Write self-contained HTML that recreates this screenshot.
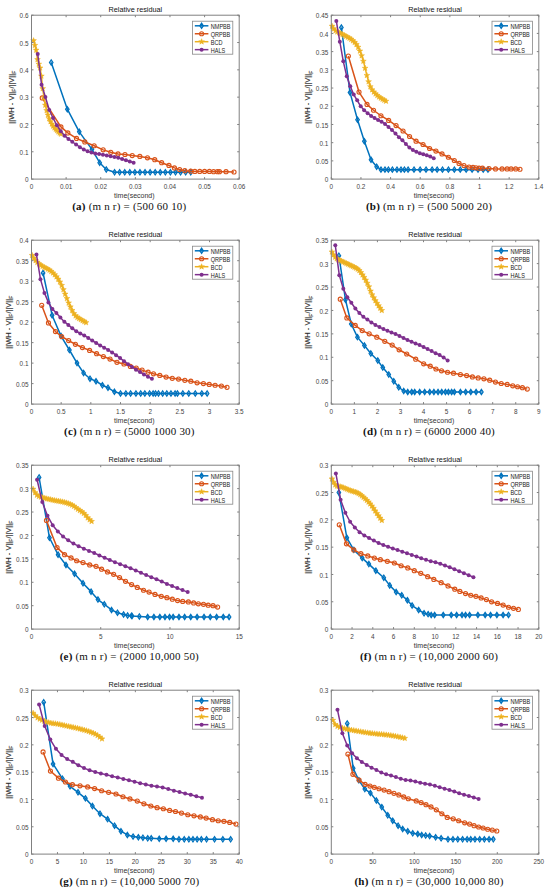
<!DOCTYPE html>
<html><head><meta charset="utf-8"><style>html,body{margin:0;padding:0;background:#fff;width:550px;height:891px;overflow:hidden}svg{display:block}</style></head><body>
<svg width="550" height="891" viewBox="0 0 550 891" font-family="Liberation Sans, sans-serif">
<g>
<path d="M51.23 62.46 L67.33 109.17 L79.27 131.84 L91.94 149.32 L99.69 162.71 L106.27 169.54 L114.58 172.27 L119.66 172.27 L124.73 172.27 L129.81 172.27 L134.89 172.27 L139.97 172.27 L145.04 172.27 L150.12 172.27 L155.20 172.27 L160.27 172.27 L165.35 172.27 L170.43 172.27 L175.51 172.27 L180.58 172.27 L185.66 172.27 L190.74 172.27" fill="none" stroke="#0072BD" stroke-width="1.50" stroke-linejoin="round"/>
<path d="M51.23 59.76L53.03 62.46L51.23 65.16L49.43 62.46Z" fill="#0072BD" fill-opacity="0.45" stroke="#0072BD" stroke-width="1.15"/><path d="M67.33 106.47L69.13 109.17L67.33 111.87L65.53 109.17Z" fill="#0072BD" fill-opacity="0.45" stroke="#0072BD" stroke-width="1.15"/><path d="M79.27 129.14L81.07 131.84L79.27 134.54L77.47 131.84Z" fill="#0072BD" fill-opacity="0.45" stroke="#0072BD" stroke-width="1.15"/><path d="M91.94 146.62L93.74 149.32L91.94 152.02L90.14 149.32Z" fill="#0072BD" fill-opacity="0.45" stroke="#0072BD" stroke-width="1.15"/><path d="M99.69 160.01L101.49 162.71L99.69 165.41L97.89 162.71Z" fill="#0072BD" fill-opacity="0.45" stroke="#0072BD" stroke-width="1.15"/><path d="M106.27 166.84L108.07 169.54L106.27 172.24L104.47 169.54Z" fill="#0072BD" fill-opacity="0.45" stroke="#0072BD" stroke-width="1.15"/><path d="M114.58 169.57L116.38 172.27L114.58 174.97L112.78 172.27Z" fill="#0072BD" fill-opacity="0.45" stroke="#0072BD" stroke-width="1.15"/><path d="M119.66 169.57L121.46 172.27L119.66 174.97L117.86 172.27Z" fill="#0072BD" fill-opacity="0.45" stroke="#0072BD" stroke-width="1.15"/><path d="M124.73 169.57L126.53 172.27L124.73 174.97L122.93 172.27Z" fill="#0072BD" fill-opacity="0.45" stroke="#0072BD" stroke-width="1.15"/><path d="M129.81 169.57L131.61 172.27L129.81 174.97L128.01 172.27Z" fill="#0072BD" fill-opacity="0.45" stroke="#0072BD" stroke-width="1.15"/><path d="M134.89 169.57L136.69 172.27L134.89 174.97L133.09 172.27Z" fill="#0072BD" fill-opacity="0.45" stroke="#0072BD" stroke-width="1.15"/><path d="M139.97 169.57L141.77 172.27L139.97 174.97L138.17 172.27Z" fill="#0072BD" fill-opacity="0.45" stroke="#0072BD" stroke-width="1.15"/><path d="M145.04 169.57L146.84 172.27L145.04 174.97L143.24 172.27Z" fill="#0072BD" fill-opacity="0.45" stroke="#0072BD" stroke-width="1.15"/><path d="M150.12 169.57L151.92 172.27L150.12 174.97L148.32 172.27Z" fill="#0072BD" fill-opacity="0.45" stroke="#0072BD" stroke-width="1.15"/><path d="M155.20 169.57L157.00 172.27L155.20 174.97L153.40 172.27Z" fill="#0072BD" fill-opacity="0.45" stroke="#0072BD" stroke-width="1.15"/><path d="M160.27 169.57L162.07 172.27L160.27 174.97L158.47 172.27Z" fill="#0072BD" fill-opacity="0.45" stroke="#0072BD" stroke-width="1.15"/><path d="M165.35 169.57L167.15 172.27L165.35 174.97L163.55 172.27Z" fill="#0072BD" fill-opacity="0.45" stroke="#0072BD" stroke-width="1.15"/><path d="M170.43 169.57L172.23 172.27L170.43 174.97L168.63 172.27Z" fill="#0072BD" fill-opacity="0.45" stroke="#0072BD" stroke-width="1.15"/><path d="M175.51 169.57L177.31 172.27L175.51 174.97L173.71 172.27Z" fill="#0072BD" fill-opacity="0.45" stroke="#0072BD" stroke-width="1.15"/><path d="M180.58 169.57L182.38 172.27L180.58 174.97L178.78 172.27Z" fill="#0072BD" fill-opacity="0.45" stroke="#0072BD" stroke-width="1.15"/><path d="M185.66 169.57L187.46 172.27L185.66 174.97L183.86 172.27Z" fill="#0072BD" fill-opacity="0.45" stroke="#0072BD" stroke-width="1.15"/><path d="M190.74 169.57L192.54 172.27L190.74 174.97L188.94 172.27Z" fill="#0072BD" fill-opacity="0.45" stroke="#0072BD" stroke-width="1.15"/>
<path d="M42.23 97.97 L60.92 126.93 L67.85 132.93 L76.50 138.40 L84.81 141.95 L94.16 145.77 L103.16 149.87 L110.77 152.33 L118.04 153.97 L124.97 154.51 L132.23 155.61 L139.85 156.43 L147.47 157.79 L154.74 159.71 L161.66 162.71 L168.93 165.44 L174.47 167.90 L179.66 169.54 L184.85 170.63 L190.74 171.18 L194.89 171.45 L199.74 171.45 L204.58 171.45 L209.43 171.45 L213.58 171.72 L217.39 171.72 L219.47 171.72 L226.05 171.72 L234.01 172.00" fill="none" stroke="#D95319" stroke-width="1.50" stroke-linejoin="round"/>
<circle cx="42.23" cy="97.97" r="2.05" fill="none" stroke="#D95319" stroke-width="1.1"/><circle cx="60.92" cy="126.93" r="2.05" fill="none" stroke="#D95319" stroke-width="1.1"/><circle cx="67.85" cy="132.93" r="2.05" fill="none" stroke="#D95319" stroke-width="1.1"/><circle cx="76.50" cy="138.40" r="2.05" fill="none" stroke="#D95319" stroke-width="1.1"/><circle cx="84.81" cy="141.95" r="2.05" fill="none" stroke="#D95319" stroke-width="1.1"/><circle cx="94.16" cy="145.77" r="2.05" fill="none" stroke="#D95319" stroke-width="1.1"/><circle cx="103.16" cy="149.87" r="2.05" fill="none" stroke="#D95319" stroke-width="1.1"/><circle cx="110.77" cy="152.33" r="2.05" fill="none" stroke="#D95319" stroke-width="1.1"/><circle cx="118.04" cy="153.97" r="2.05" fill="none" stroke="#D95319" stroke-width="1.1"/><circle cx="124.97" cy="154.51" r="2.05" fill="none" stroke="#D95319" stroke-width="1.1"/><circle cx="132.23" cy="155.61" r="2.05" fill="none" stroke="#D95319" stroke-width="1.1"/><circle cx="139.85" cy="156.43" r="2.05" fill="none" stroke="#D95319" stroke-width="1.1"/><circle cx="147.47" cy="157.79" r="2.05" fill="none" stroke="#D95319" stroke-width="1.1"/><circle cx="154.74" cy="159.71" r="2.05" fill="none" stroke="#D95319" stroke-width="1.1"/><circle cx="161.66" cy="162.71" r="2.05" fill="none" stroke="#D95319" stroke-width="1.1"/><circle cx="168.93" cy="165.44" r="2.05" fill="none" stroke="#D95319" stroke-width="1.1"/><circle cx="174.47" cy="167.90" r="2.05" fill="none" stroke="#D95319" stroke-width="1.1"/><circle cx="179.66" cy="169.54" r="2.05" fill="none" stroke="#D95319" stroke-width="1.1"/><circle cx="184.85" cy="170.63" r="2.05" fill="none" stroke="#D95319" stroke-width="1.1"/><circle cx="190.74" cy="171.18" r="2.05" fill="none" stroke="#D95319" stroke-width="1.1"/><circle cx="194.89" cy="171.45" r="2.05" fill="none" stroke="#D95319" stroke-width="1.1"/><circle cx="199.74" cy="171.45" r="2.05" fill="none" stroke="#D95319" stroke-width="1.1"/><circle cx="204.58" cy="171.45" r="2.05" fill="none" stroke="#D95319" stroke-width="1.1"/><circle cx="209.43" cy="171.45" r="2.05" fill="none" stroke="#D95319" stroke-width="1.1"/><circle cx="213.58" cy="171.72" r="2.05" fill="none" stroke="#D95319" stroke-width="1.1"/><circle cx="217.39" cy="171.72" r="2.05" fill="none" stroke="#D95319" stroke-width="1.1"/><circle cx="219.47" cy="171.72" r="2.05" fill="none" stroke="#D95319" stroke-width="1.1"/><circle cx="226.05" cy="171.72" r="2.05" fill="none" stroke="#D95319" stroke-width="1.1"/><circle cx="234.01" cy="172.00" r="2.05" fill="none" stroke="#D95319" stroke-width="1.1"/>
<path d="M33.58 40.60 L34.88 45.31 L36.18 50.10 L37.48 59.54 L38.79 64.16 L40.09 67.93 L41.39 76.03 L42.69 88.59 L43.99 97.74 L45.30 105.12 L46.60 110.48 L47.90 114.98 L49.20 118.66 L50.51 121.58 L51.81 123.99 L53.11 126.05 L54.41 127.75 L55.72 129.18 L57.02 130.50 L58.32 131.80 L59.62 132.96 L60.92 134.03" fill="none" stroke="#EDB120" stroke-width="1.50" stroke-linejoin="round"/>
<path d="M33.58,37.60 L34.32,39.59 L36.43,39.68 L34.78,40.99 L35.34,43.03 L33.58,41.86 L31.81,43.03 L32.38,40.99 L30.72,39.68 L32.84,39.59Z" fill="#EDB120" stroke="#EDB120" stroke-width="0.5"/><path d="M34.88,42.31 L35.62,44.29 L37.73,44.38 L36.08,45.70 L36.64,47.74 L34.88,46.57 L33.12,47.74 L33.68,45.70 L32.03,44.38 L34.14,44.29Z" fill="#EDB120" stroke="#EDB120" stroke-width="0.5"/><path d="M36.18,47.10 L36.92,49.08 L39.03,49.17 L37.38,50.49 L37.94,52.52 L36.18,51.36 L34.42,52.52 L34.98,50.49 L33.33,49.17 L35.44,49.08Z" fill="#EDB120" stroke="#EDB120" stroke-width="0.5"/><path d="M37.48,56.54 L38.22,58.52 L40.34,58.61 L38.68,59.93 L39.25,61.96 L37.48,60.80 L35.72,61.96 L36.29,59.93 L34.63,58.61 L36.74,58.52Z" fill="#EDB120" stroke="#EDB120" stroke-width="0.5"/><path d="M38.79,61.16 L39.53,63.14 L41.64,63.23 L39.98,64.54 L40.55,66.58 L38.79,65.42 L37.02,66.58 L37.59,64.54 L35.93,63.23 L38.05,63.14Z" fill="#EDB120" stroke="#EDB120" stroke-width="0.5"/><path d="M40.09,64.93 L40.83,66.91 L42.94,67.00 L41.29,68.32 L41.85,70.35 L40.09,69.19 L38.32,70.35 L38.89,68.32 L37.24,67.00 L39.35,66.91Z" fill="#EDB120" stroke="#EDB120" stroke-width="0.5"/><path d="M41.39,73.03 L42.13,75.01 L44.24,75.10 L42.59,76.41 L43.15,78.45 L41.39,77.29 L39.63,78.45 L40.19,76.41 L38.54,75.10 L40.65,75.01Z" fill="#EDB120" stroke="#EDB120" stroke-width="0.5"/><path d="M42.69,85.59 L43.43,87.57 L45.55,87.66 L43.89,88.98 L44.46,91.02 L42.69,89.85 L40.93,91.02 L41.49,88.98 L39.84,87.66 L41.95,87.57Z" fill="#EDB120" stroke="#EDB120" stroke-width="0.5"/><path d="M43.99,94.74 L44.74,96.72 L46.85,96.81 L45.19,98.13 L45.76,100.17 L43.99,99.00 L42.23,100.17 L42.80,98.13 L41.14,96.81 L43.25,96.72Z" fill="#EDB120" stroke="#EDB120" stroke-width="0.5"/><path d="M45.30,102.12 L46.04,104.10 L48.15,104.19 L46.50,105.51 L47.06,107.54 L45.30,106.38 L43.53,107.54 L44.10,105.51 L42.44,104.19 L44.56,104.10Z" fill="#EDB120" stroke="#EDB120" stroke-width="0.5"/><path d="M46.60,107.48 L47.34,109.46 L49.45,109.56 L47.80,110.87 L48.36,112.91 L46.60,111.74 L44.84,112.91 L45.40,110.87 L43.75,109.56 L45.86,109.46Z" fill="#EDB120" stroke="#EDB120" stroke-width="0.5"/><path d="M47.90,111.98 L48.64,113.96 L50.75,114.06 L49.10,115.37 L49.67,117.41 L47.90,116.24 L46.14,117.41 L46.70,115.37 L45.05,114.06 L47.16,113.96Z" fill="#EDB120" stroke="#EDB120" stroke-width="0.5"/><path d="M49.20,115.66 L49.94,117.64 L52.06,117.74 L50.40,119.05 L50.97,121.09 L49.20,119.92 L47.44,121.09 L48.01,119.05 L46.35,117.74 L48.46,117.64Z" fill="#EDB120" stroke="#EDB120" stroke-width="0.5"/><path d="M50.51,118.58 L51.25,120.56 L53.36,120.66 L51.70,121.97 L52.27,124.01 L50.51,122.84 L48.74,124.01 L49.31,121.97 L47.65,120.66 L49.77,120.56Z" fill="#EDB120" stroke="#EDB120" stroke-width="0.5"/><path d="M51.81,120.99 L52.55,122.97 L54.66,123.06 L53.01,124.38 L53.57,126.41 L51.81,125.25 L50.05,126.41 L50.61,124.38 L48.96,123.06 L51.07,122.97Z" fill="#EDB120" stroke="#EDB120" stroke-width="0.5"/><path d="M53.11,123.05 L53.85,125.03 L55.96,125.12 L54.31,126.44 L54.87,128.48 L53.11,127.31 L51.35,128.48 L51.91,126.44 L50.26,125.12 L52.37,125.03Z" fill="#EDB120" stroke="#EDB120" stroke-width="0.5"/><path d="M54.41,124.75 L55.15,126.73 L57.27,126.82 L55.61,128.14 L56.18,130.18 L54.41,129.01 L52.65,130.18 L53.21,128.14 L51.56,126.82 L53.67,126.73Z" fill="#EDB120" stroke="#EDB120" stroke-width="0.5"/><path d="M55.72,126.18 L56.46,128.16 L58.57,128.26 L56.91,129.57 L57.48,131.61 L55.72,130.44 L53.95,131.61 L54.52,129.57 L52.86,128.26 L54.97,128.16Z" fill="#EDB120" stroke="#EDB120" stroke-width="0.5"/><path d="M57.02,127.50 L57.76,129.48 L59.87,129.57 L58.22,130.89 L58.78,132.93 L57.02,131.76 L55.25,132.93 L55.82,130.89 L54.16,129.57 L56.28,129.48Z" fill="#EDB120" stroke="#EDB120" stroke-width="0.5"/><path d="M58.32,128.80 L59.06,130.78 L61.17,130.88 L59.52,132.19 L60.08,134.23 L58.32,133.06 L56.56,134.23 L57.12,132.19 L55.47,130.88 L57.58,130.78Z" fill="#EDB120" stroke="#EDB120" stroke-width="0.5"/><path d="M59.62,129.96 L60.36,131.94 L62.48,132.04 L60.82,133.35 L61.39,135.39 L59.62,134.22 L57.86,135.39 L58.42,133.35 L56.77,132.04 L58.88,131.94Z" fill="#EDB120" stroke="#EDB120" stroke-width="0.5"/><path d="M60.92,131.03 L61.66,133.01 L63.78,133.10 L62.12,134.42 L62.69,136.45 L60.92,135.29 L59.16,136.45 L59.73,134.42 L58.07,133.10 L60.18,133.01Z" fill="#EDB120" stroke="#EDB120" stroke-width="0.5"/>
<path d="M37.73 53.99 L41.57 84.73 L45.40 96.91 L49.24 110.02 L53.07 118.02 L56.91 125.28 L60.74 131.29 L64.58 135.69 L68.42 138.88 L72.25 141.75 L76.09 144.50 L79.92 147.15 L83.76 149.41 L87.59 151.16 L91.43 152.51 L95.26 153.41 L99.10 154.02 L102.93 154.70 L106.77 155.38 L110.61 156.13 L114.44 156.94 L118.28 157.85 L122.11 158.96 L125.95 160.18 L129.78 161.44 L133.62 162.71" fill="none" stroke="#7E2F8E" stroke-width="1.50" stroke-linejoin="round"/>
<circle cx="37.73" cy="53.99" r="2.00" fill="#7E2F8E"/><circle cx="41.57" cy="84.73" r="2.00" fill="#7E2F8E"/><circle cx="45.40" cy="96.91" r="2.00" fill="#7E2F8E"/><circle cx="49.24" cy="110.02" r="2.00" fill="#7E2F8E"/><circle cx="53.07" cy="118.02" r="2.00" fill="#7E2F8E"/><circle cx="56.91" cy="125.28" r="2.00" fill="#7E2F8E"/><circle cx="60.74" cy="131.29" r="2.00" fill="#7E2F8E"/><circle cx="64.58" cy="135.69" r="2.00" fill="#7E2F8E"/><circle cx="68.42" cy="138.88" r="2.00" fill="#7E2F8E"/><circle cx="72.25" cy="141.75" r="2.00" fill="#7E2F8E"/><circle cx="76.09" cy="144.50" r="2.00" fill="#7E2F8E"/><circle cx="79.92" cy="147.15" r="2.00" fill="#7E2F8E"/><circle cx="83.76" cy="149.41" r="2.00" fill="#7E2F8E"/><circle cx="87.59" cy="151.16" r="2.00" fill="#7E2F8E"/><circle cx="91.43" cy="152.51" r="2.00" fill="#7E2F8E"/><circle cx="95.26" cy="153.41" r="2.00" fill="#7E2F8E"/><circle cx="99.10" cy="154.02" r="2.00" fill="#7E2F8E"/><circle cx="102.93" cy="154.70" r="2.00" fill="#7E2F8E"/><circle cx="106.77" cy="155.38" r="2.00" fill="#7E2F8E"/><circle cx="110.61" cy="156.13" r="2.00" fill="#7E2F8E"/><circle cx="114.44" cy="156.94" r="2.00" fill="#7E2F8E"/><circle cx="118.28" cy="157.85" r="2.00" fill="#7E2F8E"/><circle cx="122.11" cy="158.96" r="2.00" fill="#7E2F8E"/><circle cx="125.95" cy="160.18" r="2.00" fill="#7E2F8E"/><circle cx="129.78" cy="161.44" r="2.00" fill="#7E2F8E"/><circle cx="133.62" cy="162.71" r="2.00" fill="#7E2F8E"/>
</g>
<rect x="31.50" y="15.20" width="207.70" height="163.90" fill="none" stroke="#808080" stroke-width="1.00"/>
<text x="31.50" y="188.50" font-size="6.40" text-anchor="middle" fill="#444">0</text>
<text x="66.12" y="188.50" font-size="6.40" text-anchor="middle" fill="#444">0.01</text>
<text x="100.73" y="188.50" font-size="6.40" text-anchor="middle" fill="#444">0.02</text>
<text x="135.35" y="188.50" font-size="6.40" text-anchor="middle" fill="#444">0.03</text>
<text x="169.97" y="188.50" font-size="6.40" text-anchor="middle" fill="#444">0.04</text>
<text x="204.58" y="188.50" font-size="6.40" text-anchor="middle" fill="#444">0.05</text>
<text x="239.20" y="188.50" font-size="6.40" text-anchor="middle" fill="#444">0.06</text>
<text x="28.50" y="182.30" font-size="6.40" text-anchor="end" fill="#444">0</text>
<text x="28.50" y="154.98" font-size="6.40" text-anchor="end" fill="#444">0.1</text>
<text x="28.50" y="127.67" font-size="6.40" text-anchor="end" fill="#444">0.2</text>
<text x="28.50" y="100.35" font-size="6.40" text-anchor="end" fill="#444">0.3</text>
<text x="28.50" y="73.03" font-size="6.40" text-anchor="end" fill="#444">0.4</text>
<text x="28.50" y="45.72" font-size="6.40" text-anchor="end" fill="#444">0.5</text>
<text x="28.50" y="18.40" font-size="6.40" text-anchor="end" fill="#444">0.6</text>
<path d="M31.50 179.10V177.10M31.50 15.20V17.20M66.12 179.10V177.10M66.12 15.20V17.20M100.73 179.10V177.10M100.73 15.20V17.20M135.35 179.10V177.10M135.35 15.20V17.20M169.97 179.10V177.10M169.97 15.20V17.20M204.58 179.10V177.10M204.58 15.20V17.20M239.20 179.10V177.10M239.20 15.20V17.20M31.50 179.10H33.50M239.20 179.10H237.20M31.50 151.78H33.50M239.20 151.78H237.20M31.50 124.47H33.50M239.20 124.47H237.20M31.50 97.15H33.50M239.20 97.15H237.20M31.50 69.83H33.50M239.20 69.83H237.20M31.50 42.52H33.50M239.20 42.52H237.20M31.50 15.20H33.50M239.20 15.20H237.20" stroke="#808080" stroke-width="1.00"/>
<text x="135.35" y="12.00" font-size="7.25" text-anchor="middle" fill="#111">Relative residual</text>
<text x="134.35" y="197.50" font-size="7.00" text-anchor="middle" fill="#333">time(second)</text>
<text transform="translate(14.10 97.15) rotate(-90)" font-size="7.50" text-anchor="middle" fill="#222" stroke="#444" stroke-width="0.15">||WH - V||<tspan font-size="5" dy="2.3">F</tspan><tspan dy="-2.3">/||V||</tspan><tspan font-size="5" dy="2.3">F</tspan></text>
<rect x="192.40" y="21.20" width="40.40" height="33.00" fill="#fff" stroke="#888" stroke-width="0.8"/>
<path d="M194.80 25.80H208.40" stroke="#0072BD" stroke-width="1.50"/>
<path d="M201.60 23.10L203.40 25.80L201.60 28.50L199.80 25.80Z" fill="#0072BD" fill-opacity="0.45" stroke="#0072BD" stroke-width="1.15"/>
<text transform="translate(210.80 28.70) scale(1 1.15)" font-size="5.55" fill="#1a1a1a">NMPBB</text>
<path d="M194.80 33.75H208.40" stroke="#D95319" stroke-width="1.50"/>
<circle cx="201.60" cy="33.75" r="2.05" fill="none" stroke="#D95319" stroke-width="1.1"/>
<text transform="translate(210.80 36.65) scale(1 1.15)" font-size="5.55" fill="#1a1a1a">QRPBB</text>
<path d="M194.80 41.70H208.40" stroke="#EDB120" stroke-width="1.50"/>
<path d="M201.60,38.70 L202.34,40.68 L204.45,40.77 L202.80,42.09 L203.36,44.13 L201.60,42.96 L199.84,44.13 L200.40,42.09 L198.75,40.77 L200.86,40.68Z" fill="#EDB120" stroke="#EDB120" stroke-width="0.5"/>
<text transform="translate(210.80 44.60) scale(1 1.15)" font-size="5.55" fill="#1a1a1a">BCD</text>
<path d="M194.80 49.65H208.40" stroke="#7E2F8E" stroke-width="1.50"/>
<circle cx="201.60" cy="49.65" r="2.00" fill="#7E2F8E"/>
<text transform="translate(210.80 52.55) scale(1 1.15)" font-size="5.55" fill="#1a1a1a">HALS</text>
<text x="129.35" y="209.70" font-family="Liberation Serif, serif" font-size="11.00" text-anchor="middle" letter-spacing="0.2" fill="#111"><tspan font-weight="bold">(a)</tspan> (m n r) = (500 60 10)</text>
<g>
<path d="M341.38 27.58 L349.98 92.42 L357.53 119.73 L364.35 141.22 L371.02 159.80 L376.65 166.72 L380.95 169.63 L384.95 169.63 L388.36 169.63 L392.36 169.63 L396.96 169.63 L400.96 169.63 L404.37 169.63 L408.07 169.63 L414.00 169.63 L420.08 169.63 L426.01 169.63 L432.09 169.63 L437.12 169.63 L442.46 169.63 L448.39 169.63 L454.32 169.63 L460.25 169.63 L466.17 169.63 L472.10 169.63 L478.03 169.63 L483.22 169.63 L487.96 169.63" fill="none" stroke="#0072BD" stroke-width="1.50" stroke-linejoin="round"/>
<path d="M341.38 24.88L343.18 27.58L341.38 30.28L339.58 27.58Z" fill="#0072BD" fill-opacity="0.45" stroke="#0072BD" stroke-width="1.15"/><path d="M349.98 89.72L351.78 92.42L349.98 95.12L348.18 92.42Z" fill="#0072BD" fill-opacity="0.45" stroke="#0072BD" stroke-width="1.15"/><path d="M357.53 117.03L359.33 119.73L357.53 122.43L355.73 119.73Z" fill="#0072BD" fill-opacity="0.45" stroke="#0072BD" stroke-width="1.15"/><path d="M364.35 138.52L366.15 141.22L364.35 143.92L362.55 141.22Z" fill="#0072BD" fill-opacity="0.45" stroke="#0072BD" stroke-width="1.15"/><path d="M371.02 157.10L372.82 159.80L371.02 162.50L369.22 159.80Z" fill="#0072BD" fill-opacity="0.45" stroke="#0072BD" stroke-width="1.15"/><path d="M376.65 164.02L378.45 166.72L376.65 169.42L374.85 166.72Z" fill="#0072BD" fill-opacity="0.45" stroke="#0072BD" stroke-width="1.15"/><path d="M380.95 166.93L382.75 169.63L380.95 172.33L379.15 169.63Z" fill="#0072BD" fill-opacity="0.45" stroke="#0072BD" stroke-width="1.15"/><path d="M384.95 166.93L386.75 169.63L384.95 172.33L383.15 169.63Z" fill="#0072BD" fill-opacity="0.45" stroke="#0072BD" stroke-width="1.15"/><path d="M388.36 166.93L390.16 169.63L388.36 172.33L386.56 169.63Z" fill="#0072BD" fill-opacity="0.45" stroke="#0072BD" stroke-width="1.15"/><path d="M392.36 166.93L394.16 169.63L392.36 172.33L390.56 169.63Z" fill="#0072BD" fill-opacity="0.45" stroke="#0072BD" stroke-width="1.15"/><path d="M396.96 166.93L398.76 169.63L396.96 172.33L395.16 169.63Z" fill="#0072BD" fill-opacity="0.45" stroke="#0072BD" stroke-width="1.15"/><path d="M400.96 166.93L402.76 169.63L400.96 172.33L399.16 169.63Z" fill="#0072BD" fill-opacity="0.45" stroke="#0072BD" stroke-width="1.15"/><path d="M404.37 166.93L406.17 169.63L404.37 172.33L402.57 169.63Z" fill="#0072BD" fill-opacity="0.45" stroke="#0072BD" stroke-width="1.15"/><path d="M408.07 166.93L409.88 169.63L408.07 172.33L406.27 169.63Z" fill="#0072BD" fill-opacity="0.45" stroke="#0072BD" stroke-width="1.15"/><path d="M414.00 166.93L415.80 169.63L414.00 172.33L412.20 169.63Z" fill="#0072BD" fill-opacity="0.45" stroke="#0072BD" stroke-width="1.15"/><path d="M420.08 166.93L421.88 169.63L420.08 172.33L418.28 169.63Z" fill="#0072BD" fill-opacity="0.45" stroke="#0072BD" stroke-width="1.15"/><path d="M426.01 166.93L427.81 169.63L426.01 172.33L424.21 169.63Z" fill="#0072BD" fill-opacity="0.45" stroke="#0072BD" stroke-width="1.15"/><path d="M432.09 166.93L433.89 169.63L432.09 172.33L430.29 169.63Z" fill="#0072BD" fill-opacity="0.45" stroke="#0072BD" stroke-width="1.15"/><path d="M437.12 166.93L438.93 169.63L437.12 172.33L435.32 169.63Z" fill="#0072BD" fill-opacity="0.45" stroke="#0072BD" stroke-width="1.15"/><path d="M442.46 166.93L444.26 169.63L442.46 172.33L440.66 169.63Z" fill="#0072BD" fill-opacity="0.45" stroke="#0072BD" stroke-width="1.15"/><path d="M448.39 166.93L450.19 169.63L448.39 172.33L446.59 169.63Z" fill="#0072BD" fill-opacity="0.45" stroke="#0072BD" stroke-width="1.15"/><path d="M454.32 166.93L456.12 169.63L454.32 172.33L452.52 169.63Z" fill="#0072BD" fill-opacity="0.45" stroke="#0072BD" stroke-width="1.15"/><path d="M460.25 166.93L462.05 169.63L460.25 172.33L458.45 169.63Z" fill="#0072BD" fill-opacity="0.45" stroke="#0072BD" stroke-width="1.15"/><path d="M466.17 166.93L467.97 169.63L466.17 172.33L464.37 169.63Z" fill="#0072BD" fill-opacity="0.45" stroke="#0072BD" stroke-width="1.15"/><path d="M472.10 166.93L473.90 169.63L472.10 172.33L470.30 169.63Z" fill="#0072BD" fill-opacity="0.45" stroke="#0072BD" stroke-width="1.15"/><path d="M478.03 166.93L479.83 169.63L478.03 172.33L476.23 169.63Z" fill="#0072BD" fill-opacity="0.45" stroke="#0072BD" stroke-width="1.15"/><path d="M483.22 166.93L485.02 169.63L483.22 172.33L481.42 169.63Z" fill="#0072BD" fill-opacity="0.45" stroke="#0072BD" stroke-width="1.15"/><path d="M487.96 166.93L489.76 169.63L487.96 172.33L486.16 169.63Z" fill="#0072BD" fill-opacity="0.45" stroke="#0072BD" stroke-width="1.15"/>
<path d="M348.34 55.99 L359.02 92.05 L367.02 104.43 L373.54 110.26 L380.95 115.73 L388.66 120.46 L396.07 125.56 L403.04 131.02 L409.56 136.49 L416.08 141.22 L423.04 144.50 L429.57 148.51 L435.94 151.05 L442.02 153.97 L448.39 157.25 L454.32 160.52 L459.06 163.44 L463.95 165.62 L468.99 167.08 L472.99 167.44 L475.96 167.81 L479.07 168.17 L482.48 168.17 L489.00 168.54 L495.52 168.90 L502.04 168.90 L507.08 168.90 L511.08 168.90 L515.68 168.90 L519.98 169.27" fill="none" stroke="#D95319" stroke-width="1.50" stroke-linejoin="round"/>
<circle cx="348.34" cy="55.99" r="2.05" fill="none" stroke="#D95319" stroke-width="1.1"/><circle cx="359.02" cy="92.05" r="2.05" fill="none" stroke="#D95319" stroke-width="1.1"/><circle cx="367.02" cy="104.43" r="2.05" fill="none" stroke="#D95319" stroke-width="1.1"/><circle cx="373.54" cy="110.26" r="2.05" fill="none" stroke="#D95319" stroke-width="1.1"/><circle cx="380.95" cy="115.73" r="2.05" fill="none" stroke="#D95319" stroke-width="1.1"/><circle cx="388.66" cy="120.46" r="2.05" fill="none" stroke="#D95319" stroke-width="1.1"/><circle cx="396.07" cy="125.56" r="2.05" fill="none" stroke="#D95319" stroke-width="1.1"/><circle cx="403.04" cy="131.02" r="2.05" fill="none" stroke="#D95319" stroke-width="1.1"/><circle cx="409.56" cy="136.49" r="2.05" fill="none" stroke="#D95319" stroke-width="1.1"/><circle cx="416.08" cy="141.22" r="2.05" fill="none" stroke="#D95319" stroke-width="1.1"/><circle cx="423.04" cy="144.50" r="2.05" fill="none" stroke="#D95319" stroke-width="1.1"/><circle cx="429.57" cy="148.51" r="2.05" fill="none" stroke="#D95319" stroke-width="1.1"/><circle cx="435.94" cy="151.05" r="2.05" fill="none" stroke="#D95319" stroke-width="1.1"/><circle cx="442.02" cy="153.97" r="2.05" fill="none" stroke="#D95319" stroke-width="1.1"/><circle cx="448.39" cy="157.25" r="2.05" fill="none" stroke="#D95319" stroke-width="1.1"/><circle cx="454.32" cy="160.52" r="2.05" fill="none" stroke="#D95319" stroke-width="1.1"/><circle cx="459.06" cy="163.44" r="2.05" fill="none" stroke="#D95319" stroke-width="1.1"/><circle cx="463.95" cy="165.62" r="2.05" fill="none" stroke="#D95319" stroke-width="1.1"/><circle cx="468.99" cy="167.08" r="2.05" fill="none" stroke="#D95319" stroke-width="1.1"/><circle cx="472.99" cy="167.44" r="2.05" fill="none" stroke="#D95319" stroke-width="1.1"/><circle cx="475.96" cy="167.81" r="2.05" fill="none" stroke="#D95319" stroke-width="1.1"/><circle cx="479.07" cy="168.17" r="2.05" fill="none" stroke="#D95319" stroke-width="1.1"/><circle cx="482.48" cy="168.17" r="2.05" fill="none" stroke="#D95319" stroke-width="1.1"/><circle cx="489.00" cy="168.54" r="2.05" fill="none" stroke="#D95319" stroke-width="1.1"/><circle cx="495.52" cy="168.90" r="2.05" fill="none" stroke="#D95319" stroke-width="1.1"/><circle cx="502.04" cy="168.90" r="2.05" fill="none" stroke="#D95319" stroke-width="1.1"/><circle cx="507.08" cy="168.90" r="2.05" fill="none" stroke="#D95319" stroke-width="1.1"/><circle cx="511.08" cy="168.90" r="2.05" fill="none" stroke="#D95319" stroke-width="1.1"/><circle cx="515.68" cy="168.90" r="2.05" fill="none" stroke="#D95319" stroke-width="1.1"/><circle cx="519.98" cy="169.27" r="2.05" fill="none" stroke="#D95319" stroke-width="1.1"/>
<path d="M332.04 26.13 L333.78 28.80 L335.52 30.68 L337.26 31.83 L339.00 32.74 L340.74 33.58 L342.48 34.42 L344.22 35.33 L345.96 36.26 L347.70 37.17 L349.44 38.15 L351.18 39.29 L352.92 40.71 L354.67 42.33 L356.41 44.39 L358.15 47.20 L359.89 50.99 L361.63 55.70 L363.37 61.18 L365.11 68.18 L366.85 75.41 L368.59 81.70 L370.33 86.64 L372.07 89.74 L373.81 91.98 L375.55 93.82 L377.29 95.44 L379.03 96.89 L380.77 98.09 L382.51 99.16 L384.25 100.15 L385.99 101.16" fill="none" stroke="#EDB120" stroke-width="1.50" stroke-linejoin="round"/>
<path d="M332.04,23.13 L332.78,25.11 L334.89,25.20 L333.24,26.52 L333.80,28.55 L332.04,27.39 L330.28,28.55 L330.84,26.52 L329.19,25.20 L331.30,25.11Z" fill="#EDB120" stroke="#EDB120" stroke-width="0.5"/><path d="M333.78,25.80 L334.52,27.78 L336.63,27.87 L334.98,29.19 L335.54,31.23 L333.78,30.06 L332.02,31.23 L332.58,29.19 L330.93,27.87 L333.04,27.78Z" fill="#EDB120" stroke="#EDB120" stroke-width="0.5"/><path d="M335.52,27.68 L336.26,29.66 L338.37,29.76 L336.72,31.07 L337.29,33.11 L335.52,31.94 L333.76,33.11 L334.32,31.07 L332.67,29.76 L334.78,29.66Z" fill="#EDB120" stroke="#EDB120" stroke-width="0.5"/><path d="M337.26,28.83 L338.00,30.82 L340.12,30.91 L338.46,32.22 L339.03,34.26 L337.26,33.09 L335.50,34.26 L336.06,32.22 L334.41,30.91 L336.52,30.82Z" fill="#EDB120" stroke="#EDB120" stroke-width="0.5"/><path d="M339.00,29.74 L339.74,31.72 L341.86,31.82 L340.20,33.13 L340.77,35.17 L339.00,34.00 L337.24,35.17 L337.80,33.13 L336.15,31.82 L338.26,31.72Z" fill="#EDB120" stroke="#EDB120" stroke-width="0.5"/><path d="M340.74,30.58 L341.48,32.56 L343.60,32.65 L341.94,33.97 L342.51,36.00 L340.74,34.84 L338.98,36.00 L339.54,33.97 L337.89,32.65 L340.00,32.56Z" fill="#EDB120" stroke="#EDB120" stroke-width="0.5"/><path d="M342.48,31.42 L343.22,33.40 L345.34,33.49 L343.68,34.81 L344.25,36.84 L342.48,35.68 L340.72,36.84 L341.28,34.81 L339.63,33.49 L341.74,33.40Z" fill="#EDB120" stroke="#EDB120" stroke-width="0.5"/><path d="M344.22,32.33 L344.96,34.31 L347.08,34.40 L345.42,35.72 L345.99,37.76 L344.22,36.59 L342.46,37.76 L343.02,35.72 L341.37,34.40 L343.48,34.31Z" fill="#EDB120" stroke="#EDB120" stroke-width="0.5"/><path d="M345.96,33.26 L346.70,35.24 L348.82,35.33 L347.16,36.65 L347.73,38.69 L345.96,37.52 L344.20,38.69 L344.77,36.65 L343.11,35.33 L345.22,35.24Z" fill="#EDB120" stroke="#EDB120" stroke-width="0.5"/><path d="M347.70,34.17 L348.44,36.15 L350.56,36.25 L348.90,37.56 L349.47,39.60 L347.70,38.43 L345.94,39.60 L346.51,37.56 L344.85,36.25 L346.96,36.15Z" fill="#EDB120" stroke="#EDB120" stroke-width="0.5"/><path d="M349.44,35.15 L350.18,37.13 L352.30,37.23 L350.64,38.54 L351.21,40.58 L349.44,39.41 L347.68,40.58 L348.25,38.54 L346.59,37.23 L348.70,37.13Z" fill="#EDB120" stroke="#EDB120" stroke-width="0.5"/><path d="M351.18,36.29 L351.93,38.28 L354.04,38.37 L352.38,39.68 L352.95,41.72 L351.18,40.55 L349.42,41.72 L349.99,39.68 L348.33,38.37 L350.44,38.28Z" fill="#EDB120" stroke="#EDB120" stroke-width="0.5"/><path d="M352.92,37.71 L353.67,39.69 L355.78,39.78 L354.12,41.10 L354.69,43.14 L352.92,41.97 L351.16,43.14 L351.73,41.10 L350.07,39.78 L352.18,39.69Z" fill="#EDB120" stroke="#EDB120" stroke-width="0.5"/><path d="M354.67,39.33 L355.41,41.32 L357.52,41.41 L355.86,42.72 L356.43,44.76 L354.67,43.59 L352.90,44.76 L353.47,42.72 L351.81,41.41 L353.92,41.32Z" fill="#EDB120" stroke="#EDB120" stroke-width="0.5"/><path d="M356.41,41.39 L357.15,43.37 L359.26,43.46 L357.60,44.78 L358.17,46.82 L356.41,45.65 L354.64,46.82 L355.21,44.78 L353.55,43.46 L355.66,43.37Z" fill="#EDB120" stroke="#EDB120" stroke-width="0.5"/><path d="M358.15,44.20 L358.89,46.18 L361.00,46.27 L359.34,47.59 L359.91,49.63 L358.15,48.46 L356.38,49.63 L356.95,47.59 L355.29,46.27 L357.41,46.18Z" fill="#EDB120" stroke="#EDB120" stroke-width="0.5"/><path d="M359.89,47.99 L360.63,49.98 L362.74,50.07 L361.08,51.38 L361.65,53.42 L359.89,52.25 L358.12,53.42 L358.69,51.38 L357.03,50.07 L359.15,49.98Z" fill="#EDB120" stroke="#EDB120" stroke-width="0.5"/><path d="M361.63,52.70 L362.37,54.69 L364.48,54.78 L362.82,56.09 L363.39,58.13 L361.63,56.96 L359.86,58.13 L360.43,56.09 L358.77,54.78 L360.89,54.69Z" fill="#EDB120" stroke="#EDB120" stroke-width="0.5"/><path d="M363.37,58.18 L364.11,60.16 L366.22,60.25 L364.57,61.57 L365.13,63.60 L363.37,62.44 L361.60,63.60 L362.17,61.57 L360.51,60.25 L362.63,60.16Z" fill="#EDB120" stroke="#EDB120" stroke-width="0.5"/><path d="M365.11,65.18 L365.85,67.16 L367.96,67.26 L366.31,68.57 L366.87,70.61 L365.11,69.44 L363.34,70.61 L363.91,68.57 L362.25,67.26 L364.37,67.16Z" fill="#EDB120" stroke="#EDB120" stroke-width="0.5"/><path d="M366.85,72.41 L367.59,74.39 L369.70,74.48 L368.05,75.80 L368.61,77.83 L366.85,76.67 L365.08,77.83 L365.65,75.80 L363.99,74.48 L366.11,74.39Z" fill="#EDB120" stroke="#EDB120" stroke-width="0.5"/><path d="M368.59,78.70 L369.33,80.68 L371.44,80.77 L369.79,82.08 L370.35,84.12 L368.59,82.96 L366.82,84.12 L367.39,82.08 L365.73,80.77 L367.85,80.68Z" fill="#EDB120" stroke="#EDB120" stroke-width="0.5"/><path d="M370.33,83.64 L371.07,85.63 L373.18,85.72 L371.53,87.03 L372.09,89.07 L370.33,87.90 L368.56,89.07 L369.13,87.03 L367.47,85.72 L369.59,85.63Z" fill="#EDB120" stroke="#EDB120" stroke-width="0.5"/><path d="M372.07,86.74 L372.81,88.73 L374.92,88.82 L373.27,90.13 L373.83,92.17 L372.07,91.00 L370.31,92.17 L370.87,90.13 L369.22,88.82 L371.33,88.73Z" fill="#EDB120" stroke="#EDB120" stroke-width="0.5"/><path d="M373.81,88.98 L374.55,90.96 L376.66,91.06 L375.01,92.37 L375.57,94.41 L373.81,93.24 L372.05,94.41 L372.61,92.37 L370.96,91.06 L373.07,90.96Z" fill="#EDB120" stroke="#EDB120" stroke-width="0.5"/><path d="M375.55,90.82 L376.29,92.80 L378.40,92.89 L376.75,94.21 L377.31,96.25 L375.55,95.08 L373.79,96.25 L374.35,94.21 L372.70,92.89 L374.81,92.80Z" fill="#EDB120" stroke="#EDB120" stroke-width="0.5"/><path d="M377.29,92.44 L378.03,94.42 L380.14,94.51 L378.49,95.83 L379.05,97.87 L377.29,96.70 L375.53,97.87 L376.09,95.83 L374.44,94.51 L376.55,94.42Z" fill="#EDB120" stroke="#EDB120" stroke-width="0.5"/><path d="M379.03,93.89 L379.77,95.88 L381.88,95.97 L380.23,97.28 L380.79,99.32 L379.03,98.15 L377.27,99.32 L377.83,97.28 L376.18,95.97 L378.29,95.88Z" fill="#EDB120" stroke="#EDB120" stroke-width="0.5"/><path d="M380.77,95.09 L381.51,97.07 L383.62,97.17 L381.97,98.48 L382.53,100.52 L380.77,99.35 L379.01,100.52 L379.57,98.48 L377.92,97.17 L380.03,97.07Z" fill="#EDB120" stroke="#EDB120" stroke-width="0.5"/><path d="M382.51,96.16 L383.25,98.14 L385.36,98.23 L383.71,99.55 L384.27,101.58 L382.51,100.42 L380.75,101.58 L381.31,99.55 L379.66,98.23 L381.77,98.14Z" fill="#EDB120" stroke="#EDB120" stroke-width="0.5"/><path d="M384.25,97.15 L384.99,99.13 L387.10,99.23 L385.45,100.54 L386.01,102.58 L384.25,101.41 L382.49,102.58 L383.05,100.54 L381.40,99.23 L383.51,99.13Z" fill="#EDB120" stroke="#EDB120" stroke-width="0.5"/><path d="M385.99,98.16 L386.73,100.14 L388.84,100.23 L387.19,101.55 L387.75,103.58 L385.99,102.42 L384.23,103.58 L384.79,101.55 L383.14,100.23 L385.25,100.14Z" fill="#EDB120" stroke="#EDB120" stroke-width="0.5"/>
<path d="M336.34 21.03 L339.82 41.66 L343.29 61.36 L346.77 76.37 L350.25 86.25 L353.73 94.62 L357.21 100.37 L360.68 106.32 L364.16 110.30 L367.64 113.23 L371.12 115.92 L374.59 117.99 L378.07 120.04 L381.55 121.70 L385.03 123.91 L388.51 127.05 L391.98 130.07 L395.46 133.45 L398.94 137.19 L402.42 140.32 L405.89 143.97 L409.37 147.54 L412.85 150.09 L416.33 151.80 L419.81 153.16 L423.28 154.37 L426.76 155.36 L430.24 156.52 L433.72 158.34" fill="none" stroke="#7E2F8E" stroke-width="1.50" stroke-linejoin="round"/>
<circle cx="336.34" cy="21.03" r="2.00" fill="#7E2F8E"/><circle cx="339.82" cy="41.66" r="2.00" fill="#7E2F8E"/><circle cx="343.29" cy="61.36" r="2.00" fill="#7E2F8E"/><circle cx="346.77" cy="76.37" r="2.00" fill="#7E2F8E"/><circle cx="350.25" cy="86.25" r="2.00" fill="#7E2F8E"/><circle cx="353.73" cy="94.62" r="2.00" fill="#7E2F8E"/><circle cx="357.21" cy="100.37" r="2.00" fill="#7E2F8E"/><circle cx="360.68" cy="106.32" r="2.00" fill="#7E2F8E"/><circle cx="364.16" cy="110.30" r="2.00" fill="#7E2F8E"/><circle cx="367.64" cy="113.23" r="2.00" fill="#7E2F8E"/><circle cx="371.12" cy="115.92" r="2.00" fill="#7E2F8E"/><circle cx="374.59" cy="117.99" r="2.00" fill="#7E2F8E"/><circle cx="378.07" cy="120.04" r="2.00" fill="#7E2F8E"/><circle cx="381.55" cy="121.70" r="2.00" fill="#7E2F8E"/><circle cx="385.03" cy="123.91" r="2.00" fill="#7E2F8E"/><circle cx="388.51" cy="127.05" r="2.00" fill="#7E2F8E"/><circle cx="391.98" cy="130.07" r="2.00" fill="#7E2F8E"/><circle cx="395.46" cy="133.45" r="2.00" fill="#7E2F8E"/><circle cx="398.94" cy="137.19" r="2.00" fill="#7E2F8E"/><circle cx="402.42" cy="140.32" r="2.00" fill="#7E2F8E"/><circle cx="405.89" cy="143.97" r="2.00" fill="#7E2F8E"/><circle cx="409.37" cy="147.54" r="2.00" fill="#7E2F8E"/><circle cx="412.85" cy="150.09" r="2.00" fill="#7E2F8E"/><circle cx="416.33" cy="151.80" r="2.00" fill="#7E2F8E"/><circle cx="419.81" cy="153.16" r="2.00" fill="#7E2F8E"/><circle cx="423.28" cy="154.37" r="2.00" fill="#7E2F8E"/><circle cx="426.76" cy="155.36" r="2.00" fill="#7E2F8E"/><circle cx="430.24" cy="156.52" r="2.00" fill="#7E2F8E"/><circle cx="433.72" cy="158.34" r="2.00" fill="#7E2F8E"/>
</g>
<rect x="331.30" y="15.20" width="207.50" height="163.90" fill="none" stroke="#808080" stroke-width="1.00"/>
<text x="331.30" y="188.50" font-size="6.40" text-anchor="middle" fill="#444">0</text>
<text x="360.94" y="188.50" font-size="6.40" text-anchor="middle" fill="#444">0.2</text>
<text x="390.59" y="188.50" font-size="6.40" text-anchor="middle" fill="#444">0.4</text>
<text x="420.23" y="188.50" font-size="6.40" text-anchor="middle" fill="#444">0.6</text>
<text x="449.87" y="188.50" font-size="6.40" text-anchor="middle" fill="#444">0.8</text>
<text x="479.51" y="188.50" font-size="6.40" text-anchor="middle" fill="#444">1</text>
<text x="509.16" y="188.50" font-size="6.40" text-anchor="middle" fill="#444">1.2</text>
<text x="538.80" y="188.50" font-size="6.40" text-anchor="middle" fill="#444">1.4</text>
<text x="328.30" y="182.30" font-size="6.40" text-anchor="end" fill="#444">0</text>
<text x="328.30" y="164.09" font-size="6.40" text-anchor="end" fill="#444">0.05</text>
<text x="328.30" y="145.88" font-size="6.40" text-anchor="end" fill="#444">0.1</text>
<text x="328.30" y="127.67" font-size="6.40" text-anchor="end" fill="#444">0.15</text>
<text x="328.30" y="109.46" font-size="6.40" text-anchor="end" fill="#444">0.2</text>
<text x="328.30" y="91.24" font-size="6.40" text-anchor="end" fill="#444">0.25</text>
<text x="328.30" y="73.03" font-size="6.40" text-anchor="end" fill="#444">0.3</text>
<text x="328.30" y="54.82" font-size="6.40" text-anchor="end" fill="#444">0.35</text>
<text x="328.30" y="36.61" font-size="6.40" text-anchor="end" fill="#444">0.4</text>
<text x="328.30" y="18.40" font-size="6.40" text-anchor="end" fill="#444">0.45</text>
<path d="M331.30 179.10V177.10M331.30 15.20V17.20M360.94 179.10V177.10M360.94 15.20V17.20M390.59 179.10V177.10M390.59 15.20V17.20M420.23 179.10V177.10M420.23 15.20V17.20M449.87 179.10V177.10M449.87 15.20V17.20M479.51 179.10V177.10M479.51 15.20V17.20M509.16 179.10V177.10M509.16 15.20V17.20M538.80 179.10V177.10M538.80 15.20V17.20M331.30 179.10H333.30M538.80 179.10H536.80M331.30 160.89H333.30M538.80 160.89H536.80M331.30 142.68H333.30M538.80 142.68H536.80M331.30 124.47H333.30M538.80 124.47H536.80M331.30 106.26H333.30M538.80 106.26H536.80M331.30 88.04H333.30M538.80 88.04H536.80M331.30 69.83H333.30M538.80 69.83H536.80M331.30 51.62H333.30M538.80 51.62H536.80M331.30 33.41H333.30M538.80 33.41H536.80M331.30 15.20H333.30M538.80 15.20H536.80" stroke="#808080" stroke-width="1.00"/>
<text x="435.05" y="12.00" font-size="7.25" text-anchor="middle" fill="#111">Relative residual</text>
<text x="434.05" y="197.50" font-size="7.00" text-anchor="middle" fill="#333">time(second)</text>
<text transform="translate(310.34 97.15) rotate(-90)" font-size="7.50" text-anchor="middle" fill="#222" stroke="#444" stroke-width="0.15">||WH - V||<tspan font-size="5" dy="2.3">F</tspan><tspan dy="-2.3">/||V||</tspan><tspan font-size="5" dy="2.3">F</tspan></text>
<rect x="492.00" y="21.20" width="40.40" height="33.00" fill="#fff" stroke="#888" stroke-width="0.8"/>
<path d="M494.40 25.80H508.00" stroke="#0072BD" stroke-width="1.50"/>
<path d="M501.20 23.10L503.00 25.80L501.20 28.50L499.40 25.80Z" fill="#0072BD" fill-opacity="0.45" stroke="#0072BD" stroke-width="1.15"/>
<text transform="translate(510.40 28.70) scale(1 1.15)" font-size="5.55" fill="#1a1a1a">NMPBB</text>
<path d="M494.40 33.75H508.00" stroke="#D95319" stroke-width="1.50"/>
<circle cx="501.20" cy="33.75" r="2.05" fill="none" stroke="#D95319" stroke-width="1.1"/>
<text transform="translate(510.40 36.65) scale(1 1.15)" font-size="5.55" fill="#1a1a1a">QRPBB</text>
<path d="M494.40 41.70H508.00" stroke="#EDB120" stroke-width="1.50"/>
<path d="M501.20,38.70 L501.94,40.68 L504.05,40.77 L502.40,42.09 L502.96,44.13 L501.20,42.96 L499.44,44.13 L500.00,42.09 L498.35,40.77 L500.46,40.68Z" fill="#EDB120" stroke="#EDB120" stroke-width="0.5"/>
<text transform="translate(510.40 44.60) scale(1 1.15)" font-size="5.55" fill="#1a1a1a">BCD</text>
<path d="M494.40 49.65H508.00" stroke="#7E2F8E" stroke-width="1.50"/>
<circle cx="501.20" cy="49.65" r="2.00" fill="#7E2F8E"/>
<text transform="translate(510.40 52.55) scale(1 1.15)" font-size="5.55" fill="#1a1a1a">HALS</text>
<text x="429.05" y="209.70" font-family="Liberation Serif, serif" font-size="11.00" text-anchor="middle" letter-spacing="0.2" fill="#111"><tspan font-weight="bold">(b)</tspan> (m n r) = (500 5000 20)</text>
<g>
<path d="M43.07 272.98 L52.09 315.18 L61.05 336.08 L69.42 350.01 L77.02 363.12 L83.60 372.96 L90.01 378.70 L96.01 381.15 L102.41 385.25 L107.99 387.71 L114.40 391.81 L120.51 393.45 L125.86 393.45 L130.60 393.45 L135.94 393.45 L140.69 393.45 L144.84 393.45 L149.59 393.45 L153.15 393.45 L155.53 393.45 L158.49 393.45 L162.65 393.45 L166.80 393.45 L170.96 393.45 L175.11 393.45 L177.48 393.45 L182.82 393.45 L188.76 393.45 L195.29 393.45 L201.81 393.45 L207.15 393.45" fill="none" stroke="#0072BD" stroke-width="1.50" stroke-linejoin="round"/>
<path d="M43.07 270.28L44.87 272.98L43.07 275.68L41.27 272.98Z" fill="#0072BD" fill-opacity="0.45" stroke="#0072BD" stroke-width="1.15"/><path d="M52.09 312.48L53.89 315.18L52.09 317.88L50.29 315.18Z" fill="#0072BD" fill-opacity="0.45" stroke="#0072BD" stroke-width="1.15"/><path d="M61.05 333.38L62.85 336.08L61.05 338.78L59.25 336.08Z" fill="#0072BD" fill-opacity="0.45" stroke="#0072BD" stroke-width="1.15"/><path d="M69.42 347.31L71.22 350.01L69.42 352.71L67.62 350.01Z" fill="#0072BD" fill-opacity="0.45" stroke="#0072BD" stroke-width="1.15"/><path d="M77.02 360.43L78.82 363.12L77.02 365.82L75.22 363.12Z" fill="#0072BD" fill-opacity="0.45" stroke="#0072BD" stroke-width="1.15"/><path d="M83.60 370.26L85.40 372.96L83.60 375.66L81.80 372.96Z" fill="#0072BD" fill-opacity="0.45" stroke="#0072BD" stroke-width="1.15"/><path d="M90.01 376.00L91.81 378.70L90.01 381.40L88.21 378.70Z" fill="#0072BD" fill-opacity="0.45" stroke="#0072BD" stroke-width="1.15"/><path d="M96.01 378.45L97.81 381.15L96.01 383.85L94.21 381.15Z" fill="#0072BD" fill-opacity="0.45" stroke="#0072BD" stroke-width="1.15"/><path d="M102.41 382.55L104.21 385.25L102.41 387.95L100.61 385.25Z" fill="#0072BD" fill-opacity="0.45" stroke="#0072BD" stroke-width="1.15"/><path d="M107.99 385.01L109.79 387.71L107.99 390.41L106.19 387.71Z" fill="#0072BD" fill-opacity="0.45" stroke="#0072BD" stroke-width="1.15"/><path d="M114.40 389.11L116.20 391.81L114.40 394.51L112.60 391.81Z" fill="#0072BD" fill-opacity="0.45" stroke="#0072BD" stroke-width="1.15"/><path d="M120.51 390.75L122.31 393.45L120.51 396.15L118.71 393.45Z" fill="#0072BD" fill-opacity="0.45" stroke="#0072BD" stroke-width="1.15"/><path d="M125.86 390.75L127.66 393.45L125.86 396.15L124.06 393.45Z" fill="#0072BD" fill-opacity="0.45" stroke="#0072BD" stroke-width="1.15"/><path d="M130.60 390.75L132.40 393.45L130.60 396.15L128.80 393.45Z" fill="#0072BD" fill-opacity="0.45" stroke="#0072BD" stroke-width="1.15"/><path d="M135.94 390.75L137.74 393.45L135.94 396.15L134.14 393.45Z" fill="#0072BD" fill-opacity="0.45" stroke="#0072BD" stroke-width="1.15"/><path d="M140.69 390.75L142.49 393.45L140.69 396.15L138.89 393.45Z" fill="#0072BD" fill-opacity="0.45" stroke="#0072BD" stroke-width="1.15"/><path d="M144.84 390.75L146.64 393.45L144.84 396.15L143.04 393.45Z" fill="#0072BD" fill-opacity="0.45" stroke="#0072BD" stroke-width="1.15"/><path d="M149.59 390.75L151.39 393.45L149.59 396.15L147.79 393.45Z" fill="#0072BD" fill-opacity="0.45" stroke="#0072BD" stroke-width="1.15"/><path d="M153.15 390.75L154.95 393.45L153.15 396.15L151.35 393.45Z" fill="#0072BD" fill-opacity="0.45" stroke="#0072BD" stroke-width="1.15"/><path d="M155.53 390.75L157.33 393.45L155.53 396.15L153.73 393.45Z" fill="#0072BD" fill-opacity="0.45" stroke="#0072BD" stroke-width="1.15"/><path d="M158.49 390.75L160.29 393.45L158.49 396.15L156.69 393.45Z" fill="#0072BD" fill-opacity="0.45" stroke="#0072BD" stroke-width="1.15"/><path d="M162.65 390.75L164.45 393.45L162.65 396.15L160.85 393.45Z" fill="#0072BD" fill-opacity="0.45" stroke="#0072BD" stroke-width="1.15"/><path d="M166.80 390.75L168.60 393.45L166.80 396.15L165.00 393.45Z" fill="#0072BD" fill-opacity="0.45" stroke="#0072BD" stroke-width="1.15"/><path d="M170.96 390.75L172.76 393.45L170.96 396.15L169.16 393.45Z" fill="#0072BD" fill-opacity="0.45" stroke="#0072BD" stroke-width="1.15"/><path d="M175.11 390.75L176.91 393.45L175.11 396.15L173.31 393.45Z" fill="#0072BD" fill-opacity="0.45" stroke="#0072BD" stroke-width="1.15"/><path d="M177.48 390.75L179.28 393.45L177.48 396.15L175.68 393.45Z" fill="#0072BD" fill-opacity="0.45" stroke="#0072BD" stroke-width="1.15"/><path d="M182.82 390.75L184.62 393.45L182.82 396.15L181.02 393.45Z" fill="#0072BD" fill-opacity="0.45" stroke="#0072BD" stroke-width="1.15"/><path d="M188.76 390.75L190.56 393.45L188.76 396.15L186.96 393.45Z" fill="#0072BD" fill-opacity="0.45" stroke="#0072BD" stroke-width="1.15"/><path d="M195.29 390.75L197.09 393.45L195.29 396.15L193.49 393.45Z" fill="#0072BD" fill-opacity="0.45" stroke="#0072BD" stroke-width="1.15"/><path d="M201.81 390.75L203.61 393.45L201.81 396.15L200.01 393.45Z" fill="#0072BD" fill-opacity="0.45" stroke="#0072BD" stroke-width="1.15"/><path d="M207.15 390.75L208.95 393.45L207.15 396.15L205.35 393.45Z" fill="#0072BD" fill-opacity="0.45" stroke="#0072BD" stroke-width="1.15"/>
<path d="M41.71 305.35 L48.47 322.97 L55.47 331.57 L61.65 336.49 L68.65 340.59 L75.41 344.28 L82.42 347.55 L89.60 350.42 L96.60 353.70 L103.36 356.57 L110.01 359.03 L116.95 362.31 L123.96 363.94 L130.37 366.40 L136.24 368.04 L142.06 370.09 L148.11 372.14 L153.51 373.78 L159.80 375.42 L166.09 377.06 L172.26 378.29 L178.55 379.11 L184.84 380.33 L190.84 381.15 L197.07 382.79 L203.42 383.61 L209.23 384.43 L215.11 385.25 L221.40 386.07 L227.03 387.30" fill="none" stroke="#D95319" stroke-width="1.50" stroke-linejoin="round"/>
<circle cx="41.71" cy="305.35" r="2.05" fill="none" stroke="#D95319" stroke-width="1.1"/><circle cx="48.47" cy="322.97" r="2.05" fill="none" stroke="#D95319" stroke-width="1.1"/><circle cx="55.47" cy="331.57" r="2.05" fill="none" stroke="#D95319" stroke-width="1.1"/><circle cx="61.65" cy="336.49" r="2.05" fill="none" stroke="#D95319" stroke-width="1.1"/><circle cx="68.65" cy="340.59" r="2.05" fill="none" stroke="#D95319" stroke-width="1.1"/><circle cx="75.41" cy="344.28" r="2.05" fill="none" stroke="#D95319" stroke-width="1.1"/><circle cx="82.42" cy="347.55" r="2.05" fill="none" stroke="#D95319" stroke-width="1.1"/><circle cx="89.60" cy="350.42" r="2.05" fill="none" stroke="#D95319" stroke-width="1.1"/><circle cx="96.60" cy="353.70" r="2.05" fill="none" stroke="#D95319" stroke-width="1.1"/><circle cx="103.36" cy="356.57" r="2.05" fill="none" stroke="#D95319" stroke-width="1.1"/><circle cx="110.01" cy="359.03" r="2.05" fill="none" stroke="#D95319" stroke-width="1.1"/><circle cx="116.95" cy="362.31" r="2.05" fill="none" stroke="#D95319" stroke-width="1.1"/><circle cx="123.96" cy="363.94" r="2.05" fill="none" stroke="#D95319" stroke-width="1.1"/><circle cx="130.37" cy="366.40" r="2.05" fill="none" stroke="#D95319" stroke-width="1.1"/><circle cx="136.24" cy="368.04" r="2.05" fill="none" stroke="#D95319" stroke-width="1.1"/><circle cx="142.06" cy="370.09" r="2.05" fill="none" stroke="#D95319" stroke-width="1.1"/><circle cx="148.11" cy="372.14" r="2.05" fill="none" stroke="#D95319" stroke-width="1.1"/><circle cx="153.51" cy="373.78" r="2.05" fill="none" stroke="#D95319" stroke-width="1.1"/><circle cx="159.80" cy="375.42" r="2.05" fill="none" stroke="#D95319" stroke-width="1.1"/><circle cx="166.09" cy="377.06" r="2.05" fill="none" stroke="#D95319" stroke-width="1.1"/><circle cx="172.26" cy="378.29" r="2.05" fill="none" stroke="#D95319" stroke-width="1.1"/><circle cx="178.55" cy="379.11" r="2.05" fill="none" stroke="#D95319" stroke-width="1.1"/><circle cx="184.84" cy="380.33" r="2.05" fill="none" stroke="#D95319" stroke-width="1.1"/><circle cx="190.84" cy="381.15" r="2.05" fill="none" stroke="#D95319" stroke-width="1.1"/><circle cx="197.07" cy="382.79" r="2.05" fill="none" stroke="#D95319" stroke-width="1.1"/><circle cx="203.42" cy="383.61" r="2.05" fill="none" stroke="#D95319" stroke-width="1.1"/><circle cx="209.23" cy="384.43" r="2.05" fill="none" stroke="#D95319" stroke-width="1.1"/><circle cx="215.11" cy="385.25" r="2.05" fill="none" stroke="#D95319" stroke-width="1.1"/><circle cx="221.40" cy="386.07" r="2.05" fill="none" stroke="#D95319" stroke-width="1.1"/><circle cx="227.03" cy="387.30" r="2.05" fill="none" stroke="#D95319" stroke-width="1.1"/>
<path d="M32.09 255.36 L33.83 258.12 L35.57 260.53 L37.31 262.33 L39.05 263.83 L40.79 265.13 L42.53 266.32 L44.27 267.30 L46.01 268.19 L47.75 269.09 L49.49 270.12 L51.23 271.41 L52.97 272.91 L54.71 274.68 L56.45 276.74 L58.19 279.10 L59.93 281.92 L61.67 285.37 L63.41 289.57 L65.16 294.10 L66.90 298.49 L68.64 302.90 L70.38 306.80 L72.12 310.38 L73.86 313.48 L75.60 315.80 L77.34 317.32 L79.08 318.47 L80.82 319.54 L82.56 320.63 L84.30 321.61 L86.04 322.56" fill="none" stroke="#EDB120" stroke-width="1.50" stroke-linejoin="round"/>
<path d="M32.09,252.36 L32.83,254.34 L34.95,254.43 L33.29,255.75 L33.86,257.79 L32.09,256.62 L30.33,257.79 L30.90,255.75 L29.24,254.43 L31.35,254.34Z" fill="#EDB120" stroke="#EDB120" stroke-width="0.5"/><path d="M33.83,255.12 L34.57,257.10 L36.69,257.19 L35.03,258.51 L35.60,260.54 L33.83,259.38 L32.07,260.54 L32.64,258.51 L30.98,257.19 L33.09,257.10Z" fill="#EDB120" stroke="#EDB120" stroke-width="0.5"/><path d="M35.57,257.53 L36.31,259.51 L38.43,259.61 L36.77,260.92 L37.34,262.96 L35.57,261.79 L33.81,262.96 L34.38,260.92 L32.72,259.61 L34.83,259.51Z" fill="#EDB120" stroke="#EDB120" stroke-width="0.5"/><path d="M37.31,259.33 L38.05,261.31 L40.17,261.41 L38.51,262.72 L39.08,264.76 L37.31,263.59 L35.55,264.76 L36.12,262.72 L34.46,261.41 L36.57,261.31Z" fill="#EDB120" stroke="#EDB120" stroke-width="0.5"/><path d="M39.05,260.83 L39.79,262.81 L41.91,262.90 L40.25,264.21 L40.82,266.25 L39.05,265.09 L37.29,266.25 L37.86,264.21 L36.20,262.90 L38.31,262.81Z" fill="#EDB120" stroke="#EDB120" stroke-width="0.5"/><path d="M40.79,262.13 L41.53,264.12 L43.65,264.21 L41.99,265.52 L42.56,267.56 L40.79,266.39 L39.03,267.56 L39.60,265.52 L37.94,264.21 L40.05,264.12Z" fill="#EDB120" stroke="#EDB120" stroke-width="0.5"/><path d="M42.53,263.32 L43.27,265.30 L45.39,265.39 L43.73,266.71 L44.30,268.74 L42.53,267.58 L40.77,268.74 L41.34,266.71 L39.68,265.39 L41.79,265.30Z" fill="#EDB120" stroke="#EDB120" stroke-width="0.5"/><path d="M44.27,264.30 L45.01,266.28 L47.13,266.37 L45.47,267.69 L46.04,269.73 L44.27,268.56 L42.51,269.73 L43.08,267.69 L41.42,266.37 L43.53,266.28Z" fill="#EDB120" stroke="#EDB120" stroke-width="0.5"/><path d="M46.01,265.19 L46.75,267.17 L48.87,267.26 L47.21,268.58 L47.78,270.62 L46.01,269.45 L44.25,270.62 L44.82,268.58 L43.16,267.26 L45.27,267.17Z" fill="#EDB120" stroke="#EDB120" stroke-width="0.5"/><path d="M47.75,266.09 L48.49,268.07 L50.61,268.16 L48.95,269.48 L49.52,271.52 L47.75,270.35 L45.99,271.52 L46.56,269.48 L44.90,268.16 L47.01,268.07Z" fill="#EDB120" stroke="#EDB120" stroke-width="0.5"/><path d="M49.49,267.12 L50.23,269.10 L52.35,269.19 L50.69,270.51 L51.26,272.55 L49.49,271.38 L47.73,272.55 L48.30,270.51 L46.64,269.19 L48.75,269.10Z" fill="#EDB120" stroke="#EDB120" stroke-width="0.5"/><path d="M51.23,268.41 L51.97,270.39 L54.09,270.48 L52.43,271.80 L53.00,273.84 L51.23,272.67 L49.47,273.84 L50.04,271.80 L48.38,270.48 L50.49,270.39Z" fill="#EDB120" stroke="#EDB120" stroke-width="0.5"/><path d="M52.97,269.91 L53.72,271.89 L55.83,271.99 L54.17,273.30 L54.74,275.34 L52.97,274.17 L51.21,275.34 L51.78,273.30 L50.12,271.99 L52.23,271.89Z" fill="#EDB120" stroke="#EDB120" stroke-width="0.5"/><path d="M54.71,271.68 L55.46,273.66 L57.57,273.75 L55.91,275.07 L56.48,277.11 L54.71,275.94 L52.95,277.11 L53.52,275.07 L51.86,273.75 L53.97,273.66Z" fill="#EDB120" stroke="#EDB120" stroke-width="0.5"/><path d="M56.45,273.74 L57.20,275.72 L59.31,275.81 L57.65,277.13 L58.22,279.17 L56.45,278.00 L54.69,279.17 L55.26,277.13 L53.60,275.81 L55.71,275.72Z" fill="#EDB120" stroke="#EDB120" stroke-width="0.5"/><path d="M58.19,276.10 L58.94,278.08 L61.05,278.17 L59.39,279.49 L59.96,281.52 L58.19,280.36 L56.43,281.52 L57.00,279.49 L55.34,278.17 L57.45,278.08Z" fill="#EDB120" stroke="#EDB120" stroke-width="0.5"/><path d="M59.93,278.92 L60.68,280.90 L62.79,280.99 L61.13,282.31 L61.70,284.35 L59.93,283.18 L58.17,284.35 L58.74,282.31 L57.08,280.99 L59.19,280.90Z" fill="#EDB120" stroke="#EDB120" stroke-width="0.5"/><path d="M61.67,282.37 L62.42,284.35 L64.53,284.44 L62.87,285.76 L63.44,287.79 L61.67,286.63 L59.91,287.79 L60.48,285.76 L58.82,284.44 L60.93,284.35Z" fill="#EDB120" stroke="#EDB120" stroke-width="0.5"/><path d="M63.41,286.57 L64.16,288.56 L66.27,288.65 L64.61,289.96 L65.18,292.00 L63.41,290.83 L61.65,292.00 L62.22,289.96 L60.56,288.65 L62.67,288.56Z" fill="#EDB120" stroke="#EDB120" stroke-width="0.5"/><path d="M65.16,291.10 L65.90,293.08 L68.01,293.17 L66.35,294.49 L66.92,296.53 L65.16,295.36 L63.39,296.53 L63.96,294.49 L62.30,293.17 L64.41,293.08Z" fill="#EDB120" stroke="#EDB120" stroke-width="0.5"/><path d="M66.90,295.49 L67.64,297.47 L69.75,297.56 L68.09,298.88 L68.66,300.91 L66.90,299.75 L65.13,300.91 L65.70,298.88 L64.04,297.56 L66.15,297.47Z" fill="#EDB120" stroke="#EDB120" stroke-width="0.5"/><path d="M68.64,299.90 L69.38,301.88 L71.49,301.98 L69.83,303.29 L70.40,305.33 L68.64,304.16 L66.87,305.33 L67.44,303.29 L65.78,301.98 L67.89,301.88Z" fill="#EDB120" stroke="#EDB120" stroke-width="0.5"/><path d="M70.38,303.80 L71.12,305.78 L73.23,305.88 L71.57,307.19 L72.14,309.23 L70.38,308.06 L68.61,309.23 L69.18,307.19 L67.52,305.88 L69.63,305.78Z" fill="#EDB120" stroke="#EDB120" stroke-width="0.5"/><path d="M72.12,307.38 L72.86,309.36 L74.97,309.45 L73.31,310.77 L73.88,312.80 L72.12,311.64 L70.35,312.80 L70.92,310.77 L69.26,309.45 L71.37,309.36Z" fill="#EDB120" stroke="#EDB120" stroke-width="0.5"/><path d="M73.86,310.48 L74.60,312.46 L76.71,312.56 L75.05,313.87 L75.62,315.91 L73.86,314.74 L72.09,315.91 L72.66,313.87 L71.00,312.56 L73.11,312.46Z" fill="#EDB120" stroke="#EDB120" stroke-width="0.5"/><path d="M75.60,312.80 L76.34,314.78 L78.45,314.87 L76.79,316.19 L77.36,318.22 L75.60,317.06 L73.83,318.22 L74.40,316.19 L72.74,314.87 L74.85,314.78Z" fill="#EDB120" stroke="#EDB120" stroke-width="0.5"/><path d="M77.34,314.32 L78.08,316.30 L80.19,316.39 L78.53,317.71 L79.10,319.75 L77.34,318.58 L75.57,319.75 L76.14,317.71 L74.48,316.39 L76.60,316.30Z" fill="#EDB120" stroke="#EDB120" stroke-width="0.5"/><path d="M79.08,315.47 L79.82,317.45 L81.93,317.54 L80.27,318.86 L80.84,320.90 L79.08,319.73 L77.31,320.90 L77.88,318.86 L76.22,317.54 L78.34,317.45Z" fill="#EDB120" stroke="#EDB120" stroke-width="0.5"/><path d="M80.82,316.54 L81.56,318.52 L83.67,318.61 L82.01,319.93 L82.58,321.96 L80.82,320.80 L79.05,321.96 L79.62,319.93 L77.96,318.61 L80.08,318.52Z" fill="#EDB120" stroke="#EDB120" stroke-width="0.5"/><path d="M82.56,317.63 L83.30,319.61 L85.41,319.71 L83.75,321.02 L84.32,323.06 L82.56,321.89 L80.79,323.06 L81.36,321.02 L79.70,319.71 L81.82,319.61Z" fill="#EDB120" stroke="#EDB120" stroke-width="0.5"/><path d="M84.30,318.61 L85.04,320.59 L87.15,320.69 L85.49,322.00 L86.06,324.04 L84.30,322.87 L82.53,324.04 L83.10,322.00 L81.44,320.69 L83.56,320.59Z" fill="#EDB120" stroke="#EDB120" stroke-width="0.5"/><path d="M86.04,319.56 L86.78,321.54 L88.89,321.63 L87.23,322.95 L87.80,324.99 L86.04,323.82 L84.27,324.99 L84.84,322.95 L83.18,321.63 L85.30,321.54Z" fill="#EDB120" stroke="#EDB120" stroke-width="0.5"/>
<path d="M36.48 254.54 L40.46 279.15 L44.44 292.91 L48.42 302.41 L52.41 309.04 L56.39 313.03 L60.37 317.54 L64.35 321.66 L68.33 324.90 L72.31 328.31 L76.29 331.34 L80.27 333.47 L84.25 335.46 L88.23 337.91 L92.21 340.51 L96.19 343.00 L100.17 345.43 L104.15 347.68 L108.13 349.90 L112.11 352.40 L116.09 355.13 L120.07 358.10 L124.05 361.20 L128.03 364.14 L132.01 366.96 L135.99 369.64 L139.97 372.12 L143.95 374.45 L147.93 376.71 L151.91 378.70" fill="none" stroke="#7E2F8E" stroke-width="1.50" stroke-linejoin="round"/>
<circle cx="36.48" cy="254.54" r="2.00" fill="#7E2F8E"/><circle cx="40.46" cy="279.15" r="2.00" fill="#7E2F8E"/><circle cx="44.44" cy="292.91" r="2.00" fill="#7E2F8E"/><circle cx="48.42" cy="302.41" r="2.00" fill="#7E2F8E"/><circle cx="52.41" cy="309.04" r="2.00" fill="#7E2F8E"/><circle cx="56.39" cy="313.03" r="2.00" fill="#7E2F8E"/><circle cx="60.37" cy="317.54" r="2.00" fill="#7E2F8E"/><circle cx="64.35" cy="321.66" r="2.00" fill="#7E2F8E"/><circle cx="68.33" cy="324.90" r="2.00" fill="#7E2F8E"/><circle cx="72.31" cy="328.31" r="2.00" fill="#7E2F8E"/><circle cx="76.29" cy="331.34" r="2.00" fill="#7E2F8E"/><circle cx="80.27" cy="333.47" r="2.00" fill="#7E2F8E"/><circle cx="84.25" cy="335.46" r="2.00" fill="#7E2F8E"/><circle cx="88.23" cy="337.91" r="2.00" fill="#7E2F8E"/><circle cx="92.21" cy="340.51" r="2.00" fill="#7E2F8E"/><circle cx="96.19" cy="343.00" r="2.00" fill="#7E2F8E"/><circle cx="100.17" cy="345.43" r="2.00" fill="#7E2F8E"/><circle cx="104.15" cy="347.68" r="2.00" fill="#7E2F8E"/><circle cx="108.13" cy="349.90" r="2.00" fill="#7E2F8E"/><circle cx="112.11" cy="352.40" r="2.00" fill="#7E2F8E"/><circle cx="116.09" cy="355.13" r="2.00" fill="#7E2F8E"/><circle cx="120.07" cy="358.10" r="2.00" fill="#7E2F8E"/><circle cx="124.05" cy="361.20" r="2.00" fill="#7E2F8E"/><circle cx="128.03" cy="364.14" r="2.00" fill="#7E2F8E"/><circle cx="132.01" cy="366.96" r="2.00" fill="#7E2F8E"/><circle cx="135.99" cy="369.64" r="2.00" fill="#7E2F8E"/><circle cx="139.97" cy="372.12" r="2.00" fill="#7E2F8E"/><circle cx="143.95" cy="374.45" r="2.00" fill="#7E2F8E"/><circle cx="147.93" cy="376.71" r="2.00" fill="#7E2F8E"/><circle cx="151.91" cy="378.70" r="2.00" fill="#7E2F8E"/>
</g>
<rect x="31.50" y="240.20" width="207.70" height="163.90" fill="none" stroke="#808080" stroke-width="1.00"/>
<text x="31.50" y="413.50" font-size="6.40" text-anchor="middle" fill="#444">0</text>
<text x="61.17" y="413.50" font-size="6.40" text-anchor="middle" fill="#444">0.5</text>
<text x="90.84" y="413.50" font-size="6.40" text-anchor="middle" fill="#444">1</text>
<text x="120.51" y="413.50" font-size="6.40" text-anchor="middle" fill="#444">1.5</text>
<text x="150.19" y="413.50" font-size="6.40" text-anchor="middle" fill="#444">2</text>
<text x="179.86" y="413.50" font-size="6.40" text-anchor="middle" fill="#444">2.5</text>
<text x="209.53" y="413.50" font-size="6.40" text-anchor="middle" fill="#444">3</text>
<text x="239.20" y="413.50" font-size="6.40" text-anchor="middle" fill="#444">3.5</text>
<text x="28.50" y="407.30" font-size="6.40" text-anchor="end" fill="#444">0</text>
<text x="28.50" y="386.81" font-size="6.40" text-anchor="end" fill="#444">0.05</text>
<text x="28.50" y="366.32" font-size="6.40" text-anchor="end" fill="#444">0.1</text>
<text x="28.50" y="345.84" font-size="6.40" text-anchor="end" fill="#444">0.15</text>
<text x="28.50" y="325.35" font-size="6.40" text-anchor="end" fill="#444">0.2</text>
<text x="28.50" y="304.86" font-size="6.40" text-anchor="end" fill="#444">0.25</text>
<text x="28.50" y="284.37" font-size="6.40" text-anchor="end" fill="#444">0.3</text>
<text x="28.50" y="263.89" font-size="6.40" text-anchor="end" fill="#444">0.35</text>
<text x="28.50" y="243.40" font-size="6.40" text-anchor="end" fill="#444">0.4</text>
<path d="M31.50 404.10V402.10M31.50 240.20V242.20M61.17 404.10V402.10M61.17 240.20V242.20M90.84 404.10V402.10M90.84 240.20V242.20M120.51 404.10V402.10M120.51 240.20V242.20M150.19 404.10V402.10M150.19 240.20V242.20M179.86 404.10V402.10M179.86 240.20V242.20M209.53 404.10V402.10M209.53 240.20V242.20M239.20 404.10V402.10M239.20 240.20V242.20M31.50 404.10H33.50M239.20 404.10H237.20M31.50 383.61H33.50M239.20 383.61H237.20M31.50 363.12H33.50M239.20 363.12H237.20M31.50 342.64H33.50M239.20 342.64H237.20M31.50 322.15H33.50M239.20 322.15H237.20M31.50 301.66H33.50M239.20 301.66H237.20M31.50 281.17H33.50M239.20 281.17H237.20M31.50 260.69H33.50M239.20 260.69H237.20M31.50 240.20H33.50M239.20 240.20H237.20" stroke="#808080" stroke-width="1.00"/>
<text x="135.35" y="237.00" font-size="7.25" text-anchor="middle" fill="#111">Relative residual</text>
<text x="134.35" y="422.50" font-size="7.00" text-anchor="middle" fill="#333">time(second)</text>
<text transform="translate(10.54 322.15) rotate(-90)" font-size="7.50" text-anchor="middle" fill="#222" stroke="#444" stroke-width="0.15">||WH - V||<tspan font-size="5" dy="2.3">F</tspan><tspan dy="-2.3">/||V||</tspan><tspan font-size="5" dy="2.3">F</tspan></text>
<rect x="192.40" y="246.20" width="40.40" height="33.00" fill="#fff" stroke="#888" stroke-width="0.8"/>
<path d="M194.80 250.80H208.40" stroke="#0072BD" stroke-width="1.50"/>
<path d="M201.60 248.10L203.40 250.80L201.60 253.50L199.80 250.80Z" fill="#0072BD" fill-opacity="0.45" stroke="#0072BD" stroke-width="1.15"/>
<text transform="translate(210.80 253.70) scale(1 1.15)" font-size="5.55" fill="#1a1a1a">NMPBB</text>
<path d="M194.80 258.75H208.40" stroke="#D95319" stroke-width="1.50"/>
<circle cx="201.60" cy="258.75" r="2.05" fill="none" stroke="#D95319" stroke-width="1.1"/>
<text transform="translate(210.80 261.65) scale(1 1.15)" font-size="5.55" fill="#1a1a1a">QRPBB</text>
<path d="M194.80 266.70H208.40" stroke="#EDB120" stroke-width="1.50"/>
<path d="M201.60,263.70 L202.34,265.68 L204.45,265.77 L202.80,267.09 L203.36,269.13 L201.60,267.96 L199.84,269.13 L200.40,267.09 L198.75,265.77 L200.86,265.68Z" fill="#EDB120" stroke="#EDB120" stroke-width="0.5"/>
<text transform="translate(210.80 269.60) scale(1 1.15)" font-size="5.55" fill="#1a1a1a">BCD</text>
<path d="M194.80 274.65H208.40" stroke="#7E2F8E" stroke-width="1.50"/>
<circle cx="201.60" cy="274.65" r="2.00" fill="#7E2F8E"/>
<text transform="translate(210.80 277.55) scale(1 1.15)" font-size="5.55" fill="#1a1a1a">HALS</text>
<text x="129.35" y="434.70" font-family="Liberation Serif, serif" font-size="11.00" text-anchor="middle" letter-spacing="0.2" fill="#111"><tspan font-weight="bold">(c)</tspan> (m n r) = (5000 1000 30)</text>
<g>
<path d="M338.89 255.65 L345.46 299.67 L351.24 324.02 L357.44 337.14 L364.43 345.56 L370.82 353.53 L377.78 360.55 L382.78 367.57 L388.75 374.60 L393.76 381.15 L398.74 387.24 L403.72 390.99 L407.73 391.92 L411.72 391.92 L414.69 391.92 L419.69 391.92 L424.67 391.92 L429.75 391.92 L433.90 391.92 L438.05 391.92 L441.74 391.92 L445.42 391.92 L448.42 391.92 L451.65 391.92 L454.42 391.92 L460.41 391.92 L465.71 391.92 L470.79 391.92 L476.09 391.92 L481.39 391.92" fill="none" stroke="#0072BD" stroke-width="1.50" stroke-linejoin="round"/>
<path d="M338.89 252.95L340.69 255.65L338.89 258.35L337.09 255.65Z" fill="#0072BD" fill-opacity="0.45" stroke="#0072BD" stroke-width="1.15"/><path d="M345.46 296.97L347.26 299.67L345.46 302.37L343.66 299.67Z" fill="#0072BD" fill-opacity="0.45" stroke="#0072BD" stroke-width="1.15"/><path d="M351.24 321.32L353.04 324.02L351.24 326.72L349.44 324.02Z" fill="#0072BD" fill-opacity="0.45" stroke="#0072BD" stroke-width="1.15"/><path d="M357.44 334.44L359.25 337.14L357.44 339.84L355.64 337.14Z" fill="#0072BD" fill-opacity="0.45" stroke="#0072BD" stroke-width="1.15"/><path d="M364.43 342.86L366.23 345.56L364.43 348.26L362.63 345.56Z" fill="#0072BD" fill-opacity="0.45" stroke="#0072BD" stroke-width="1.15"/><path d="M370.82 350.83L372.62 353.53L370.82 356.23L369.02 353.53Z" fill="#0072BD" fill-opacity="0.45" stroke="#0072BD" stroke-width="1.15"/><path d="M377.78 357.85L379.58 360.55L377.78 363.25L375.98 360.55Z" fill="#0072BD" fill-opacity="0.45" stroke="#0072BD" stroke-width="1.15"/><path d="M382.78 364.87L384.58 367.57L382.78 370.27L380.98 367.57Z" fill="#0072BD" fill-opacity="0.45" stroke="#0072BD" stroke-width="1.15"/><path d="M388.75 371.90L390.55 374.60L388.75 377.30L386.95 374.60Z" fill="#0072BD" fill-opacity="0.45" stroke="#0072BD" stroke-width="1.15"/><path d="M393.76 378.45L395.56 381.15L393.76 383.85L391.96 381.15Z" fill="#0072BD" fill-opacity="0.45" stroke="#0072BD" stroke-width="1.15"/><path d="M398.74 384.54L400.54 387.24L398.74 389.94L396.94 387.24Z" fill="#0072BD" fill-opacity="0.45" stroke="#0072BD" stroke-width="1.15"/><path d="M403.72 388.29L405.52 390.99L403.72 393.69L401.92 390.99Z" fill="#0072BD" fill-opacity="0.45" stroke="#0072BD" stroke-width="1.15"/><path d="M407.73 389.22L409.53 391.92L407.73 394.62L405.93 391.92Z" fill="#0072BD" fill-opacity="0.45" stroke="#0072BD" stroke-width="1.15"/><path d="M411.72 389.22L413.52 391.92L411.72 394.62L409.92 391.92Z" fill="#0072BD" fill-opacity="0.45" stroke="#0072BD" stroke-width="1.15"/><path d="M414.69 389.22L416.49 391.92L414.69 394.62L412.89 391.92Z" fill="#0072BD" fill-opacity="0.45" stroke="#0072BD" stroke-width="1.15"/><path d="M419.69 389.22L421.50 391.92L419.69 394.62L417.89 391.92Z" fill="#0072BD" fill-opacity="0.45" stroke="#0072BD" stroke-width="1.15"/><path d="M424.67 389.22L426.47 391.92L424.67 394.62L422.87 391.92Z" fill="#0072BD" fill-opacity="0.45" stroke="#0072BD" stroke-width="1.15"/><path d="M429.75 389.22L431.55 391.92L429.75 394.62L427.95 391.92Z" fill="#0072BD" fill-opacity="0.45" stroke="#0072BD" stroke-width="1.15"/><path d="M433.90 389.22L435.70 391.92L433.90 394.62L432.10 391.92Z" fill="#0072BD" fill-opacity="0.45" stroke="#0072BD" stroke-width="1.15"/><path d="M438.05 389.22L439.85 391.92L438.05 394.62L436.25 391.92Z" fill="#0072BD" fill-opacity="0.45" stroke="#0072BD" stroke-width="1.15"/><path d="M441.74 389.22L443.54 391.92L441.74 394.62L439.94 391.92Z" fill="#0072BD" fill-opacity="0.45" stroke="#0072BD" stroke-width="1.15"/><path d="M445.42 389.22L447.22 391.92L445.42 394.62L443.62 391.92Z" fill="#0072BD" fill-opacity="0.45" stroke="#0072BD" stroke-width="1.15"/><path d="M448.42 389.22L450.22 391.92L448.42 394.62L446.62 391.92Z" fill="#0072BD" fill-opacity="0.45" stroke="#0072BD" stroke-width="1.15"/><path d="M451.65 389.22L453.45 391.92L451.65 394.62L449.85 391.92Z" fill="#0072BD" fill-opacity="0.45" stroke="#0072BD" stroke-width="1.15"/><path d="M454.42 389.22L456.22 391.92L454.42 394.62L452.62 391.92Z" fill="#0072BD" fill-opacity="0.45" stroke="#0072BD" stroke-width="1.15"/><path d="M460.41 389.22L462.21 391.92L460.41 394.62L458.61 391.92Z" fill="#0072BD" fill-opacity="0.45" stroke="#0072BD" stroke-width="1.15"/><path d="M465.71 389.22L467.51 391.92L465.71 394.62L463.91 391.92Z" fill="#0072BD" fill-opacity="0.45" stroke="#0072BD" stroke-width="1.15"/><path d="M470.79 389.22L472.59 391.92L470.79 394.62L468.99 391.92Z" fill="#0072BD" fill-opacity="0.45" stroke="#0072BD" stroke-width="1.15"/><path d="M476.09 389.22L477.89 391.92L476.09 394.62L474.29 391.92Z" fill="#0072BD" fill-opacity="0.45" stroke="#0072BD" stroke-width="1.15"/><path d="M481.39 389.22L483.19 391.92L481.39 394.62L479.59 391.92Z" fill="#0072BD" fill-opacity="0.45" stroke="#0072BD" stroke-width="1.15"/>
<path d="M340.27 299.20 L346.86 317.94 L355.25 325.43 L362.22 330.58 L369.20 333.86 L376.79 337.14 L384.77 341.35 L392.17 345.10 L399.13 349.78 L406.71 353.99 L415.71 359.14 L423.68 363.83 L430.21 366.17 L435.97 368.98 L441.51 370.85 L447.50 372.26 L453.49 373.19 L460.41 374.60 L466.64 375.53 L472.40 376.94 L478.16 377.88 L483.93 378.81 L489.69 380.22 L495.46 382.09 L501.22 383.50 L507.21 384.43 L512.75 385.84 L517.59 386.77 L522.43 387.71 L527.27 389.11" fill="none" stroke="#D95319" stroke-width="1.50" stroke-linejoin="round"/>
<circle cx="340.27" cy="299.20" r="2.05" fill="none" stroke="#D95319" stroke-width="1.1"/><circle cx="346.86" cy="317.94" r="2.05" fill="none" stroke="#D95319" stroke-width="1.1"/><circle cx="355.25" cy="325.43" r="2.05" fill="none" stroke="#D95319" stroke-width="1.1"/><circle cx="362.22" cy="330.58" r="2.05" fill="none" stroke="#D95319" stroke-width="1.1"/><circle cx="369.20" cy="333.86" r="2.05" fill="none" stroke="#D95319" stroke-width="1.1"/><circle cx="376.79" cy="337.14" r="2.05" fill="none" stroke="#D95319" stroke-width="1.1"/><circle cx="384.77" cy="341.35" r="2.05" fill="none" stroke="#D95319" stroke-width="1.1"/><circle cx="392.17" cy="345.10" r="2.05" fill="none" stroke="#D95319" stroke-width="1.1"/><circle cx="399.13" cy="349.78" r="2.05" fill="none" stroke="#D95319" stroke-width="1.1"/><circle cx="406.71" cy="353.99" r="2.05" fill="none" stroke="#D95319" stroke-width="1.1"/><circle cx="415.71" cy="359.14" r="2.05" fill="none" stroke="#D95319" stroke-width="1.1"/><circle cx="423.68" cy="363.83" r="2.05" fill="none" stroke="#D95319" stroke-width="1.1"/><circle cx="430.21" cy="366.17" r="2.05" fill="none" stroke="#D95319" stroke-width="1.1"/><circle cx="435.97" cy="368.98" r="2.05" fill="none" stroke="#D95319" stroke-width="1.1"/><circle cx="441.51" cy="370.85" r="2.05" fill="none" stroke="#D95319" stroke-width="1.1"/><circle cx="447.50" cy="372.26" r="2.05" fill="none" stroke="#D95319" stroke-width="1.1"/><circle cx="453.49" cy="373.19" r="2.05" fill="none" stroke="#D95319" stroke-width="1.1"/><circle cx="460.41" cy="374.60" r="2.05" fill="none" stroke="#D95319" stroke-width="1.1"/><circle cx="466.64" cy="375.53" r="2.05" fill="none" stroke="#D95319" stroke-width="1.1"/><circle cx="472.40" cy="376.94" r="2.05" fill="none" stroke="#D95319" stroke-width="1.1"/><circle cx="478.16" cy="377.88" r="2.05" fill="none" stroke="#D95319" stroke-width="1.1"/><circle cx="483.93" cy="378.81" r="2.05" fill="none" stroke="#D95319" stroke-width="1.1"/><circle cx="489.69" cy="380.22" r="2.05" fill="none" stroke="#D95319" stroke-width="1.1"/><circle cx="495.46" cy="382.09" r="2.05" fill="none" stroke="#D95319" stroke-width="1.1"/><circle cx="501.22" cy="383.50" r="2.05" fill="none" stroke="#D95319" stroke-width="1.1"/><circle cx="507.21" cy="384.43" r="2.05" fill="none" stroke="#D95319" stroke-width="1.1"/><circle cx="512.75" cy="385.84" r="2.05" fill="none" stroke="#D95319" stroke-width="1.1"/><circle cx="517.59" cy="386.77" r="2.05" fill="none" stroke="#D95319" stroke-width="1.1"/><circle cx="522.43" cy="387.71" r="2.05" fill="none" stroke="#D95319" stroke-width="1.1"/><circle cx="527.27" cy="389.11" r="2.05" fill="none" stroke="#D95319" stroke-width="1.1"/>
<path d="M331.90 251.91 L333.51 254.73 L335.12 257.14 L336.73 258.68 L338.34 259.63 L339.95 260.38 L341.56 261.11 L343.17 261.90 L344.77 262.64 L346.38 263.38 L347.99 264.12 L349.60 264.89 L351.21 265.67 L352.82 266.41 L354.43 267.17 L356.04 268.03 L357.65 269.09 L359.26 270.53 L360.87 272.46 L362.48 274.81 L364.09 277.32 L365.70 280.11 L367.31 283.17 L368.92 286.76 L370.53 291.02 L372.14 294.72 L373.74 297.78 L375.35 300.57 L376.96 303.23 L378.57 305.73 L380.18 308.10 L381.79 310.44" fill="none" stroke="#EDB120" stroke-width="1.50" stroke-linejoin="round"/>
<path d="M331.90,248.91 L332.64,250.89 L334.75,250.98 L333.10,252.30 L333.66,254.33 L331.90,253.17 L330.14,254.33 L330.70,252.30 L329.05,250.98 L331.16,250.89Z" fill="#EDB120" stroke="#EDB120" stroke-width="0.5"/><path d="M333.51,251.73 L334.25,253.71 L336.36,253.80 L334.71,255.12 L335.27,257.16 L333.51,255.99 L331.75,257.16 L332.31,255.12 L330.66,253.80 L332.77,253.71Z" fill="#EDB120" stroke="#EDB120" stroke-width="0.5"/><path d="M335.12,254.14 L335.86,256.12 L337.97,256.22 L336.32,257.53 L336.88,259.57 L335.12,258.40 L333.35,259.57 L333.92,257.53 L332.27,256.22 L334.38,256.12Z" fill="#EDB120" stroke="#EDB120" stroke-width="0.5"/><path d="M336.73,255.68 L337.47,257.66 L339.58,257.76 L337.93,259.07 L338.49,261.11 L336.73,259.94 L334.96,261.11 L335.53,259.07 L333.87,257.76 L335.99,257.66Z" fill="#EDB120" stroke="#EDB120" stroke-width="0.5"/><path d="M338.34,256.63 L339.08,258.62 L341.19,258.71 L339.54,260.02 L340.10,262.06 L338.34,260.89 L336.57,262.06 L337.14,260.02 L335.48,258.71 L337.60,258.62Z" fill="#EDB120" stroke="#EDB120" stroke-width="0.5"/><path d="M339.95,257.38 L340.69,259.36 L342.80,259.45 L341.14,260.76 L341.71,262.80 L339.95,261.64 L338.18,262.80 L338.75,260.76 L337.09,259.45 L339.21,259.36Z" fill="#EDB120" stroke="#EDB120" stroke-width="0.5"/><path d="M341.56,258.11 L342.30,260.09 L344.41,260.18 L342.75,261.50 L343.32,263.54 L341.56,262.37 L339.79,263.54 L340.36,261.50 L338.70,260.18 L340.82,260.09Z" fill="#EDB120" stroke="#EDB120" stroke-width="0.5"/><path d="M343.17,258.90 L343.91,260.88 L346.02,260.97 L344.36,262.29 L344.93,264.32 L343.17,263.16 L341.40,264.32 L341.97,262.29 L340.31,260.97 L342.42,260.88Z" fill="#EDB120" stroke="#EDB120" stroke-width="0.5"/><path d="M344.77,259.64 L345.52,261.62 L347.63,261.72 L345.97,263.03 L346.54,265.07 L344.77,263.90 L343.01,265.07 L343.58,263.03 L341.92,261.72 L344.03,261.62Z" fill="#EDB120" stroke="#EDB120" stroke-width="0.5"/><path d="M346.38,260.38 L347.12,262.36 L349.24,262.45 L347.58,263.77 L348.15,265.81 L346.38,264.64 L344.62,265.81 L345.19,263.77 L343.53,262.45 L345.64,262.36Z" fill="#EDB120" stroke="#EDB120" stroke-width="0.5"/><path d="M347.99,261.12 L348.73,263.10 L350.85,263.19 L349.19,264.51 L349.76,266.55 L347.99,265.38 L346.23,266.55 L346.80,264.51 L345.14,263.19 L347.25,263.10Z" fill="#EDB120" stroke="#EDB120" stroke-width="0.5"/><path d="M349.60,261.89 L350.34,263.87 L352.46,263.97 L350.80,265.28 L351.37,267.32 L349.60,266.15 L347.84,267.32 L348.40,265.28 L346.75,263.97 L348.86,263.87Z" fill="#EDB120" stroke="#EDB120" stroke-width="0.5"/><path d="M351.21,262.67 L351.95,264.65 L354.07,264.74 L352.41,266.06 L352.98,268.09 L351.21,266.93 L349.45,268.09 L350.01,266.06 L348.36,264.74 L350.47,264.65Z" fill="#EDB120" stroke="#EDB120" stroke-width="0.5"/><path d="M352.82,263.41 L353.56,265.39 L355.68,265.48 L354.02,266.80 L354.59,268.84 L352.82,267.67 L351.06,268.84 L351.62,266.80 L349.97,265.48 L352.08,265.39Z" fill="#EDB120" stroke="#EDB120" stroke-width="0.5"/><path d="M354.43,264.17 L355.17,266.15 L357.28,266.25 L355.63,267.56 L356.19,269.60 L354.43,268.43 L352.67,269.60 L353.23,267.56 L351.58,266.25 L353.69,266.15Z" fill="#EDB120" stroke="#EDB120" stroke-width="0.5"/><path d="M356.04,265.03 L356.78,267.01 L358.89,267.10 L357.24,268.42 L357.80,270.46 L356.04,269.29 L354.28,270.46 L354.84,268.42 L353.19,267.10 L355.30,267.01Z" fill="#EDB120" stroke="#EDB120" stroke-width="0.5"/><path d="M357.65,266.09 L358.39,268.07 L360.50,268.16 L358.85,269.48 L359.41,271.52 L357.65,270.35 L355.89,271.52 L356.45,269.48 L354.80,268.16 L356.91,268.07Z" fill="#EDB120" stroke="#EDB120" stroke-width="0.5"/><path d="M359.26,267.53 L360.00,269.51 L362.11,269.60 L360.46,270.91 L361.02,272.95 L359.26,271.79 L357.50,272.95 L358.06,270.91 L356.41,269.60 L358.52,269.51Z" fill="#EDB120" stroke="#EDB120" stroke-width="0.5"/><path d="M360.87,269.46 L361.61,271.44 L363.72,271.53 L362.07,272.85 L362.63,274.89 L360.87,273.72 L359.11,274.89 L359.67,272.85 L358.02,271.53 L360.13,271.44Z" fill="#EDB120" stroke="#EDB120" stroke-width="0.5"/><path d="M362.48,271.81 L363.22,273.79 L365.33,273.89 L363.68,275.20 L364.24,277.24 L362.48,276.07 L360.72,277.24 L361.28,275.20 L359.63,273.89 L361.74,273.79Z" fill="#EDB120" stroke="#EDB120" stroke-width="0.5"/><path d="M364.09,274.32 L364.83,276.30 L366.94,276.40 L365.29,277.71 L365.85,279.75 L364.09,278.58 L362.32,279.75 L362.89,277.71 L361.23,276.40 L363.35,276.30Z" fill="#EDB120" stroke="#EDB120" stroke-width="0.5"/><path d="M365.70,277.11 L366.44,279.09 L368.55,279.18 L366.90,280.50 L367.46,282.53 L365.70,281.37 L363.93,282.53 L364.50,280.50 L362.84,279.18 L364.96,279.09Z" fill="#EDB120" stroke="#EDB120" stroke-width="0.5"/><path d="M367.31,280.17 L368.05,282.15 L370.16,282.24 L368.51,283.56 L369.07,285.60 L367.31,284.43 L365.54,285.60 L366.11,283.56 L364.45,282.24 L366.57,282.15Z" fill="#EDB120" stroke="#EDB120" stroke-width="0.5"/><path d="M368.92,283.76 L369.66,285.74 L371.77,285.84 L370.11,287.15 L370.68,289.19 L368.92,288.02 L367.15,289.19 L367.72,287.15 L366.06,285.84 L368.18,285.74Z" fill="#EDB120" stroke="#EDB120" stroke-width="0.5"/><path d="M370.53,288.02 L371.27,290.00 L373.38,290.10 L371.72,291.41 L372.29,293.45 L370.53,292.28 L368.76,293.45 L369.33,291.41 L367.67,290.10 L369.79,290.00Z" fill="#EDB120" stroke="#EDB120" stroke-width="0.5"/><path d="M372.14,291.72 L372.88,293.70 L374.99,293.80 L373.33,295.11 L373.90,297.15 L372.14,295.98 L370.37,297.15 L370.94,295.11 L369.28,293.80 L371.39,293.70Z" fill="#EDB120" stroke="#EDB120" stroke-width="0.5"/><path d="M373.74,294.78 L374.49,296.76 L376.60,296.85 L374.94,298.17 L375.51,300.20 L373.74,299.04 L371.98,300.20 L372.55,298.17 L370.89,296.85 L373.00,296.76Z" fill="#EDB120" stroke="#EDB120" stroke-width="0.5"/><path d="M375.35,297.57 L376.09,299.55 L378.21,299.64 L376.55,300.96 L377.12,303.00 L375.35,301.83 L373.59,303.00 L374.16,300.96 L372.50,299.64 L374.61,299.55Z" fill="#EDB120" stroke="#EDB120" stroke-width="0.5"/><path d="M376.96,300.23 L377.70,302.21 L379.82,302.31 L378.16,303.62 L378.73,305.66 L376.96,304.49 L375.20,305.66 L375.77,303.62 L374.11,302.31 L376.22,302.21Z" fill="#EDB120" stroke="#EDB120" stroke-width="0.5"/><path d="M378.57,302.73 L379.31,304.71 L381.43,304.80 L379.77,306.12 L380.34,308.16 L378.57,306.99 L376.81,308.16 L377.37,306.12 L375.72,304.80 L377.83,304.71Z" fill="#EDB120" stroke="#EDB120" stroke-width="0.5"/><path d="M380.18,305.10 L380.92,307.08 L383.04,307.17 L381.38,308.49 L381.95,310.53 L380.18,309.36 L378.42,310.53 L378.98,308.49 L377.33,307.17 L379.44,307.08Z" fill="#EDB120" stroke="#EDB120" stroke-width="0.5"/><path d="M381.79,307.44 L382.53,309.42 L384.64,309.52 L382.99,310.83 L383.56,312.87 L381.79,311.70 L380.03,312.87 L380.59,310.83 L378.94,309.52 L381.05,309.42Z" fill="#EDB120" stroke="#EDB120" stroke-width="0.5"/>
<path d="M335.29 245.35 L339.30 275.15 L343.31 288.74 L347.33 297.19 L351.34 302.79 L355.35 308.46 L359.36 313.05 L363.38 316.87 L367.39 319.56 L371.40 322.38 L375.41 324.91 L379.43 327.12 L383.44 329.12 L387.45 330.87 L391.46 332.42 L395.48 334.01 L399.49 335.90 L403.50 338.02 L407.51 340.04 L411.53 341.77 L415.54 343.39 L419.55 345.09 L423.56 347.02 L427.58 349.09 L431.59 351.12 L435.60 353.13 L439.61 355.03 L443.63 357.49 L447.64 360.50" fill="none" stroke="#7E2F8E" stroke-width="1.50" stroke-linejoin="round"/>
<circle cx="335.29" cy="245.35" r="2.00" fill="#7E2F8E"/><circle cx="339.30" cy="275.15" r="2.00" fill="#7E2F8E"/><circle cx="343.31" cy="288.74" r="2.00" fill="#7E2F8E"/><circle cx="347.33" cy="297.19" r="2.00" fill="#7E2F8E"/><circle cx="351.34" cy="302.79" r="2.00" fill="#7E2F8E"/><circle cx="355.35" cy="308.46" r="2.00" fill="#7E2F8E"/><circle cx="359.36" cy="313.05" r="2.00" fill="#7E2F8E"/><circle cx="363.38" cy="316.87" r="2.00" fill="#7E2F8E"/><circle cx="367.39" cy="319.56" r="2.00" fill="#7E2F8E"/><circle cx="371.40" cy="322.38" r="2.00" fill="#7E2F8E"/><circle cx="375.41" cy="324.91" r="2.00" fill="#7E2F8E"/><circle cx="379.43" cy="327.12" r="2.00" fill="#7E2F8E"/><circle cx="383.44" cy="329.12" r="2.00" fill="#7E2F8E"/><circle cx="387.45" cy="330.87" r="2.00" fill="#7E2F8E"/><circle cx="391.46" cy="332.42" r="2.00" fill="#7E2F8E"/><circle cx="395.48" cy="334.01" r="2.00" fill="#7E2F8E"/><circle cx="399.49" cy="335.90" r="2.00" fill="#7E2F8E"/><circle cx="403.50" cy="338.02" r="2.00" fill="#7E2F8E"/><circle cx="407.51" cy="340.04" r="2.00" fill="#7E2F8E"/><circle cx="411.53" cy="341.77" r="2.00" fill="#7E2F8E"/><circle cx="415.54" cy="343.39" r="2.00" fill="#7E2F8E"/><circle cx="419.55" cy="345.09" r="2.00" fill="#7E2F8E"/><circle cx="423.56" cy="347.02" r="2.00" fill="#7E2F8E"/><circle cx="427.58" cy="349.09" r="2.00" fill="#7E2F8E"/><circle cx="431.59" cy="351.12" r="2.00" fill="#7E2F8E"/><circle cx="435.60" cy="353.13" r="2.00" fill="#7E2F8E"/><circle cx="439.61" cy="355.03" r="2.00" fill="#7E2F8E"/><circle cx="443.63" cy="357.49" r="2.00" fill="#7E2F8E"/><circle cx="447.64" cy="360.50" r="2.00" fill="#7E2F8E"/>
</g>
<rect x="331.30" y="240.20" width="207.50" height="163.90" fill="none" stroke="#808080" stroke-width="1.00"/>
<text x="331.30" y="413.50" font-size="6.40" text-anchor="middle" fill="#444">0</text>
<text x="354.36" y="413.50" font-size="6.40" text-anchor="middle" fill="#444">1</text>
<text x="377.41" y="413.50" font-size="6.40" text-anchor="middle" fill="#444">2</text>
<text x="400.47" y="413.50" font-size="6.40" text-anchor="middle" fill="#444">3</text>
<text x="423.52" y="413.50" font-size="6.40" text-anchor="middle" fill="#444">4</text>
<text x="446.58" y="413.50" font-size="6.40" text-anchor="middle" fill="#444">5</text>
<text x="469.63" y="413.50" font-size="6.40" text-anchor="middle" fill="#444">6</text>
<text x="492.69" y="413.50" font-size="6.40" text-anchor="middle" fill="#444">7</text>
<text x="515.74" y="413.50" font-size="6.40" text-anchor="middle" fill="#444">8</text>
<text x="538.80" y="413.50" font-size="6.40" text-anchor="middle" fill="#444">9</text>
<text x="328.30" y="407.30" font-size="6.40" text-anchor="end" fill="#444">0</text>
<text x="328.30" y="383.89" font-size="6.40" text-anchor="end" fill="#444">0.05</text>
<text x="328.30" y="360.47" font-size="6.40" text-anchor="end" fill="#444">0.1</text>
<text x="328.30" y="337.06" font-size="6.40" text-anchor="end" fill="#444">0.15</text>
<text x="328.30" y="313.64" font-size="6.40" text-anchor="end" fill="#444">0.2</text>
<text x="328.30" y="290.23" font-size="6.40" text-anchor="end" fill="#444">0.25</text>
<text x="328.30" y="266.81" font-size="6.40" text-anchor="end" fill="#444">0.3</text>
<text x="328.30" y="243.40" font-size="6.40" text-anchor="end" fill="#444">0.35</text>
<path d="M331.30 404.10V402.10M331.30 240.20V242.20M354.36 404.10V402.10M354.36 240.20V242.20M377.41 404.10V402.10M377.41 240.20V242.20M400.47 404.10V402.10M400.47 240.20V242.20M423.52 404.10V402.10M423.52 240.20V242.20M446.58 404.10V402.10M446.58 240.20V242.20M469.63 404.10V402.10M469.63 240.20V242.20M492.69 404.10V402.10M492.69 240.20V242.20M515.74 404.10V402.10M515.74 240.20V242.20M538.80 404.10V402.10M538.80 240.20V242.20M331.30 404.10H333.30M538.80 404.10H536.80M331.30 380.69H333.30M538.80 380.69H536.80M331.30 357.27H333.30M538.80 357.27H536.80M331.30 333.86H333.30M538.80 333.86H536.80M331.30 310.44H333.30M538.80 310.44H536.80M331.30 287.03H333.30M538.80 287.03H536.80M331.30 263.61H333.30M538.80 263.61H536.80M331.30 240.20H333.30M538.80 240.20H536.80" stroke="#808080" stroke-width="1.00"/>
<text x="435.05" y="237.00" font-size="7.25" text-anchor="middle" fill="#111">Relative residual</text>
<text x="434.05" y="422.50" font-size="7.00" text-anchor="middle" fill="#333">time(second)</text>
<text transform="translate(310.34 322.15) rotate(-90)" font-size="7.50" text-anchor="middle" fill="#222" stroke="#444" stroke-width="0.15">||WH - V||<tspan font-size="5" dy="2.3">F</tspan><tspan dy="-2.3">/||V||</tspan><tspan font-size="5" dy="2.3">F</tspan></text>
<rect x="492.00" y="246.20" width="40.40" height="33.00" fill="#fff" stroke="#888" stroke-width="0.8"/>
<path d="M494.40 250.80H508.00" stroke="#0072BD" stroke-width="1.50"/>
<path d="M501.20 248.10L503.00 250.80L501.20 253.50L499.40 250.80Z" fill="#0072BD" fill-opacity="0.45" stroke="#0072BD" stroke-width="1.15"/>
<text transform="translate(510.40 253.70) scale(1 1.15)" font-size="5.55" fill="#1a1a1a">NMPBB</text>
<path d="M494.40 258.75H508.00" stroke="#D95319" stroke-width="1.50"/>
<circle cx="501.20" cy="258.75" r="2.05" fill="none" stroke="#D95319" stroke-width="1.1"/>
<text transform="translate(510.40 261.65) scale(1 1.15)" font-size="5.55" fill="#1a1a1a">QRPBB</text>
<path d="M494.40 266.70H508.00" stroke="#EDB120" stroke-width="1.50"/>
<path d="M501.20,263.70 L501.94,265.68 L504.05,265.77 L502.40,267.09 L502.96,269.13 L501.20,267.96 L499.44,269.13 L500.00,267.09 L498.35,265.77 L500.46,265.68Z" fill="#EDB120" stroke="#EDB120" stroke-width="0.5"/>
<text transform="translate(510.40 269.60) scale(1 1.15)" font-size="5.55" fill="#1a1a1a">BCD</text>
<path d="M494.40 274.65H508.00" stroke="#7E2F8E" stroke-width="1.50"/>
<circle cx="501.20" cy="274.65" r="2.00" fill="#7E2F8E"/>
<text transform="translate(510.40 277.55) scale(1 1.15)" font-size="5.55" fill="#1a1a1a">HALS</text>
<text x="429.05" y="434.70" font-family="Liberation Serif, serif" font-size="11.00" text-anchor="middle" letter-spacing="0.2" fill="#111"><tspan font-weight="bold">(d)</tspan> (m n r) = (6000 2000 40)</text>
<g>
<path d="M39.09 477.38 L49.47 537.78 L58.06 554.64 L65.98 564.94 L74.56 573.84 L83.01 583.21 L91.04 591.64 L97.96 599.60 L104.33 604.28 L111.53 609.90 L117.49 612.71 L123.58 614.58 L127.60 615.52 L131.47 615.71 L132.03 615.99 L139.37 616.46 L147.67 616.92 L153.90 616.92 L159.86 616.92 L164.98 616.92 L169.55 616.92 L173.15 616.92 L178.97 616.92 L184.64 616.92 L190.74 616.92 L197.11 616.92 L204.03 616.92 L210.26 616.92 L216.63 616.92 L223.28 616.92 L229.09 616.92" fill="none" stroke="#0072BD" stroke-width="1.50" stroke-linejoin="round"/>
<path d="M39.09 474.68L40.89 477.38L39.09 480.08L37.29 477.38Z" fill="#0072BD" fill-opacity="0.45" stroke="#0072BD" stroke-width="1.15"/><path d="M49.47 535.08L51.27 537.78L49.47 540.48L47.67 537.78Z" fill="#0072BD" fill-opacity="0.45" stroke="#0072BD" stroke-width="1.15"/><path d="M58.06 551.94L59.86 554.64L58.06 557.34L56.26 554.64Z" fill="#0072BD" fill-opacity="0.45" stroke="#0072BD" stroke-width="1.15"/><path d="M65.98 562.24L67.78 564.94L65.98 567.64L64.18 564.94Z" fill="#0072BD" fill-opacity="0.45" stroke="#0072BD" stroke-width="1.15"/><path d="M74.56 571.14L76.36 573.84L74.56 576.54L72.76 573.84Z" fill="#0072BD" fill-opacity="0.45" stroke="#0072BD" stroke-width="1.15"/><path d="M83.01 580.51L84.81 583.21L83.01 585.91L81.21 583.21Z" fill="#0072BD" fill-opacity="0.45" stroke="#0072BD" stroke-width="1.15"/><path d="M91.04 588.94L92.84 591.64L91.04 594.34L89.24 591.64Z" fill="#0072BD" fill-opacity="0.45" stroke="#0072BD" stroke-width="1.15"/><path d="M97.96 596.90L99.76 599.60L97.96 602.30L96.16 599.60Z" fill="#0072BD" fill-opacity="0.45" stroke="#0072BD" stroke-width="1.15"/><path d="M104.33 601.58L106.13 604.28L104.33 606.98L102.53 604.28Z" fill="#0072BD" fill-opacity="0.45" stroke="#0072BD" stroke-width="1.15"/><path d="M111.53 607.20L113.33 609.90L111.53 612.60L109.73 609.90Z" fill="#0072BD" fill-opacity="0.45" stroke="#0072BD" stroke-width="1.15"/><path d="M117.49 610.01L119.29 612.71L117.49 615.41L115.69 612.71Z" fill="#0072BD" fill-opacity="0.45" stroke="#0072BD" stroke-width="1.15"/><path d="M123.58 611.88L125.38 614.58L123.58 617.28L121.78 614.58Z" fill="#0072BD" fill-opacity="0.45" stroke="#0072BD" stroke-width="1.15"/><path d="M127.60 612.82L129.40 615.52L127.60 618.22L125.80 615.52Z" fill="#0072BD" fill-opacity="0.45" stroke="#0072BD" stroke-width="1.15"/><path d="M131.47 613.01L133.27 615.71L131.47 618.41L129.67 615.71Z" fill="#0072BD" fill-opacity="0.45" stroke="#0072BD" stroke-width="1.15"/><path d="M132.03 613.29L133.83 615.99L132.03 618.69L130.23 615.99Z" fill="#0072BD" fill-opacity="0.45" stroke="#0072BD" stroke-width="1.15"/><path d="M139.37 613.76L141.17 616.46L139.37 619.16L137.57 616.46Z" fill="#0072BD" fill-opacity="0.45" stroke="#0072BD" stroke-width="1.15"/><path d="M147.67 614.22L149.47 616.92L147.67 619.62L145.87 616.92Z" fill="#0072BD" fill-opacity="0.45" stroke="#0072BD" stroke-width="1.15"/><path d="M153.90 614.22L155.70 616.92L153.90 619.62L152.10 616.92Z" fill="#0072BD" fill-opacity="0.45" stroke="#0072BD" stroke-width="1.15"/><path d="M159.86 614.22L161.66 616.92L159.86 619.62L158.06 616.92Z" fill="#0072BD" fill-opacity="0.45" stroke="#0072BD" stroke-width="1.15"/><path d="M164.98 614.22L166.78 616.92L164.98 619.62L163.18 616.92Z" fill="#0072BD" fill-opacity="0.45" stroke="#0072BD" stroke-width="1.15"/><path d="M169.55 614.22L171.35 616.92L169.55 619.62L167.75 616.92Z" fill="#0072BD" fill-opacity="0.45" stroke="#0072BD" stroke-width="1.15"/><path d="M173.15 614.22L174.95 616.92L173.15 619.62L171.35 616.92Z" fill="#0072BD" fill-opacity="0.45" stroke="#0072BD" stroke-width="1.15"/><path d="M178.97 614.22L180.77 616.92L178.97 619.62L177.17 616.92Z" fill="#0072BD" fill-opacity="0.45" stroke="#0072BD" stroke-width="1.15"/><path d="M184.64 614.22L186.44 616.92L184.64 619.62L182.84 616.92Z" fill="#0072BD" fill-opacity="0.45" stroke="#0072BD" stroke-width="1.15"/><path d="M190.74 614.22L192.54 616.92L190.74 619.62L188.94 616.92Z" fill="#0072BD" fill-opacity="0.45" stroke="#0072BD" stroke-width="1.15"/><path d="M197.11 614.22L198.91 616.92L197.11 619.62L195.31 616.92Z" fill="#0072BD" fill-opacity="0.45" stroke="#0072BD" stroke-width="1.15"/><path d="M204.03 614.22L205.83 616.92L204.03 619.62L202.23 616.92Z" fill="#0072BD" fill-opacity="0.45" stroke="#0072BD" stroke-width="1.15"/><path d="M210.26 614.22L212.06 616.92L210.26 619.62L208.46 616.92Z" fill="#0072BD" fill-opacity="0.45" stroke="#0072BD" stroke-width="1.15"/><path d="M216.63 614.22L218.43 616.92L216.63 619.62L214.83 616.92Z" fill="#0072BD" fill-opacity="0.45" stroke="#0072BD" stroke-width="1.15"/><path d="M223.28 614.22L225.08 616.92L223.28 619.62L221.48 616.92Z" fill="#0072BD" fill-opacity="0.45" stroke="#0072BD" stroke-width="1.15"/><path d="M229.09 614.22L230.89 616.92L229.09 619.62L227.29 616.92Z" fill="#0072BD" fill-opacity="0.45" stroke="#0072BD" stroke-width="1.15"/>
<path d="M46.47 520.46 L57.06 547.62 L64.59 554.64 L71.03 557.92 L76.64 560.73 L83.01 562.60 L89.66 564.94 L96.03 566.35 L101.56 569.16 L107.52 571.97 L113.61 574.31 L119.56 577.59 L125.52 581.33 L131.61 584.61 L137.29 587.42 L143.52 590.23 L149.06 592.11 L155.01 594.45 L161.24 596.32 L166.92 597.72 L172.32 599.13 L177.58 600.53 L182.71 601.47 L188.38 601.94 L193.64 602.88 L198.35 603.81 L203.48 604.28 L208.18 605.22 L213.03 605.69 L217.60 607.09" fill="none" stroke="#D95319" stroke-width="1.50" stroke-linejoin="round"/>
<circle cx="46.47" cy="520.46" r="2.05" fill="none" stroke="#D95319" stroke-width="1.1"/><circle cx="57.06" cy="547.62" r="2.05" fill="none" stroke="#D95319" stroke-width="1.1"/><circle cx="64.59" cy="554.64" r="2.05" fill="none" stroke="#D95319" stroke-width="1.1"/><circle cx="71.03" cy="557.92" r="2.05" fill="none" stroke="#D95319" stroke-width="1.1"/><circle cx="76.64" cy="560.73" r="2.05" fill="none" stroke="#D95319" stroke-width="1.1"/><circle cx="83.01" cy="562.60" r="2.05" fill="none" stroke="#D95319" stroke-width="1.1"/><circle cx="89.66" cy="564.94" r="2.05" fill="none" stroke="#D95319" stroke-width="1.1"/><circle cx="96.03" cy="566.35" r="2.05" fill="none" stroke="#D95319" stroke-width="1.1"/><circle cx="101.56" cy="569.16" r="2.05" fill="none" stroke="#D95319" stroke-width="1.1"/><circle cx="107.52" cy="571.97" r="2.05" fill="none" stroke="#D95319" stroke-width="1.1"/><circle cx="113.61" cy="574.31" r="2.05" fill="none" stroke="#D95319" stroke-width="1.1"/><circle cx="119.56" cy="577.59" r="2.05" fill="none" stroke="#D95319" stroke-width="1.1"/><circle cx="125.52" cy="581.33" r="2.05" fill="none" stroke="#D95319" stroke-width="1.1"/><circle cx="131.61" cy="584.61" r="2.05" fill="none" stroke="#D95319" stroke-width="1.1"/><circle cx="137.29" cy="587.42" r="2.05" fill="none" stroke="#D95319" stroke-width="1.1"/><circle cx="143.52" cy="590.23" r="2.05" fill="none" stroke="#D95319" stroke-width="1.1"/><circle cx="149.06" cy="592.11" r="2.05" fill="none" stroke="#D95319" stroke-width="1.1"/><circle cx="155.01" cy="594.45" r="2.05" fill="none" stroke="#D95319" stroke-width="1.1"/><circle cx="161.24" cy="596.32" r="2.05" fill="none" stroke="#D95319" stroke-width="1.1"/><circle cx="166.92" cy="597.72" r="2.05" fill="none" stroke="#D95319" stroke-width="1.1"/><circle cx="172.32" cy="599.13" r="2.05" fill="none" stroke="#D95319" stroke-width="1.1"/><circle cx="177.58" cy="600.53" r="2.05" fill="none" stroke="#D95319" stroke-width="1.1"/><circle cx="182.71" cy="601.47" r="2.05" fill="none" stroke="#D95319" stroke-width="1.1"/><circle cx="188.38" cy="601.94" r="2.05" fill="none" stroke="#D95319" stroke-width="1.1"/><circle cx="193.64" cy="602.88" r="2.05" fill="none" stroke="#D95319" stroke-width="1.1"/><circle cx="198.35" cy="603.81" r="2.05" fill="none" stroke="#D95319" stroke-width="1.1"/><circle cx="203.48" cy="604.28" r="2.05" fill="none" stroke="#D95319" stroke-width="1.1"/><circle cx="208.18" cy="605.22" r="2.05" fill="none" stroke="#D95319" stroke-width="1.1"/><circle cx="213.03" cy="605.69" r="2.05" fill="none" stroke="#D95319" stroke-width="1.1"/><circle cx="217.60" cy="607.09" r="2.05" fill="none" stroke="#D95319" stroke-width="1.1"/>
<path d="M33.09 489.08 L35.04 492.61 L36.99 495.08 L38.94 496.30 L40.89 497.04 L42.84 497.62 L44.79 498.19 L46.74 498.71 L48.69 499.17 L50.64 499.60 L52.59 500.01 L54.54 500.42 L56.49 500.78 L58.44 501.11 L60.39 501.44 L62.34 501.80 L64.29 502.26 L66.24 502.80 L68.19 503.42 L70.14 504.15 L72.09 505.04 L74.04 506.21 L75.99 507.68 L77.94 509.16 L79.89 510.48 L81.84 511.79 L83.79 513.27 L85.74 515.34 L87.69 517.79 L89.64 519.69 L91.59 521.39" fill="none" stroke="#EDB120" stroke-width="1.50" stroke-linejoin="round"/>
<path d="M33.09,486.08 L33.83,488.06 L35.95,488.16 L34.29,489.47 L34.86,491.51 L33.09,490.34 L31.33,491.51 L31.89,489.47 L30.24,488.16 L32.35,488.06Z" fill="#EDB120" stroke="#EDB120" stroke-width="0.5"/><path d="M35.04,489.61 L35.78,491.59 L37.90,491.68 L36.24,492.99 L36.81,495.03 L35.04,493.87 L33.28,495.03 L33.84,492.99 L32.19,491.68 L34.30,491.59Z" fill="#EDB120" stroke="#EDB120" stroke-width="0.5"/><path d="M36.99,492.08 L37.73,494.06 L39.85,494.15 L38.19,495.47 L38.76,497.51 L36.99,496.34 L35.23,497.51 L35.79,495.47 L34.14,494.15 L36.25,494.06Z" fill="#EDB120" stroke="#EDB120" stroke-width="0.5"/><path d="M38.94,493.30 L39.68,495.28 L41.80,495.37 L40.14,496.69 L40.71,498.73 L38.94,497.56 L37.18,498.73 L37.74,496.69 L36.09,495.37 L38.20,495.28Z" fill="#EDB120" stroke="#EDB120" stroke-width="0.5"/><path d="M40.89,494.04 L41.63,496.02 L43.75,496.11 L42.09,497.43 L42.66,499.46 L40.89,498.30 L39.13,499.46 L39.69,497.43 L38.04,496.11 L40.15,496.02Z" fill="#EDB120" stroke="#EDB120" stroke-width="0.5"/><path d="M42.84,494.62 L43.58,496.60 L45.70,496.69 L44.04,498.01 L44.61,500.04 L42.84,498.88 L41.08,500.04 L41.64,498.01 L39.99,496.69 L42.10,496.60Z" fill="#EDB120" stroke="#EDB120" stroke-width="0.5"/><path d="M44.79,495.19 L45.53,497.17 L47.65,497.26 L45.99,498.58 L46.56,500.62 L44.79,499.45 L43.03,500.62 L43.59,498.58 L41.94,497.26 L44.05,497.17Z" fill="#EDB120" stroke="#EDB120" stroke-width="0.5"/><path d="M46.74,495.71 L47.48,497.69 L49.60,497.78 L47.94,499.09 L48.51,501.13 L46.74,499.97 L44.98,501.13 L45.54,499.09 L43.89,497.78 L46.00,497.69Z" fill="#EDB120" stroke="#EDB120" stroke-width="0.5"/><path d="M48.69,496.17 L49.43,498.15 L51.55,498.24 L49.89,499.56 L50.46,501.59 L48.69,500.43 L46.93,501.59 L47.49,499.56 L45.84,498.24 L47.95,498.15Z" fill="#EDB120" stroke="#EDB120" stroke-width="0.5"/><path d="M50.64,496.60 L51.38,498.58 L53.50,498.67 L51.84,499.99 L52.41,502.03 L50.64,500.86 L48.88,502.03 L49.44,499.99 L47.79,498.67 L49.90,498.58Z" fill="#EDB120" stroke="#EDB120" stroke-width="0.5"/><path d="M52.59,497.01 L53.33,498.99 L55.45,499.09 L53.79,500.40 L54.36,502.44 L52.59,501.27 L50.83,502.44 L51.39,500.40 L49.74,499.09 L51.85,498.99Z" fill="#EDB120" stroke="#EDB120" stroke-width="0.5"/><path d="M54.54,497.42 L55.28,499.40 L57.40,499.49 L55.74,500.81 L56.31,502.85 L54.54,501.68 L52.78,502.85 L53.34,500.81 L51.69,499.49 L53.80,499.40Z" fill="#EDB120" stroke="#EDB120" stroke-width="0.5"/><path d="M56.49,497.78 L57.23,499.76 L59.35,499.86 L57.69,501.17 L58.26,503.21 L56.49,502.04 L54.73,503.21 L55.29,501.17 L53.64,499.86 L55.75,499.76Z" fill="#EDB120" stroke="#EDB120" stroke-width="0.5"/><path d="M58.44,498.11 L59.18,500.09 L61.30,500.18 L59.64,501.50 L60.21,503.54 L58.44,502.37 L56.68,503.54 L57.24,501.50 L55.59,500.18 L57.70,500.09Z" fill="#EDB120" stroke="#EDB120" stroke-width="0.5"/><path d="M60.39,498.44 L61.13,500.42 L63.25,500.51 L61.59,501.83 L62.16,503.86 L60.39,502.70 L58.63,503.86 L59.20,501.83 L57.54,500.51 L59.65,500.42Z" fill="#EDB120" stroke="#EDB120" stroke-width="0.5"/><path d="M62.34,498.80 L63.08,500.78 L65.20,500.88 L63.54,502.19 L64.11,504.23 L62.34,503.06 L60.58,504.23 L61.15,502.19 L59.49,500.88 L61.60,500.78Z" fill="#EDB120" stroke="#EDB120" stroke-width="0.5"/><path d="M64.29,499.26 L65.03,501.24 L67.15,501.33 L65.49,502.65 L66.06,504.69 L64.29,503.52 L62.53,504.69 L63.10,502.65 L61.44,501.33 L63.55,501.24Z" fill="#EDB120" stroke="#EDB120" stroke-width="0.5"/><path d="M66.24,499.80 L66.98,501.78 L69.10,501.88 L67.44,503.19 L68.01,505.23 L66.24,504.06 L64.48,505.23 L65.05,503.19 L63.39,501.88 L65.50,501.78Z" fill="#EDB120" stroke="#EDB120" stroke-width="0.5"/><path d="M68.19,500.42 L68.93,502.40 L71.05,502.50 L69.39,503.81 L69.96,505.85 L68.19,504.68 L66.43,505.85 L67.00,503.81 L65.34,502.50 L67.45,502.40Z" fill="#EDB120" stroke="#EDB120" stroke-width="0.5"/><path d="M70.14,501.15 L70.88,503.13 L73.00,503.22 L71.34,504.54 L71.91,506.58 L70.14,505.41 L68.38,506.58 L68.95,504.54 L67.29,503.22 L69.40,503.13Z" fill="#EDB120" stroke="#EDB120" stroke-width="0.5"/><path d="M72.09,502.04 L72.83,504.02 L74.95,504.11 L73.29,505.43 L73.86,507.46 L72.09,506.30 L70.33,507.46 L70.90,505.43 L69.24,504.11 L71.35,504.02Z" fill="#EDB120" stroke="#EDB120" stroke-width="0.5"/><path d="M74.04,503.21 L74.78,505.19 L76.90,505.29 L75.24,506.60 L75.81,508.64 L74.04,507.47 L72.28,508.64 L72.85,506.60 L71.19,505.29 L73.30,505.19Z" fill="#EDB120" stroke="#EDB120" stroke-width="0.5"/><path d="M75.99,504.68 L76.73,506.66 L78.85,506.75 L77.19,508.07 L77.76,510.10 L75.99,508.94 L74.23,510.10 L74.80,508.07 L73.14,506.75 L75.25,506.66Z" fill="#EDB120" stroke="#EDB120" stroke-width="0.5"/><path d="M77.94,506.16 L78.68,508.14 L80.80,508.23 L79.14,509.55 L79.71,511.59 L77.94,510.42 L76.18,511.59 L76.75,509.55 L75.09,508.23 L77.20,508.14Z" fill="#EDB120" stroke="#EDB120" stroke-width="0.5"/><path d="M79.89,507.48 L80.63,509.46 L82.75,509.55 L81.09,510.87 L81.66,512.91 L79.89,511.74 L78.13,512.91 L78.70,510.87 L77.04,509.55 L79.15,509.46Z" fill="#EDB120" stroke="#EDB120" stroke-width="0.5"/><path d="M81.84,508.79 L82.58,510.77 L84.70,510.86 L83.04,512.18 L83.61,514.21 L81.84,513.05 L80.08,514.21 L80.65,512.18 L78.99,510.86 L81.10,510.77Z" fill="#EDB120" stroke="#EDB120" stroke-width="0.5"/><path d="M83.79,510.27 L84.53,512.25 L86.65,512.35 L84.99,513.66 L85.56,515.70 L83.79,514.53 L82.03,515.70 L82.60,513.66 L80.94,512.35 L83.05,512.25Z" fill="#EDB120" stroke="#EDB120" stroke-width="0.5"/><path d="M85.74,512.34 L86.48,514.32 L88.60,514.41 L86.94,515.73 L87.51,517.77 L85.74,516.60 L83.98,517.77 L84.55,515.73 L82.89,514.41 L85.00,514.32Z" fill="#EDB120" stroke="#EDB120" stroke-width="0.5"/><path d="M87.69,514.79 L88.43,516.77 L90.55,516.86 L88.89,518.18 L89.46,520.22 L87.69,519.05 L85.93,520.22 L86.50,518.18 L84.84,516.86 L86.95,516.77Z" fill="#EDB120" stroke="#EDB120" stroke-width="0.5"/><path d="M89.64,516.69 L90.39,518.67 L92.50,518.77 L90.84,520.08 L91.41,522.12 L89.64,520.95 L87.88,522.12 L88.45,520.08 L86.79,518.77 L88.90,518.67Z" fill="#EDB120" stroke="#EDB120" stroke-width="0.5"/><path d="M91.59,518.39 L92.34,520.37 L94.45,520.47 L92.79,521.78 L93.36,523.82 L91.59,522.65 L89.83,523.82 L90.40,521.78 L88.74,520.47 L90.85,520.37Z" fill="#EDB120" stroke="#EDB120" stroke-width="0.5"/>
<path d="M37.09 479.72 L42.29 501.97 L47.48 515.78 L52.67 525.16 L57.87 531.49 L63.06 536.52 L68.25 540.34 L73.44 543.57 L78.64 546.19 L83.83 548.64 L89.02 550.89 L94.22 553.05 L99.41 555.39 L104.60 557.73 L109.80 559.98 L114.99 562.13 L120.18 564.14 L125.37 566.13 L130.57 568.21 L135.76 570.38 L140.95 572.72 L146.15 575.07 L151.34 577.16 L156.53 579.23 L161.73 581.55 L166.92 583.91 L172.11 586.05 L177.30 588.09 L182.50 590.11 L187.69 592.11" fill="none" stroke="#7E2F8E" stroke-width="1.50" stroke-linejoin="round"/>
<circle cx="37.09" cy="479.72" r="2.00" fill="#7E2F8E"/><circle cx="42.29" cy="501.97" r="2.00" fill="#7E2F8E"/><circle cx="47.48" cy="515.78" r="2.00" fill="#7E2F8E"/><circle cx="52.67" cy="525.16" r="2.00" fill="#7E2F8E"/><circle cx="57.87" cy="531.49" r="2.00" fill="#7E2F8E"/><circle cx="63.06" cy="536.52" r="2.00" fill="#7E2F8E"/><circle cx="68.25" cy="540.34" r="2.00" fill="#7E2F8E"/><circle cx="73.44" cy="543.57" r="2.00" fill="#7E2F8E"/><circle cx="78.64" cy="546.19" r="2.00" fill="#7E2F8E"/><circle cx="83.83" cy="548.64" r="2.00" fill="#7E2F8E"/><circle cx="89.02" cy="550.89" r="2.00" fill="#7E2F8E"/><circle cx="94.22" cy="553.05" r="2.00" fill="#7E2F8E"/><circle cx="99.41" cy="555.39" r="2.00" fill="#7E2F8E"/><circle cx="104.60" cy="557.73" r="2.00" fill="#7E2F8E"/><circle cx="109.80" cy="559.98" r="2.00" fill="#7E2F8E"/><circle cx="114.99" cy="562.13" r="2.00" fill="#7E2F8E"/><circle cx="120.18" cy="564.14" r="2.00" fill="#7E2F8E"/><circle cx="125.37" cy="566.13" r="2.00" fill="#7E2F8E"/><circle cx="130.57" cy="568.21" r="2.00" fill="#7E2F8E"/><circle cx="135.76" cy="570.38" r="2.00" fill="#7E2F8E"/><circle cx="140.95" cy="572.72" r="2.00" fill="#7E2F8E"/><circle cx="146.15" cy="575.07" r="2.00" fill="#7E2F8E"/><circle cx="151.34" cy="577.16" r="2.00" fill="#7E2F8E"/><circle cx="156.53" cy="579.23" r="2.00" fill="#7E2F8E"/><circle cx="161.73" cy="581.55" r="2.00" fill="#7E2F8E"/><circle cx="166.92" cy="583.91" r="2.00" fill="#7E2F8E"/><circle cx="172.11" cy="586.05" r="2.00" fill="#7E2F8E"/><circle cx="177.30" cy="588.09" r="2.00" fill="#7E2F8E"/><circle cx="182.50" cy="590.11" r="2.00" fill="#7E2F8E"/><circle cx="187.69" cy="592.11" r="2.00" fill="#7E2F8E"/>
</g>
<rect x="31.50" y="465.20" width="207.70" height="163.90" fill="none" stroke="#808080" stroke-width="1.00"/>
<text x="31.50" y="638.50" font-size="6.40" text-anchor="middle" fill="#444">0</text>
<text x="100.73" y="638.50" font-size="6.40" text-anchor="middle" fill="#444">5</text>
<text x="169.97" y="638.50" font-size="6.40" text-anchor="middle" fill="#444">10</text>
<text x="239.20" y="638.50" font-size="6.40" text-anchor="middle" fill="#444">15</text>
<text x="28.50" y="632.30" font-size="6.40" text-anchor="end" fill="#444">0</text>
<text x="28.50" y="608.89" font-size="6.40" text-anchor="end" fill="#444">0.05</text>
<text x="28.50" y="585.47" font-size="6.40" text-anchor="end" fill="#444">0.1</text>
<text x="28.50" y="562.06" font-size="6.40" text-anchor="end" fill="#444">0.15</text>
<text x="28.50" y="538.64" font-size="6.40" text-anchor="end" fill="#444">0.2</text>
<text x="28.50" y="515.23" font-size="6.40" text-anchor="end" fill="#444">0.25</text>
<text x="28.50" y="491.81" font-size="6.40" text-anchor="end" fill="#444">0.3</text>
<text x="28.50" y="468.40" font-size="6.40" text-anchor="end" fill="#444">0.35</text>
<path d="M31.50 629.10V627.10M31.50 465.20V467.20M100.73 629.10V627.10M100.73 465.20V467.20M169.97 629.10V627.10M169.97 465.20V467.20M239.20 629.10V627.10M239.20 465.20V467.20M31.50 629.10H33.50M239.20 629.10H237.20M31.50 605.69H33.50M239.20 605.69H237.20M31.50 582.27H33.50M239.20 582.27H237.20M31.50 558.86H33.50M239.20 558.86H237.20M31.50 535.44H33.50M239.20 535.44H237.20M31.50 512.03H33.50M239.20 512.03H237.20M31.50 488.61H33.50M239.20 488.61H237.20M31.50 465.20H33.50M239.20 465.20H237.20" stroke="#808080" stroke-width="1.00"/>
<text x="135.35" y="462.00" font-size="7.25" text-anchor="middle" fill="#111">Relative residual</text>
<text x="134.35" y="647.50" font-size="7.00" text-anchor="middle" fill="#333">time(second)</text>
<text transform="translate(10.54 547.15) rotate(-90)" font-size="7.50" text-anchor="middle" fill="#222" stroke="#444" stroke-width="0.15">||WH - V||<tspan font-size="5" dy="2.3">F</tspan><tspan dy="-2.3">/||V||</tspan><tspan font-size="5" dy="2.3">F</tspan></text>
<rect x="192.40" y="471.20" width="40.40" height="33.00" fill="#fff" stroke="#888" stroke-width="0.8"/>
<path d="M194.80 475.80H208.40" stroke="#0072BD" stroke-width="1.50"/>
<path d="M201.60 473.10L203.40 475.80L201.60 478.50L199.80 475.80Z" fill="#0072BD" fill-opacity="0.45" stroke="#0072BD" stroke-width="1.15"/>
<text transform="translate(210.80 478.70) scale(1 1.15)" font-size="5.55" fill="#1a1a1a">NMPBB</text>
<path d="M194.80 483.75H208.40" stroke="#D95319" stroke-width="1.50"/>
<circle cx="201.60" cy="483.75" r="2.05" fill="none" stroke="#D95319" stroke-width="1.1"/>
<text transform="translate(210.80 486.65) scale(1 1.15)" font-size="5.55" fill="#1a1a1a">QRPBB</text>
<path d="M194.80 491.70H208.40" stroke="#EDB120" stroke-width="1.50"/>
<path d="M201.60,488.70 L202.34,490.68 L204.45,490.77 L202.80,492.09 L203.36,494.13 L201.60,492.96 L199.84,494.13 L200.40,492.09 L198.75,490.77 L200.86,490.68Z" fill="#EDB120" stroke="#EDB120" stroke-width="0.5"/>
<text transform="translate(210.80 494.60) scale(1 1.15)" font-size="5.55" fill="#1a1a1a">BCD</text>
<path d="M194.80 499.65H208.40" stroke="#7E2F8E" stroke-width="1.50"/>
<circle cx="201.60" cy="499.65" r="2.00" fill="#7E2F8E"/>
<text transform="translate(210.80 502.55) scale(1 1.15)" font-size="5.55" fill="#1a1a1a">HALS</text>
<text x="129.35" y="659.70" font-family="Liberation Serif, serif" font-size="11.00" text-anchor="middle" letter-spacing="0.2" fill="#111"><tspan font-weight="bold">(e)</tspan> (m n r) = (2000 10,000 50)</text>
<g>
<path d="M338.87 492.52 L346.86 537.86 L353.81 549.88 L362.22 558.08 L368.86 564.09 L375.81 570.64 L383.80 577.74 L389.71 585.39 L396.14 591.95 L401.75 595.23 L407.35 600.14 L412.12 605.61 L418.66 609.98 L424.05 613.26 L428.10 614.13 L431.21 614.90 L434.63 614.90 L443.25 614.90 L451.24 614.90 L456.63 614.90 L462.02 614.90 L465.55 614.90 L469.60 614.90 L477.90 614.90 L485.16 614.90 L490.56 614.90 L496.88 614.90 L503.11 614.90 L508.50 614.90" fill="none" stroke="#0072BD" stroke-width="1.50" stroke-linejoin="round"/>
<path d="M338.87 489.82L340.67 492.52L338.87 495.22L337.07 492.52Z" fill="#0072BD" fill-opacity="0.45" stroke="#0072BD" stroke-width="1.15"/><path d="M346.86 535.16L348.66 537.86L346.86 540.56L345.06 537.86Z" fill="#0072BD" fill-opacity="0.45" stroke="#0072BD" stroke-width="1.15"/><path d="M353.81 547.18L355.61 549.88L353.81 552.58L352.01 549.88Z" fill="#0072BD" fill-opacity="0.45" stroke="#0072BD" stroke-width="1.15"/><path d="M362.22 555.38L364.02 558.08L362.22 560.78L360.42 558.08Z" fill="#0072BD" fill-opacity="0.45" stroke="#0072BD" stroke-width="1.15"/><path d="M368.86 561.39L370.66 564.09L368.86 566.79L367.06 564.09Z" fill="#0072BD" fill-opacity="0.45" stroke="#0072BD" stroke-width="1.15"/><path d="M375.81 567.94L377.61 570.64L375.81 573.34L374.01 570.64Z" fill="#0072BD" fill-opacity="0.45" stroke="#0072BD" stroke-width="1.15"/><path d="M383.80 575.04L385.60 577.74L383.80 580.44L382.00 577.74Z" fill="#0072BD" fill-opacity="0.45" stroke="#0072BD" stroke-width="1.15"/><path d="M389.71 582.69L391.51 585.39L389.71 588.09L387.91 585.39Z" fill="#0072BD" fill-opacity="0.45" stroke="#0072BD" stroke-width="1.15"/><path d="M396.14 589.25L397.94 591.95L396.14 594.65L394.34 591.95Z" fill="#0072BD" fill-opacity="0.45" stroke="#0072BD" stroke-width="1.15"/><path d="M401.75 592.53L403.55 595.23L401.75 597.93L399.95 595.23Z" fill="#0072BD" fill-opacity="0.45" stroke="#0072BD" stroke-width="1.15"/><path d="M407.35 597.44L409.15 600.14L407.35 602.84L405.55 600.14Z" fill="#0072BD" fill-opacity="0.45" stroke="#0072BD" stroke-width="1.15"/><path d="M412.12 602.91L413.92 605.61L412.12 608.31L410.32 605.61Z" fill="#0072BD" fill-opacity="0.45" stroke="#0072BD" stroke-width="1.15"/><path d="M418.66 607.28L420.46 609.98L418.66 612.68L416.86 609.98Z" fill="#0072BD" fill-opacity="0.45" stroke="#0072BD" stroke-width="1.15"/><path d="M424.05 610.56L425.85 613.26L424.05 615.96L422.25 613.26Z" fill="#0072BD" fill-opacity="0.45" stroke="#0072BD" stroke-width="1.15"/><path d="M428.10 611.43L429.90 614.13L428.10 616.83L426.30 614.13Z" fill="#0072BD" fill-opacity="0.45" stroke="#0072BD" stroke-width="1.15"/><path d="M431.21 612.20L433.01 614.90L431.21 617.60L429.41 614.90Z" fill="#0072BD" fill-opacity="0.45" stroke="#0072BD" stroke-width="1.15"/><path d="M434.63 612.20L436.44 614.90L434.63 617.60L432.83 614.90Z" fill="#0072BD" fill-opacity="0.45" stroke="#0072BD" stroke-width="1.15"/><path d="M443.25 612.20L445.05 614.90L443.25 617.60L441.45 614.90Z" fill="#0072BD" fill-opacity="0.45" stroke="#0072BD" stroke-width="1.15"/><path d="M451.24 612.20L453.04 614.90L451.24 617.60L449.44 614.90Z" fill="#0072BD" fill-opacity="0.45" stroke="#0072BD" stroke-width="1.15"/><path d="M456.63 612.20L458.43 614.90L456.63 617.60L454.83 614.90Z" fill="#0072BD" fill-opacity="0.45" stroke="#0072BD" stroke-width="1.15"/><path d="M462.02 612.20L463.82 614.90L462.02 617.60L460.22 614.90Z" fill="#0072BD" fill-opacity="0.45" stroke="#0072BD" stroke-width="1.15"/><path d="M465.55 612.20L467.35 614.90L465.55 617.60L463.75 614.90Z" fill="#0072BD" fill-opacity="0.45" stroke="#0072BD" stroke-width="1.15"/><path d="M469.60 612.20L471.40 614.90L469.60 617.60L467.80 614.90Z" fill="#0072BD" fill-opacity="0.45" stroke="#0072BD" stroke-width="1.15"/><path d="M477.90 612.20L479.70 614.90L477.90 617.60L476.10 614.90Z" fill="#0072BD" fill-opacity="0.45" stroke="#0072BD" stroke-width="1.15"/><path d="M485.16 612.20L486.96 614.90L485.16 617.60L483.36 614.90Z" fill="#0072BD" fill-opacity="0.45" stroke="#0072BD" stroke-width="1.15"/><path d="M490.56 612.20L492.36 614.90L490.56 617.60L488.76 614.90Z" fill="#0072BD" fill-opacity="0.45" stroke="#0072BD" stroke-width="1.15"/><path d="M496.88 612.20L498.69 614.90L496.88 617.60L495.08 614.90Z" fill="#0072BD" fill-opacity="0.45" stroke="#0072BD" stroke-width="1.15"/><path d="M503.11 612.20L504.91 614.90L503.11 617.60L501.31 614.90Z" fill="#0072BD" fill-opacity="0.45" stroke="#0072BD" stroke-width="1.15"/><path d="M508.50 612.20L510.30 614.90L508.50 617.60L506.70 614.90Z" fill="#0072BD" fill-opacity="0.45" stroke="#0072BD" stroke-width="1.15"/>
<path d="M339.29 524.75 L346.45 543.87 L353.81 549.88 L360.87 553.71 L367.82 555.89 L374.36 558.08 L380.37 559.72 L387.32 561.35 L394.38 562.99 L401.12 565.73 L407.76 567.91 L414.30 570.64 L420.73 573.37 L427.68 576.65 L433.81 579.38 L441.17 582.66 L448.02 585.94 L454.76 589.22 L459.85 591.40 L465.55 593.59 L470.74 595.23 L475.93 596.32 L481.11 597.96 L486.41 599.60 L491.59 601.78 L497.51 603.42 L503.11 605.06 L508.50 607.25 L513.48 608.34 L518.36 609.43" fill="none" stroke="#D95319" stroke-width="1.50" stroke-linejoin="round"/>
<circle cx="339.29" cy="524.75" r="2.05" fill="none" stroke="#D95319" stroke-width="1.1"/><circle cx="346.45" cy="543.87" r="2.05" fill="none" stroke="#D95319" stroke-width="1.1"/><circle cx="353.81" cy="549.88" r="2.05" fill="none" stroke="#D95319" stroke-width="1.1"/><circle cx="360.87" cy="553.71" r="2.05" fill="none" stroke="#D95319" stroke-width="1.1"/><circle cx="367.82" cy="555.89" r="2.05" fill="none" stroke="#D95319" stroke-width="1.1"/><circle cx="374.36" cy="558.08" r="2.05" fill="none" stroke="#D95319" stroke-width="1.1"/><circle cx="380.37" cy="559.72" r="2.05" fill="none" stroke="#D95319" stroke-width="1.1"/><circle cx="387.32" cy="561.35" r="2.05" fill="none" stroke="#D95319" stroke-width="1.1"/><circle cx="394.38" cy="562.99" r="2.05" fill="none" stroke="#D95319" stroke-width="1.1"/><circle cx="401.12" cy="565.73" r="2.05" fill="none" stroke="#D95319" stroke-width="1.1"/><circle cx="407.76" cy="567.91" r="2.05" fill="none" stroke="#D95319" stroke-width="1.1"/><circle cx="414.30" cy="570.64" r="2.05" fill="none" stroke="#D95319" stroke-width="1.1"/><circle cx="420.73" cy="573.37" r="2.05" fill="none" stroke="#D95319" stroke-width="1.1"/><circle cx="427.68" cy="576.65" r="2.05" fill="none" stroke="#D95319" stroke-width="1.1"/><circle cx="433.81" cy="579.38" r="2.05" fill="none" stroke="#D95319" stroke-width="1.1"/><circle cx="441.17" cy="582.66" r="2.05" fill="none" stroke="#D95319" stroke-width="1.1"/><circle cx="448.02" cy="585.94" r="2.05" fill="none" stroke="#D95319" stroke-width="1.1"/><circle cx="454.76" cy="589.22" r="2.05" fill="none" stroke="#D95319" stroke-width="1.1"/><circle cx="459.85" cy="591.40" r="2.05" fill="none" stroke="#D95319" stroke-width="1.1"/><circle cx="465.55" cy="593.59" r="2.05" fill="none" stroke="#D95319" stroke-width="1.1"/><circle cx="470.74" cy="595.23" r="2.05" fill="none" stroke="#D95319" stroke-width="1.1"/><circle cx="475.93" cy="596.32" r="2.05" fill="none" stroke="#D95319" stroke-width="1.1"/><circle cx="481.11" cy="597.96" r="2.05" fill="none" stroke="#D95319" stroke-width="1.1"/><circle cx="486.41" cy="599.60" r="2.05" fill="none" stroke="#D95319" stroke-width="1.1"/><circle cx="491.59" cy="601.78" r="2.05" fill="none" stroke="#D95319" stroke-width="1.1"/><circle cx="497.51" cy="603.42" r="2.05" fill="none" stroke="#D95319" stroke-width="1.1"/><circle cx="503.11" cy="605.06" r="2.05" fill="none" stroke="#D95319" stroke-width="1.1"/><circle cx="508.50" cy="607.25" r="2.05" fill="none" stroke="#D95319" stroke-width="1.1"/><circle cx="513.48" cy="608.34" r="2.05" fill="none" stroke="#D95319" stroke-width="1.1"/><circle cx="518.36" cy="609.43" r="2.05" fill="none" stroke="#D95319" stroke-width="1.1"/>
<path d="M331.92 478.86 L333.59 482.16 L335.25 484.79 L336.91 486.03 L338.58 486.43 L340.24 486.65 L341.90 487.06 L343.57 487.70 L345.23 488.40 L346.89 489.11 L348.56 489.81 L350.22 490.46 L351.88 491.00 L353.55 491.50 L355.21 492.01 L356.87 492.61 L358.54 493.43 L360.20 494.51 L361.86 495.81 L363.53 497.23 L365.19 498.68 L366.86 500.27 L368.52 501.98 L370.18 503.86 L371.85 505.97 L373.51 508.29 L375.17 510.88 L376.84 513.41 L378.50 515.77 L380.16 518.08 L381.83 520.38" fill="none" stroke="#EDB120" stroke-width="1.50" stroke-linejoin="round"/>
<path d="M331.92,475.86 L332.66,477.84 L334.78,477.93 L333.12,479.25 L333.69,481.29 L331.92,480.12 L330.16,481.29 L330.72,479.25 L329.07,477.93 L331.18,477.84Z" fill="#EDB120" stroke="#EDB120" stroke-width="0.5"/><path d="M333.59,479.16 L334.33,481.14 L336.44,481.24 L334.78,482.55 L335.35,484.59 L333.59,483.42 L331.82,484.59 L332.39,482.55 L330.73,481.24 L332.85,481.14Z" fill="#EDB120" stroke="#EDB120" stroke-width="0.5"/><path d="M335.25,481.79 L335.99,483.77 L338.10,483.86 L336.45,485.17 L337.01,487.21 L335.25,486.05 L333.49,487.21 L334.05,485.17 L332.40,483.86 L334.51,483.77Z" fill="#EDB120" stroke="#EDB120" stroke-width="0.5"/><path d="M336.91,483.03 L337.65,485.01 L339.77,485.11 L338.11,486.42 L338.68,488.46 L336.91,487.29 L335.15,488.46 L335.71,486.42 L334.06,485.11 L336.17,485.01Z" fill="#EDB120" stroke="#EDB120" stroke-width="0.5"/><path d="M338.58,483.43 L339.32,485.41 L341.43,485.51 L339.77,486.82 L340.34,488.86 L338.58,487.69 L336.81,488.86 L337.38,486.82 L335.72,485.51 L337.84,485.41Z" fill="#EDB120" stroke="#EDB120" stroke-width="0.5"/><path d="M340.24,483.65 L340.98,485.63 L343.09,485.72 L341.44,487.04 L342.00,489.08 L340.24,487.91 L338.48,489.08 L339.04,487.04 L337.39,485.72 L339.50,485.63Z" fill="#EDB120" stroke="#EDB120" stroke-width="0.5"/><path d="M341.90,484.06 L342.64,486.04 L344.76,486.13 L343.10,487.45 L343.67,489.49 L341.90,488.32 L340.14,489.49 L340.70,487.45 L339.05,486.13 L341.16,486.04Z" fill="#EDB120" stroke="#EDB120" stroke-width="0.5"/><path d="M343.57,484.70 L344.31,486.68 L346.42,486.77 L344.77,488.09 L345.33,490.13 L343.57,488.96 L341.80,490.13 L342.37,488.09 L340.71,486.77 L342.83,486.68Z" fill="#EDB120" stroke="#EDB120" stroke-width="0.5"/><path d="M345.23,485.40 L345.97,487.38 L348.08,487.47 L346.43,488.79 L346.99,490.83 L345.23,489.66 L343.47,490.83 L344.03,488.79 L342.38,487.47 L344.49,487.38Z" fill="#EDB120" stroke="#EDB120" stroke-width="0.5"/><path d="M346.89,486.11 L347.63,488.10 L349.75,488.19 L348.09,489.50 L348.66,491.54 L346.89,490.37 L345.13,491.54 L345.70,489.50 L344.04,488.19 L346.15,488.10Z" fill="#EDB120" stroke="#EDB120" stroke-width="0.5"/><path d="M348.56,486.81 L349.30,488.79 L351.41,488.89 L349.76,490.20 L350.32,492.24 L348.56,491.07 L346.79,492.24 L347.36,490.20 L345.70,488.89 L347.82,488.79Z" fill="#EDB120" stroke="#EDB120" stroke-width="0.5"/><path d="M350.22,487.46 L350.96,489.44 L353.07,489.53 L351.42,490.85 L351.98,492.89 L350.22,491.72 L348.46,492.89 L349.02,490.85 L347.37,489.53 L349.48,489.44Z" fill="#EDB120" stroke="#EDB120" stroke-width="0.5"/><path d="M351.88,488.00 L352.62,489.98 L354.74,490.08 L353.08,491.39 L353.65,493.43 L351.88,492.26 L350.12,493.43 L350.69,491.39 L349.03,490.08 L351.14,489.98Z" fill="#EDB120" stroke="#EDB120" stroke-width="0.5"/><path d="M353.55,488.50 L354.29,490.48 L356.40,490.57 L354.75,491.89 L355.31,493.92 L353.55,492.76 L351.78,493.92 L352.35,491.89 L350.69,490.57 L352.81,490.48Z" fill="#EDB120" stroke="#EDB120" stroke-width="0.5"/><path d="M355.21,489.01 L355.95,490.99 L358.06,491.08 L356.41,492.39 L356.97,494.43 L355.21,493.27 L353.45,494.43 L354.01,492.39 L352.36,491.08 L354.47,490.99Z" fill="#EDB120" stroke="#EDB120" stroke-width="0.5"/><path d="M356.87,489.61 L357.61,491.59 L359.73,491.68 L358.07,493.00 L358.64,495.04 L356.87,493.87 L355.11,495.04 L355.68,493.00 L354.02,491.68 L356.13,491.59Z" fill="#EDB120" stroke="#EDB120" stroke-width="0.5"/><path d="M358.54,490.43 L359.28,492.41 L361.39,492.50 L359.74,493.82 L360.30,495.86 L358.54,494.69 L356.77,495.86 L357.34,493.82 L355.68,492.50 L357.80,492.41Z" fill="#EDB120" stroke="#EDB120" stroke-width="0.5"/><path d="M360.20,491.51 L360.94,493.49 L363.05,493.58 L361.40,494.90 L361.96,496.94 L360.20,495.77 L358.44,496.94 L359.00,494.90 L357.35,493.58 L359.46,493.49Z" fill="#EDB120" stroke="#EDB120" stroke-width="0.5"/><path d="M361.86,492.81 L362.61,494.79 L364.72,494.89 L363.06,496.20 L363.63,498.24 L361.86,497.07 L360.10,498.24 L360.67,496.20 L359.01,494.89 L361.12,494.79Z" fill="#EDB120" stroke="#EDB120" stroke-width="0.5"/><path d="M363.53,494.23 L364.27,496.21 L366.38,496.30 L364.73,497.61 L365.29,499.65 L363.53,498.49 L361.76,499.65 L362.33,497.61 L360.68,496.30 L362.79,496.21Z" fill="#EDB120" stroke="#EDB120" stroke-width="0.5"/><path d="M365.19,495.68 L365.93,497.66 L368.04,497.75 L366.39,499.07 L366.96,501.11 L365.19,499.94 L363.43,501.11 L363.99,499.07 L362.34,497.75 L364.45,497.66Z" fill="#EDB120" stroke="#EDB120" stroke-width="0.5"/><path d="M366.86,497.27 L367.60,499.25 L369.71,499.34 L368.05,500.66 L368.62,502.69 L366.86,501.53 L365.09,502.69 L365.66,500.66 L364.00,499.34 L366.11,499.25Z" fill="#EDB120" stroke="#EDB120" stroke-width="0.5"/><path d="M368.52,498.98 L369.26,500.97 L371.37,501.06 L369.72,502.37 L370.28,504.41 L368.52,503.24 L366.76,504.41 L367.32,502.37 L365.67,501.06 L367.78,500.97Z" fill="#EDB120" stroke="#EDB120" stroke-width="0.5"/><path d="M370.18,500.86 L370.92,502.84 L373.04,502.93 L371.38,504.25 L371.95,506.29 L370.18,505.12 L368.42,506.29 L368.98,504.25 L367.33,502.93 L369.44,502.84Z" fill="#EDB120" stroke="#EDB120" stroke-width="0.5"/><path d="M371.85,502.97 L372.59,504.95 L374.70,505.04 L373.04,506.36 L373.61,508.39 L371.85,507.23 L370.08,508.39 L370.65,506.36 L368.99,505.04 L371.10,504.95Z" fill="#EDB120" stroke="#EDB120" stroke-width="0.5"/><path d="M373.51,505.29 L374.25,507.27 L376.36,507.36 L374.71,508.68 L375.27,510.72 L373.51,509.55 L371.75,510.72 L372.31,508.68 L370.66,507.36 L372.77,507.27Z" fill="#EDB120" stroke="#EDB120" stroke-width="0.5"/><path d="M375.17,507.88 L375.91,509.86 L378.03,509.96 L376.37,511.27 L376.94,513.31 L375.17,512.14 L373.41,513.31 L373.97,511.27 L372.32,509.96 L374.43,509.86Z" fill="#EDB120" stroke="#EDB120" stroke-width="0.5"/><path d="M376.84,510.41 L377.58,512.39 L379.69,512.49 L378.03,513.80 L378.60,515.84 L376.84,514.67 L375.07,515.84 L375.64,513.80 L373.98,512.49 L376.10,512.39Z" fill="#EDB120" stroke="#EDB120" stroke-width="0.5"/><path d="M378.50,512.77 L379.24,514.75 L381.35,514.84 L379.70,516.16 L380.26,518.20 L378.50,517.03 L376.74,518.20 L377.30,516.16 L375.65,514.84 L377.76,514.75Z" fill="#EDB120" stroke="#EDB120" stroke-width="0.5"/><path d="M380.16,515.08 L380.90,517.06 L383.02,517.15 L381.36,518.47 L381.93,520.51 L380.16,519.34 L378.40,520.51 L378.96,518.47 L377.31,517.15 L379.42,517.06Z" fill="#EDB120" stroke="#EDB120" stroke-width="0.5"/><path d="M381.83,517.38 L382.57,519.36 L384.68,519.45 L383.02,520.77 L383.59,522.81 L381.83,521.64 L380.06,522.81 L380.63,520.77 L378.97,519.45 L381.09,519.36Z" fill="#EDB120" stroke="#EDB120" stroke-width="0.5"/>
<path d="M335.87 473.39 L340.61 499.71 L345.35 512.79 L350.10 521.73 L354.84 527.57 L359.58 532.20 L364.33 535.39 L369.07 538.03 L373.82 540.56 L378.56 542.97 L383.30 544.97 L388.05 546.73 L392.79 548.42 L397.54 550.02 L402.28 551.64 L407.02 553.27 L411.77 554.91 L416.51 556.56 L421.25 558.24 L426.00 559.87 L430.74 561.13 L435.49 562.22 L440.23 563.72 L444.97 565.44 L449.72 567.28 L454.46 569.22 L459.21 571.16 L463.95 573.14 L468.69 575.16 L473.44 577.20" fill="none" stroke="#7E2F8E" stroke-width="1.50" stroke-linejoin="round"/>
<circle cx="335.87" cy="473.39" r="2.00" fill="#7E2F8E"/><circle cx="340.61" cy="499.71" r="2.00" fill="#7E2F8E"/><circle cx="345.35" cy="512.79" r="2.00" fill="#7E2F8E"/><circle cx="350.10" cy="521.73" r="2.00" fill="#7E2F8E"/><circle cx="354.84" cy="527.57" r="2.00" fill="#7E2F8E"/><circle cx="359.58" cy="532.20" r="2.00" fill="#7E2F8E"/><circle cx="364.33" cy="535.39" r="2.00" fill="#7E2F8E"/><circle cx="369.07" cy="538.03" r="2.00" fill="#7E2F8E"/><circle cx="373.82" cy="540.56" r="2.00" fill="#7E2F8E"/><circle cx="378.56" cy="542.97" r="2.00" fill="#7E2F8E"/><circle cx="383.30" cy="544.97" r="2.00" fill="#7E2F8E"/><circle cx="388.05" cy="546.73" r="2.00" fill="#7E2F8E"/><circle cx="392.79" cy="548.42" r="2.00" fill="#7E2F8E"/><circle cx="397.54" cy="550.02" r="2.00" fill="#7E2F8E"/><circle cx="402.28" cy="551.64" r="2.00" fill="#7E2F8E"/><circle cx="407.02" cy="553.27" r="2.00" fill="#7E2F8E"/><circle cx="411.77" cy="554.91" r="2.00" fill="#7E2F8E"/><circle cx="416.51" cy="556.56" r="2.00" fill="#7E2F8E"/><circle cx="421.25" cy="558.24" r="2.00" fill="#7E2F8E"/><circle cx="426.00" cy="559.87" r="2.00" fill="#7E2F8E"/><circle cx="430.74" cy="561.13" r="2.00" fill="#7E2F8E"/><circle cx="435.49" cy="562.22" r="2.00" fill="#7E2F8E"/><circle cx="440.23" cy="563.72" r="2.00" fill="#7E2F8E"/><circle cx="444.97" cy="565.44" r="2.00" fill="#7E2F8E"/><circle cx="449.72" cy="567.28" r="2.00" fill="#7E2F8E"/><circle cx="454.46" cy="569.22" r="2.00" fill="#7E2F8E"/><circle cx="459.21" cy="571.16" r="2.00" fill="#7E2F8E"/><circle cx="463.95" cy="573.14" r="2.00" fill="#7E2F8E"/><circle cx="468.69" cy="575.16" r="2.00" fill="#7E2F8E"/><circle cx="473.44" cy="577.20" r="2.00" fill="#7E2F8E"/>
</g>
<rect x="331.30" y="465.20" width="207.50" height="163.90" fill="none" stroke="#808080" stroke-width="1.00"/>
<text x="331.30" y="638.50" font-size="6.40" text-anchor="middle" fill="#444">0</text>
<text x="352.05" y="638.50" font-size="6.40" text-anchor="middle" fill="#444">2</text>
<text x="372.80" y="638.50" font-size="6.40" text-anchor="middle" fill="#444">4</text>
<text x="393.55" y="638.50" font-size="6.40" text-anchor="middle" fill="#444">6</text>
<text x="414.30" y="638.50" font-size="6.40" text-anchor="middle" fill="#444">8</text>
<text x="435.05" y="638.50" font-size="6.40" text-anchor="middle" fill="#444">10</text>
<text x="455.80" y="638.50" font-size="6.40" text-anchor="middle" fill="#444">12</text>
<text x="476.55" y="638.50" font-size="6.40" text-anchor="middle" fill="#444">14</text>
<text x="497.30" y="638.50" font-size="6.40" text-anchor="middle" fill="#444">16</text>
<text x="518.05" y="638.50" font-size="6.40" text-anchor="middle" fill="#444">18</text>
<text x="538.80" y="638.50" font-size="6.40" text-anchor="middle" fill="#444">20</text>
<text x="328.30" y="632.30" font-size="6.40" text-anchor="end" fill="#444">0</text>
<text x="328.30" y="604.98" font-size="6.40" text-anchor="end" fill="#444">0.05</text>
<text x="328.30" y="577.67" font-size="6.40" text-anchor="end" fill="#444">0.1</text>
<text x="328.30" y="550.35" font-size="6.40" text-anchor="end" fill="#444">0.15</text>
<text x="328.30" y="523.03" font-size="6.40" text-anchor="end" fill="#444">0.2</text>
<text x="328.30" y="495.72" font-size="6.40" text-anchor="end" fill="#444">0.25</text>
<text x="328.30" y="468.40" font-size="6.40" text-anchor="end" fill="#444">0.3</text>
<path d="M331.30 629.10V627.10M331.30 465.20V467.20M352.05 629.10V627.10M352.05 465.20V467.20M372.80 629.10V627.10M372.80 465.20V467.20M393.55 629.10V627.10M393.55 465.20V467.20M414.30 629.10V627.10M414.30 465.20V467.20M435.05 629.10V627.10M435.05 465.20V467.20M455.80 629.10V627.10M455.80 465.20V467.20M476.55 629.10V627.10M476.55 465.20V467.20M497.30 629.10V627.10M497.30 465.20V467.20M518.05 629.10V627.10M518.05 465.20V467.20M538.80 629.10V627.10M538.80 465.20V467.20M331.30 629.10H333.30M538.80 629.10H536.80M331.30 601.78H333.30M538.80 601.78H536.80M331.30 574.47H333.30M538.80 574.47H536.80M331.30 547.15H333.30M538.80 547.15H536.80M331.30 519.83H333.30M538.80 519.83H536.80M331.30 492.52H333.30M538.80 492.52H536.80M331.30 465.20H333.30M538.80 465.20H536.80" stroke="#808080" stroke-width="1.00"/>
<text x="435.05" y="462.00" font-size="7.25" text-anchor="middle" fill="#111">Relative residual</text>
<text x="434.05" y="647.50" font-size="7.00" text-anchor="middle" fill="#333">time(second)</text>
<text transform="translate(310.34 547.15) rotate(-90)" font-size="7.50" text-anchor="middle" fill="#222" stroke="#444" stroke-width="0.15">||WH - V||<tspan font-size="5" dy="2.3">F</tspan><tspan dy="-2.3">/||V||</tspan><tspan font-size="5" dy="2.3">F</tspan></text>
<rect x="492.00" y="471.20" width="40.40" height="33.00" fill="#fff" stroke="#888" stroke-width="0.8"/>
<path d="M494.40 475.80H508.00" stroke="#0072BD" stroke-width="1.50"/>
<path d="M501.20 473.10L503.00 475.80L501.20 478.50L499.40 475.80Z" fill="#0072BD" fill-opacity="0.45" stroke="#0072BD" stroke-width="1.15"/>
<text transform="translate(510.40 478.70) scale(1 1.15)" font-size="5.55" fill="#1a1a1a">NMPBB</text>
<path d="M494.40 483.75H508.00" stroke="#D95319" stroke-width="1.50"/>
<circle cx="501.20" cy="483.75" r="2.05" fill="none" stroke="#D95319" stroke-width="1.1"/>
<text transform="translate(510.40 486.65) scale(1 1.15)" font-size="5.55" fill="#1a1a1a">QRPBB</text>
<path d="M494.40 491.70H508.00" stroke="#EDB120" stroke-width="1.50"/>
<path d="M501.20,488.70 L501.94,490.68 L504.05,490.77 L502.40,492.09 L502.96,494.13 L501.20,492.96 L499.44,494.13 L500.00,492.09 L498.35,490.77 L500.46,490.68Z" fill="#EDB120" stroke="#EDB120" stroke-width="0.5"/>
<text transform="translate(510.40 494.60) scale(1 1.15)" font-size="5.55" fill="#1a1a1a">BCD</text>
<path d="M494.40 499.65H508.00" stroke="#7E2F8E" stroke-width="1.50"/>
<circle cx="501.20" cy="499.65" r="2.00" fill="#7E2F8E"/>
<text transform="translate(510.40 502.55) scale(1 1.15)" font-size="5.55" fill="#1a1a1a">HALS</text>
<text x="429.05" y="659.70" font-family="Liberation Serif, serif" font-size="11.00" text-anchor="middle" letter-spacing="0.2" fill="#111"><tspan font-weight="bold">(f)</tspan> (m n r) = (10,000 2000 60)</text>
<g>
<path d="M43.70 702.22 L53.05 763.96 L62.45 778.71 L70.03 786.35 L78.02 792.36 L85.40 798.37 L92.41 806.02 L99.99 813.67 L107.57 819.13 L114.58 825.69 L120.97 831.15 L127.35 834.98 L133.07 836.62 L138.36 837.16 L142.93 837.71 L147.71 838.26 L151.24 838.26 L159.24 838.80 L166.09 838.80 L173.20 838.80 L178.97 839.35 L184.26 839.35 L188.88 839.35 L192.99 839.35 L197.14 839.35 L201.35 839.35 L206.54 839.35 L214.54 839.35 L222.84 839.35 L230.63 839.35" fill="none" stroke="#0072BD" stroke-width="1.50" stroke-linejoin="round"/>
<path d="M43.70 699.52L45.50 702.22L43.70 704.92L41.90 702.22Z" fill="#0072BD" fill-opacity="0.45" stroke="#0072BD" stroke-width="1.15"/><path d="M53.05 761.25L54.85 763.96L53.05 766.66L51.25 763.96Z" fill="#0072BD" fill-opacity="0.45" stroke="#0072BD" stroke-width="1.15"/><path d="M62.45 776.01L64.25 778.71L62.45 781.41L60.65 778.71Z" fill="#0072BD" fill-opacity="0.45" stroke="#0072BD" stroke-width="1.15"/><path d="M70.03 783.65L71.83 786.35L70.03 789.05L68.23 786.35Z" fill="#0072BD" fill-opacity="0.45" stroke="#0072BD" stroke-width="1.15"/><path d="M78.02 789.66L79.82 792.36L78.02 795.06L76.22 792.36Z" fill="#0072BD" fill-opacity="0.45" stroke="#0072BD" stroke-width="1.15"/><path d="M85.40 795.67L87.20 798.37L85.40 801.07L83.60 798.37Z" fill="#0072BD" fill-opacity="0.45" stroke="#0072BD" stroke-width="1.15"/><path d="M92.41 803.32L94.21 806.02L92.41 808.72L90.61 806.02Z" fill="#0072BD" fill-opacity="0.45" stroke="#0072BD" stroke-width="1.15"/><path d="M99.99 810.97L101.79 813.67L99.99 816.37L98.19 813.67Z" fill="#0072BD" fill-opacity="0.45" stroke="#0072BD" stroke-width="1.15"/><path d="M107.57 816.43L109.37 819.13L107.57 821.83L105.77 819.13Z" fill="#0072BD" fill-opacity="0.45" stroke="#0072BD" stroke-width="1.15"/><path d="M114.58 822.99L116.38 825.69L114.58 828.39L112.78 825.69Z" fill="#0072BD" fill-opacity="0.45" stroke="#0072BD" stroke-width="1.15"/><path d="M120.97 828.45L122.77 831.15L120.97 833.85L119.17 831.15Z" fill="#0072BD" fill-opacity="0.45" stroke="#0072BD" stroke-width="1.15"/><path d="M127.35 832.28L129.15 834.98L127.35 837.68L125.55 834.98Z" fill="#0072BD" fill-opacity="0.45" stroke="#0072BD" stroke-width="1.15"/><path d="M133.07 833.92L134.87 836.62L133.07 839.32L131.27 836.62Z" fill="#0072BD" fill-opacity="0.45" stroke="#0072BD" stroke-width="1.15"/><path d="M138.36 834.46L140.16 837.16L138.36 839.86L136.56 837.16Z" fill="#0072BD" fill-opacity="0.45" stroke="#0072BD" stroke-width="1.15"/><path d="M142.93 835.01L144.73 837.71L142.93 840.41L141.13 837.71Z" fill="#0072BD" fill-opacity="0.45" stroke="#0072BD" stroke-width="1.15"/><path d="M147.71 835.56L149.51 838.26L147.71 840.96L145.91 838.26Z" fill="#0072BD" fill-opacity="0.45" stroke="#0072BD" stroke-width="1.15"/><path d="M151.24 835.56L153.04 838.26L151.24 840.96L149.44 838.26Z" fill="#0072BD" fill-opacity="0.45" stroke="#0072BD" stroke-width="1.15"/><path d="M159.24 836.10L161.04 838.80L159.24 841.50L157.44 838.80Z" fill="#0072BD" fill-opacity="0.45" stroke="#0072BD" stroke-width="1.15"/><path d="M166.09 836.10L167.89 838.80L166.09 841.50L164.29 838.80Z" fill="#0072BD" fill-opacity="0.45" stroke="#0072BD" stroke-width="1.15"/><path d="M173.20 836.10L175.00 838.80L173.20 841.50L171.40 838.80Z" fill="#0072BD" fill-opacity="0.45" stroke="#0072BD" stroke-width="1.15"/><path d="M178.97 836.65L180.77 839.35L178.97 842.05L177.17 839.35Z" fill="#0072BD" fill-opacity="0.45" stroke="#0072BD" stroke-width="1.15"/><path d="M184.26 836.65L186.06 839.35L184.26 842.05L182.46 839.35Z" fill="#0072BD" fill-opacity="0.45" stroke="#0072BD" stroke-width="1.15"/><path d="M188.88 836.65L190.68 839.35L188.88 842.05L187.08 839.35Z" fill="#0072BD" fill-opacity="0.45" stroke="#0072BD" stroke-width="1.15"/><path d="M192.99 836.65L194.79 839.35L192.99 842.05L191.19 839.35Z" fill="#0072BD" fill-opacity="0.45" stroke="#0072BD" stroke-width="1.15"/><path d="M197.14 836.65L198.94 839.35L197.14 842.05L195.34 839.35Z" fill="#0072BD" fill-opacity="0.45" stroke="#0072BD" stroke-width="1.15"/><path d="M201.35 836.65L203.15 839.35L201.35 842.05L199.55 839.35Z" fill="#0072BD" fill-opacity="0.45" stroke="#0072BD" stroke-width="1.15"/><path d="M206.54 836.65L208.34 839.35L206.54 842.05L204.74 839.35Z" fill="#0072BD" fill-opacity="0.45" stroke="#0072BD" stroke-width="1.15"/><path d="M214.54 836.65L216.34 839.35L214.54 842.05L212.74 839.35Z" fill="#0072BD" fill-opacity="0.45" stroke="#0072BD" stroke-width="1.15"/><path d="M222.84 836.65L224.64 839.35L222.84 842.05L221.04 839.35Z" fill="#0072BD" fill-opacity="0.45" stroke="#0072BD" stroke-width="1.15"/><path d="M230.63 836.65L232.43 839.35L230.63 842.05L228.83 839.35Z" fill="#0072BD" fill-opacity="0.45" stroke="#0072BD" stroke-width="1.15"/>
<path d="M43.08 751.94 L50.45 771.06 L58.45 778.16 L65.46 781.98 L72.42 784.72 L80.05 785.81 L87.63 786.90 L94.59 788.54 L101.60 790.73 L108.61 792.36 L115.98 794.00 L122.99 796.74 L129.95 798.92 L137.27 801.11 L143.92 803.84 L150.82 806.02 L157.11 807.66 L163.39 808.75 L169.62 810.39 L175.49 811.49 L181.46 813.12 L187.79 814.76 L194.03 815.86 L200.36 816.95 L206.12 818.04 L212.46 819.68 L218.22 820.77 L223.93 821.32 L229.70 822.41 L235.98 824.05" fill="none" stroke="#D95319" stroke-width="1.50" stroke-linejoin="round"/>
<circle cx="43.08" cy="751.94" r="2.05" fill="none" stroke="#D95319" stroke-width="1.1"/><circle cx="50.45" cy="771.06" r="2.05" fill="none" stroke="#D95319" stroke-width="1.1"/><circle cx="58.45" cy="778.16" r="2.05" fill="none" stroke="#D95319" stroke-width="1.1"/><circle cx="65.46" cy="781.98" r="2.05" fill="none" stroke="#D95319" stroke-width="1.1"/><circle cx="72.42" cy="784.72" r="2.05" fill="none" stroke="#D95319" stroke-width="1.1"/><circle cx="80.05" cy="785.81" r="2.05" fill="none" stroke="#D95319" stroke-width="1.1"/><circle cx="87.63" cy="786.90" r="2.05" fill="none" stroke="#D95319" stroke-width="1.1"/><circle cx="94.59" cy="788.54" r="2.05" fill="none" stroke="#D95319" stroke-width="1.1"/><circle cx="101.60" cy="790.73" r="2.05" fill="none" stroke="#D95319" stroke-width="1.1"/><circle cx="108.61" cy="792.36" r="2.05" fill="none" stroke="#D95319" stroke-width="1.1"/><circle cx="115.98" cy="794.00" r="2.05" fill="none" stroke="#D95319" stroke-width="1.1"/><circle cx="122.99" cy="796.74" r="2.05" fill="none" stroke="#D95319" stroke-width="1.1"/><circle cx="129.95" cy="798.92" r="2.05" fill="none" stroke="#D95319" stroke-width="1.1"/><circle cx="137.27" cy="801.11" r="2.05" fill="none" stroke="#D95319" stroke-width="1.1"/><circle cx="143.92" cy="803.84" r="2.05" fill="none" stroke="#D95319" stroke-width="1.1"/><circle cx="150.82" cy="806.02" r="2.05" fill="none" stroke="#D95319" stroke-width="1.1"/><circle cx="157.11" cy="807.66" r="2.05" fill="none" stroke="#D95319" stroke-width="1.1"/><circle cx="163.39" cy="808.75" r="2.05" fill="none" stroke="#D95319" stroke-width="1.1"/><circle cx="169.62" cy="810.39" r="2.05" fill="none" stroke="#D95319" stroke-width="1.1"/><circle cx="175.49" cy="811.49" r="2.05" fill="none" stroke="#D95319" stroke-width="1.1"/><circle cx="181.46" cy="813.12" r="2.05" fill="none" stroke="#D95319" stroke-width="1.1"/><circle cx="187.79" cy="814.76" r="2.05" fill="none" stroke="#D95319" stroke-width="1.1"/><circle cx="194.03" cy="815.86" r="2.05" fill="none" stroke="#D95319" stroke-width="1.1"/><circle cx="200.36" cy="816.95" r="2.05" fill="none" stroke="#D95319" stroke-width="1.1"/><circle cx="206.12" cy="818.04" r="2.05" fill="none" stroke="#D95319" stroke-width="1.1"/><circle cx="212.46" cy="819.68" r="2.05" fill="none" stroke="#D95319" stroke-width="1.1"/><circle cx="218.22" cy="820.77" r="2.05" fill="none" stroke="#D95319" stroke-width="1.1"/><circle cx="223.93" cy="821.32" r="2.05" fill="none" stroke="#D95319" stroke-width="1.1"/><circle cx="229.70" cy="822.41" r="2.05" fill="none" stroke="#D95319" stroke-width="1.1"/><circle cx="235.98" cy="824.05" r="2.05" fill="none" stroke="#D95319" stroke-width="1.1"/>
<path d="M33.11 713.15 L35.33 715.72 L37.56 717.70 L39.78 719.02 L42.00 720.11 L44.22 721.07 L46.45 721.91 L48.67 722.60 L50.89 723.08 L53.11 723.39 L55.34 723.66 L57.56 723.98 L59.78 724.41 L62.01 724.89 L64.23 725.39 L66.45 725.90 L68.67 726.39 L70.90 726.86 L73.12 727.33 L75.34 727.82 L77.56 728.33 L79.79 728.88 L82.01 729.45 L84.23 730.04 L86.46 730.68 L88.68 731.41 L90.90 732.20 L93.12 733.08 L95.35 734.11 L97.57 735.43 L99.79 737.07 L102.01 738.82" fill="none" stroke="#EDB120" stroke-width="1.50" stroke-linejoin="round"/>
<path d="M33.11,710.15 L33.85,712.13 L35.96,712.22 L34.31,713.54 L34.87,715.57 L33.11,714.41 L31.35,715.57 L31.91,713.54 L30.26,712.22 L32.37,712.13Z" fill="#EDB120" stroke="#EDB120" stroke-width="0.5"/><path d="M35.33,712.72 L36.07,714.70 L38.19,714.79 L36.53,716.11 L37.10,718.15 L35.33,716.98 L33.57,718.15 L34.13,716.11 L32.48,714.79 L34.59,714.70Z" fill="#EDB120" stroke="#EDB120" stroke-width="0.5"/><path d="M37.56,714.70 L38.30,716.68 L40.41,716.77 L38.75,718.09 L39.32,720.13 L37.56,718.96 L35.79,720.13 L36.36,718.09 L34.70,716.77 L36.81,716.68Z" fill="#EDB120" stroke="#EDB120" stroke-width="0.5"/><path d="M39.78,716.02 L40.52,718.00 L42.63,718.09 L40.98,719.41 L41.54,721.45 L39.78,720.28 L38.01,721.45 L38.58,719.41 L36.92,718.09 L39.04,718.00Z" fill="#EDB120" stroke="#EDB120" stroke-width="0.5"/><path d="M42.00,717.11 L42.74,719.09 L44.85,719.18 L43.20,720.50 L43.76,722.54 L42.00,721.37 L40.24,722.54 L40.80,720.50 L39.15,719.18 L41.26,719.09Z" fill="#EDB120" stroke="#EDB120" stroke-width="0.5"/><path d="M44.22,718.07 L44.96,720.05 L47.08,720.14 L45.42,721.46 L45.99,723.49 L44.22,722.33 L42.46,723.49 L43.02,721.46 L41.37,720.14 L43.48,720.05Z" fill="#EDB120" stroke="#EDB120" stroke-width="0.5"/><path d="M46.45,718.91 L47.19,720.89 L49.30,720.98 L47.64,722.30 L48.21,724.33 L46.45,723.17 L44.68,724.33 L45.25,722.30 L43.59,720.98 L45.71,720.89Z" fill="#EDB120" stroke="#EDB120" stroke-width="0.5"/><path d="M48.67,719.60 L49.41,721.58 L51.52,721.68 L49.87,722.99 L50.43,725.03 L48.67,723.86 L46.91,725.03 L47.47,722.99 L45.82,721.68 L47.93,721.58Z" fill="#EDB120" stroke="#EDB120" stroke-width="0.5"/><path d="M50.89,720.08 L51.63,722.06 L53.74,722.15 L52.09,723.47 L52.65,725.51 L50.89,724.34 L49.13,725.51 L49.69,723.47 L48.04,722.15 L50.15,722.06Z" fill="#EDB120" stroke="#EDB120" stroke-width="0.5"/><path d="M53.11,720.39 L53.85,722.38 L55.97,722.47 L54.31,723.78 L54.88,725.82 L53.11,724.65 L51.35,725.82 L51.92,723.78 L50.26,722.47 L52.37,722.38Z" fill="#EDB120" stroke="#EDB120" stroke-width="0.5"/><path d="M55.34,720.66 L56.08,722.64 L58.19,722.73 L56.54,724.05 L57.10,726.09 L55.34,724.92 L53.57,726.09 L54.14,724.05 L52.48,722.73 L54.60,722.64Z" fill="#EDB120" stroke="#EDB120" stroke-width="0.5"/><path d="M57.56,720.98 L58.30,722.96 L60.41,723.05 L58.76,724.37 L59.32,726.40 L57.56,725.24 L55.80,726.40 L56.36,724.37 L54.71,723.05 L56.82,722.96Z" fill="#EDB120" stroke="#EDB120" stroke-width="0.5"/><path d="M59.78,721.41 L60.52,723.39 L62.64,723.49 L60.98,724.80 L61.55,726.84 L59.78,725.67 L58.02,726.84 L58.58,724.80 L56.93,723.49 L59.04,723.39Z" fill="#EDB120" stroke="#EDB120" stroke-width="0.5"/><path d="M62.01,721.89 L62.75,723.87 L64.86,723.96 L63.20,725.28 L63.77,727.32 L62.01,726.15 L60.24,727.32 L60.81,725.28 L59.15,723.96 L61.26,723.87Z" fill="#EDB120" stroke="#EDB120" stroke-width="0.5"/><path d="M64.23,722.39 L64.97,724.37 L67.08,724.47 L65.43,725.78 L65.99,727.82 L64.23,726.65 L62.46,727.82 L63.03,725.78 L61.37,724.47 L63.49,724.37Z" fill="#EDB120" stroke="#EDB120" stroke-width="0.5"/><path d="M66.45,722.90 L67.19,724.88 L69.30,724.97 L67.65,726.29 L68.21,728.33 L66.45,727.16 L64.69,728.33 L65.25,726.29 L63.60,724.97 L65.71,724.88Z" fill="#EDB120" stroke="#EDB120" stroke-width="0.5"/><path d="M68.67,723.39 L69.41,725.37 L71.53,725.47 L69.87,726.78 L70.44,728.82 L68.67,727.65 L66.91,728.82 L67.47,726.78 L65.82,725.47 L67.93,725.37Z" fill="#EDB120" stroke="#EDB120" stroke-width="0.5"/><path d="M70.90,723.86 L71.64,725.85 L73.75,725.94 L72.09,727.25 L72.66,729.29 L70.90,728.12 L69.13,729.29 L69.70,727.25 L68.04,725.94 L70.16,725.85Z" fill="#EDB120" stroke="#EDB120" stroke-width="0.5"/><path d="M73.12,724.33 L73.86,726.31 L75.97,726.41 L74.32,727.72 L74.88,729.76 L73.12,728.59 L71.36,729.76 L71.92,727.72 L70.27,726.41 L72.38,726.31Z" fill="#EDB120" stroke="#EDB120" stroke-width="0.5"/><path d="M75.34,724.82 L76.08,726.80 L78.19,726.89 L76.54,728.21 L77.10,730.24 L75.34,729.08 L73.58,730.24 L74.14,728.21 L72.49,726.89 L74.60,726.80Z" fill="#EDB120" stroke="#EDB120" stroke-width="0.5"/><path d="M77.56,725.33 L78.30,727.31 L80.42,727.40 L78.76,728.72 L79.33,730.76 L77.56,729.59 L75.80,730.76 L76.37,728.72 L74.71,727.40 L76.82,727.31Z" fill="#EDB120" stroke="#EDB120" stroke-width="0.5"/><path d="M79.79,725.88 L80.53,727.86 L82.64,727.95 L80.99,729.27 L81.55,731.31 L79.79,730.14 L78.02,731.31 L78.59,729.27 L76.93,727.95 L79.05,727.86Z" fill="#EDB120" stroke="#EDB120" stroke-width="0.5"/><path d="M82.01,726.45 L82.75,728.43 L84.86,728.52 L83.21,729.83 L83.77,731.87 L82.01,730.71 L80.25,731.87 L80.81,729.83 L79.16,728.52 L81.27,728.43Z" fill="#EDB120" stroke="#EDB120" stroke-width="0.5"/><path d="M84.23,727.04 L84.97,729.02 L87.09,729.11 L85.43,730.43 L86.00,732.47 L84.23,731.30 L82.47,732.47 L83.03,730.43 L81.38,729.11 L83.49,729.02Z" fill="#EDB120" stroke="#EDB120" stroke-width="0.5"/><path d="M86.46,727.68 L87.20,729.67 L89.31,729.76 L87.65,731.07 L88.22,733.11 L86.46,731.94 L84.69,733.11 L85.26,731.07 L83.60,729.76 L85.71,729.67Z" fill="#EDB120" stroke="#EDB120" stroke-width="0.5"/><path d="M88.68,728.41 L89.42,730.39 L91.53,730.48 L89.88,731.80 L90.44,733.83 L88.68,732.67 L86.91,733.83 L87.48,731.80 L85.82,730.48 L87.94,730.39Z" fill="#EDB120" stroke="#EDB120" stroke-width="0.5"/><path d="M90.90,729.20 L91.64,731.18 L93.75,731.27 L92.10,732.58 L92.66,734.62 L90.90,733.46 L89.14,734.62 L89.70,732.58 L88.05,731.27 L90.16,731.18Z" fill="#EDB120" stroke="#EDB120" stroke-width="0.5"/><path d="M93.12,730.08 L93.86,732.06 L95.98,732.15 L94.32,733.47 L94.89,735.50 L93.12,734.34 L91.36,735.50 L91.92,733.47 L90.27,732.15 L92.38,732.06Z" fill="#EDB120" stroke="#EDB120" stroke-width="0.5"/><path d="M95.35,731.11 L96.09,733.09 L98.20,733.19 L96.54,734.50 L97.11,736.54 L95.35,735.37 L93.58,736.54 L94.15,734.50 L92.49,733.19 L94.61,733.09Z" fill="#EDB120" stroke="#EDB120" stroke-width="0.5"/><path d="M97.57,732.43 L98.31,734.41 L100.42,734.50 L98.77,735.82 L99.33,737.86 L97.57,736.69 L95.81,737.86 L96.37,735.82 L94.72,734.50 L96.83,734.41Z" fill="#EDB120" stroke="#EDB120" stroke-width="0.5"/><path d="M99.79,734.07 L100.53,736.05 L102.64,736.14 L100.99,737.46 L101.55,739.50 L99.79,738.33 L98.03,739.50 L98.59,737.46 L96.94,736.14 L99.05,736.05Z" fill="#EDB120" stroke="#EDB120" stroke-width="0.5"/><path d="M102.01,735.82 L102.75,737.80 L104.87,737.90 L103.21,739.21 L103.78,741.25 L102.01,740.08 L100.25,741.25 L100.82,739.21 L99.16,737.90 L101.27,737.80Z" fill="#EDB120" stroke="#EDB120" stroke-width="0.5"/>
<path d="M39.08 704.40 L44.70 725.94 L50.31 739.58 L55.93 748.80 L61.55 754.99 L67.17 759.06 L72.78 761.86 L78.40 765.25 L84.02 768.08 L89.63 770.19 L95.25 772.04 L100.87 773.48 L106.48 774.76 L112.10 776.16 L117.72 777.56 L123.33 778.88 L128.95 780.20 L134.57 781.67 L140.18 783.14 L145.80 784.55 L151.42 785.80 L157.03 786.59 L162.65 787.43 L168.27 788.96 L173.89 790.64 L179.50 792.06 L185.12 793.41 L190.74 794.78 L196.35 796.19 L201.97 797.83" fill="none" stroke="#7E2F8E" stroke-width="1.50" stroke-linejoin="round"/>
<circle cx="39.08" cy="704.40" r="2.00" fill="#7E2F8E"/><circle cx="44.70" cy="725.94" r="2.00" fill="#7E2F8E"/><circle cx="50.31" cy="739.58" r="2.00" fill="#7E2F8E"/><circle cx="55.93" cy="748.80" r="2.00" fill="#7E2F8E"/><circle cx="61.55" cy="754.99" r="2.00" fill="#7E2F8E"/><circle cx="67.17" cy="759.06" r="2.00" fill="#7E2F8E"/><circle cx="72.78" cy="761.86" r="2.00" fill="#7E2F8E"/><circle cx="78.40" cy="765.25" r="2.00" fill="#7E2F8E"/><circle cx="84.02" cy="768.08" r="2.00" fill="#7E2F8E"/><circle cx="89.63" cy="770.19" r="2.00" fill="#7E2F8E"/><circle cx="95.25" cy="772.04" r="2.00" fill="#7E2F8E"/><circle cx="100.87" cy="773.48" r="2.00" fill="#7E2F8E"/><circle cx="106.48" cy="774.76" r="2.00" fill="#7E2F8E"/><circle cx="112.10" cy="776.16" r="2.00" fill="#7E2F8E"/><circle cx="117.72" cy="777.56" r="2.00" fill="#7E2F8E"/><circle cx="123.33" cy="778.88" r="2.00" fill="#7E2F8E"/><circle cx="128.95" cy="780.20" r="2.00" fill="#7E2F8E"/><circle cx="134.57" cy="781.67" r="2.00" fill="#7E2F8E"/><circle cx="140.18" cy="783.14" r="2.00" fill="#7E2F8E"/><circle cx="145.80" cy="784.55" r="2.00" fill="#7E2F8E"/><circle cx="151.42" cy="785.80" r="2.00" fill="#7E2F8E"/><circle cx="157.03" cy="786.59" r="2.00" fill="#7E2F8E"/><circle cx="162.65" cy="787.43" r="2.00" fill="#7E2F8E"/><circle cx="168.27" cy="788.96" r="2.00" fill="#7E2F8E"/><circle cx="173.89" cy="790.64" r="2.00" fill="#7E2F8E"/><circle cx="179.50" cy="792.06" r="2.00" fill="#7E2F8E"/><circle cx="185.12" cy="793.41" r="2.00" fill="#7E2F8E"/><circle cx="190.74" cy="794.78" r="2.00" fill="#7E2F8E"/><circle cx="196.35" cy="796.19" r="2.00" fill="#7E2F8E"/><circle cx="201.97" cy="797.83" r="2.00" fill="#7E2F8E"/>
</g>
<rect x="31.50" y="690.20" width="207.70" height="163.90" fill="none" stroke="#808080" stroke-width="1.00"/>
<text x="31.50" y="863.50" font-size="6.40" text-anchor="middle" fill="#444">0</text>
<text x="57.46" y="863.50" font-size="6.40" text-anchor="middle" fill="#444">5</text>
<text x="83.42" y="863.50" font-size="6.40" text-anchor="middle" fill="#444">10</text>
<text x="109.39" y="863.50" font-size="6.40" text-anchor="middle" fill="#444">15</text>
<text x="135.35" y="863.50" font-size="6.40" text-anchor="middle" fill="#444">20</text>
<text x="161.31" y="863.50" font-size="6.40" text-anchor="middle" fill="#444">25</text>
<text x="187.27" y="863.50" font-size="6.40" text-anchor="middle" fill="#444">30</text>
<text x="213.24" y="863.50" font-size="6.40" text-anchor="middle" fill="#444">35</text>
<text x="239.20" y="863.50" font-size="6.40" text-anchor="middle" fill="#444">40</text>
<text x="28.50" y="857.30" font-size="6.40" text-anchor="end" fill="#444">0</text>
<text x="28.50" y="829.98" font-size="6.40" text-anchor="end" fill="#444">0.05</text>
<text x="28.50" y="802.67" font-size="6.40" text-anchor="end" fill="#444">0.1</text>
<text x="28.50" y="775.35" font-size="6.40" text-anchor="end" fill="#444">0.15</text>
<text x="28.50" y="748.03" font-size="6.40" text-anchor="end" fill="#444">0.2</text>
<text x="28.50" y="720.72" font-size="6.40" text-anchor="end" fill="#444">0.25</text>
<text x="28.50" y="693.40" font-size="6.40" text-anchor="end" fill="#444">0.3</text>
<path d="M31.50 854.10V852.10M31.50 690.20V692.20M57.46 854.10V852.10M57.46 690.20V692.20M83.42 854.10V852.10M83.42 690.20V692.20M109.39 854.10V852.10M109.39 690.20V692.20M135.35 854.10V852.10M135.35 690.20V692.20M161.31 854.10V852.10M161.31 690.20V692.20M187.27 854.10V852.10M187.27 690.20V692.20M213.24 854.10V852.10M213.24 690.20V692.20M239.20 854.10V852.10M239.20 690.20V692.20M31.50 854.10H33.50M239.20 854.10H237.20M31.50 826.78H33.50M239.20 826.78H237.20M31.50 799.47H33.50M239.20 799.47H237.20M31.50 772.15H33.50M239.20 772.15H237.20M31.50 744.83H33.50M239.20 744.83H237.20M31.50 717.52H33.50M239.20 717.52H237.20M31.50 690.20H33.50M239.20 690.20H237.20" stroke="#808080" stroke-width="1.00"/>
<text x="135.35" y="687.00" font-size="7.25" text-anchor="middle" fill="#111">Relative residual</text>
<text x="134.35" y="872.50" font-size="7.00" text-anchor="middle" fill="#333">time(second)</text>
<text transform="translate(10.54 772.15) rotate(-90)" font-size="7.50" text-anchor="middle" fill="#222" stroke="#444" stroke-width="0.15">||WH - V||<tspan font-size="5" dy="2.3">F</tspan><tspan dy="-2.3">/||V||</tspan><tspan font-size="5" dy="2.3">F</tspan></text>
<rect x="192.40" y="696.20" width="40.40" height="33.00" fill="#fff" stroke="#888" stroke-width="0.8"/>
<path d="M194.80 700.80H208.40" stroke="#0072BD" stroke-width="1.50"/>
<path d="M201.60 698.10L203.40 700.80L201.60 703.50L199.80 700.80Z" fill="#0072BD" fill-opacity="0.45" stroke="#0072BD" stroke-width="1.15"/>
<text transform="translate(210.80 703.70) scale(1 1.15)" font-size="5.55" fill="#1a1a1a">NMPBB</text>
<path d="M194.80 708.75H208.40" stroke="#D95319" stroke-width="1.50"/>
<circle cx="201.60" cy="708.75" r="2.05" fill="none" stroke="#D95319" stroke-width="1.1"/>
<text transform="translate(210.80 711.65) scale(1 1.15)" font-size="5.55" fill="#1a1a1a">QRPBB</text>
<path d="M194.80 716.70H208.40" stroke="#EDB120" stroke-width="1.50"/>
<path d="M201.60,713.70 L202.34,715.68 L204.45,715.77 L202.80,717.09 L203.36,719.13 L201.60,717.96 L199.84,719.13 L200.40,717.09 L198.75,715.77 L200.86,715.68Z" fill="#EDB120" stroke="#EDB120" stroke-width="0.5"/>
<text transform="translate(210.80 719.60) scale(1 1.15)" font-size="5.55" fill="#1a1a1a">BCD</text>
<path d="M194.80 724.65H208.40" stroke="#7E2F8E" stroke-width="1.50"/>
<circle cx="201.60" cy="724.65" r="2.00" fill="#7E2F8E"/>
<text transform="translate(210.80 727.55) scale(1 1.15)" font-size="5.55" fill="#1a1a1a">HALS</text>
<text x="129.35" y="884.70" font-family="Liberation Serif, serif" font-size="11.00" text-anchor="middle" letter-spacing="0.2" fill="#111"><tspan font-weight="bold">(g)</tspan> (m n r) = (10,000 5000 70)</text>
<g>
<path d="M347.24 723.53 L353.21 768.33 L358.86 780.35 L364.83 789.09 L370.39 792.91 L376.37 800.56 L381.76 807.12 L387.74 815.31 L392.72 820.77 L398.12 825.69 L402.68 828.97 L407.74 831.15 L412.72 833.34 L417.70 833.89 L421.69 834.98 L425.67 835.52 L429.65 836.07 L435.63 837.16 L441.11 838.26 L448.00 839.35 L452.98 839.35 L457.79 839.35 L462.61 839.35 L467.17 839.35 L470.74 839.35 L474.97 839.35 L479.70 839.35 L484.35 839.35 L489.08 839.35 L493.32 839.35" fill="none" stroke="#0072BD" stroke-width="1.50" stroke-linejoin="round"/>
<path d="M347.24 720.83L349.04 723.53L347.24 726.23L345.44 723.53Z" fill="#0072BD" fill-opacity="0.45" stroke="#0072BD" stroke-width="1.15"/><path d="M353.21 765.63L355.01 768.33L353.21 771.03L351.41 768.33Z" fill="#0072BD" fill-opacity="0.45" stroke="#0072BD" stroke-width="1.15"/><path d="M358.86 777.64L360.66 780.35L358.86 783.05L357.06 780.35Z" fill="#0072BD" fill-opacity="0.45" stroke="#0072BD" stroke-width="1.15"/><path d="M364.83 786.39L366.63 789.09L364.83 791.79L363.03 789.09Z" fill="#0072BD" fill-opacity="0.45" stroke="#0072BD" stroke-width="1.15"/><path d="M370.39 790.21L372.19 792.91L370.39 795.61L368.59 792.91Z" fill="#0072BD" fill-opacity="0.45" stroke="#0072BD" stroke-width="1.15"/><path d="M376.37 797.86L378.17 800.56L376.37 803.26L374.57 800.56Z" fill="#0072BD" fill-opacity="0.45" stroke="#0072BD" stroke-width="1.15"/><path d="M381.76 804.42L383.56 807.12L381.76 809.82L379.96 807.12Z" fill="#0072BD" fill-opacity="0.45" stroke="#0072BD" stroke-width="1.15"/><path d="M387.74 812.61L389.54 815.31L387.74 818.01L385.94 815.31Z" fill="#0072BD" fill-opacity="0.45" stroke="#0072BD" stroke-width="1.15"/><path d="M392.72 818.07L394.52 820.77L392.72 823.47L390.92 820.77Z" fill="#0072BD" fill-opacity="0.45" stroke="#0072BD" stroke-width="1.15"/><path d="M398.12 822.99L399.92 825.69L398.12 828.39L396.31 825.69Z" fill="#0072BD" fill-opacity="0.45" stroke="#0072BD" stroke-width="1.15"/><path d="M402.68 826.27L404.48 828.97L402.68 831.67L400.88 828.97Z" fill="#0072BD" fill-opacity="0.45" stroke="#0072BD" stroke-width="1.15"/><path d="M407.74 828.45L409.54 831.15L407.74 833.85L405.94 831.15Z" fill="#0072BD" fill-opacity="0.45" stroke="#0072BD" stroke-width="1.15"/><path d="M412.72 830.64L414.52 833.34L412.72 836.04L410.92 833.34Z" fill="#0072BD" fill-opacity="0.45" stroke="#0072BD" stroke-width="1.15"/><path d="M417.70 831.19L419.50 833.89L417.70 836.59L415.90 833.89Z" fill="#0072BD" fill-opacity="0.45" stroke="#0072BD" stroke-width="1.15"/><path d="M421.69 832.28L423.49 834.98L421.69 837.68L419.89 834.98Z" fill="#0072BD" fill-opacity="0.45" stroke="#0072BD" stroke-width="1.15"/><path d="M425.67 832.82L427.47 835.52L425.67 838.22L423.87 835.52Z" fill="#0072BD" fill-opacity="0.45" stroke="#0072BD" stroke-width="1.15"/><path d="M429.65 833.37L431.45 836.07L429.65 838.77L427.85 836.07Z" fill="#0072BD" fill-opacity="0.45" stroke="#0072BD" stroke-width="1.15"/><path d="M435.63 834.46L437.43 837.16L435.63 839.86L433.83 837.16Z" fill="#0072BD" fill-opacity="0.45" stroke="#0072BD" stroke-width="1.15"/><path d="M441.11 835.56L442.91 838.26L441.11 840.96L439.31 838.26Z" fill="#0072BD" fill-opacity="0.45" stroke="#0072BD" stroke-width="1.15"/><path d="M448.00 836.65L449.80 839.35L448.00 842.05L446.20 839.35Z" fill="#0072BD" fill-opacity="0.45" stroke="#0072BD" stroke-width="1.15"/><path d="M452.98 836.65L454.78 839.35L452.98 842.05L451.18 839.35Z" fill="#0072BD" fill-opacity="0.45" stroke="#0072BD" stroke-width="1.15"/><path d="M457.79 836.65L459.59 839.35L457.79 842.05L455.99 839.35Z" fill="#0072BD" fill-opacity="0.45" stroke="#0072BD" stroke-width="1.15"/><path d="M462.61 836.65L464.41 839.35L462.61 842.05L460.81 839.35Z" fill="#0072BD" fill-opacity="0.45" stroke="#0072BD" stroke-width="1.15"/><path d="M467.17 836.65L468.97 839.35L467.17 842.05L465.37 839.35Z" fill="#0072BD" fill-opacity="0.45" stroke="#0072BD" stroke-width="1.15"/><path d="M470.74 836.65L472.54 839.35L470.74 842.05L468.94 839.35Z" fill="#0072BD" fill-opacity="0.45" stroke="#0072BD" stroke-width="1.15"/><path d="M474.97 836.65L476.77 839.35L474.97 842.05L473.17 839.35Z" fill="#0072BD" fill-opacity="0.45" stroke="#0072BD" stroke-width="1.15"/><path d="M479.70 836.65L481.50 839.35L479.70 842.05L477.90 839.35Z" fill="#0072BD" fill-opacity="0.45" stroke="#0072BD" stroke-width="1.15"/><path d="M484.35 836.65L486.15 839.35L484.35 842.05L482.55 839.35Z" fill="#0072BD" fill-opacity="0.45" stroke="#0072BD" stroke-width="1.15"/><path d="M489.08 836.65L490.88 839.35L489.08 842.05L487.28 839.35Z" fill="#0072BD" fill-opacity="0.45" stroke="#0072BD" stroke-width="1.15"/><path d="M493.32 836.65L495.12 839.35L493.32 842.05L491.52 839.35Z" fill="#0072BD" fill-opacity="0.45" stroke="#0072BD" stroke-width="1.15"/>
<path d="M347.90 754.12 L352.88 774.34 L359.11 780.07 L365.08 784.44 L369.98 786.03 L374.29 787.34 L379.02 788.76 L384.09 790.12 L389.07 791.65 L393.96 793.35 L398.86 794.93 L403.76 796.95 L408.32 798.76 L416.21 800.94 L421.11 802.53 L426.00 804.71 L430.98 806.95 L436.29 809.85 L441.86 813.73 L447.25 817.44 L453.23 818.86 L458.70 820.77 L464.68 822.80 L469.58 824.11 L474.06 825.64 L478.62 827.00 L483.11 827.99 L487.67 829.24 L492.24 830.12 L496.80 830.99" fill="none" stroke="#D95319" stroke-width="1.50" stroke-linejoin="round"/>
<circle cx="347.90" cy="754.12" r="2.05" fill="none" stroke="#D95319" stroke-width="1.1"/><circle cx="352.88" cy="774.34" r="2.05" fill="none" stroke="#D95319" stroke-width="1.1"/><circle cx="359.11" cy="780.07" r="2.05" fill="none" stroke="#D95319" stroke-width="1.1"/><circle cx="365.08" cy="784.44" r="2.05" fill="none" stroke="#D95319" stroke-width="1.1"/><circle cx="369.98" cy="786.03" r="2.05" fill="none" stroke="#D95319" stroke-width="1.1"/><circle cx="374.29" cy="787.34" r="2.05" fill="none" stroke="#D95319" stroke-width="1.1"/><circle cx="379.02" cy="788.76" r="2.05" fill="none" stroke="#D95319" stroke-width="1.1"/><circle cx="384.09" cy="790.12" r="2.05" fill="none" stroke="#D95319" stroke-width="1.1"/><circle cx="389.07" cy="791.65" r="2.05" fill="none" stroke="#D95319" stroke-width="1.1"/><circle cx="393.96" cy="793.35" r="2.05" fill="none" stroke="#D95319" stroke-width="1.1"/><circle cx="398.86" cy="794.93" r="2.05" fill="none" stroke="#D95319" stroke-width="1.1"/><circle cx="403.76" cy="796.95" r="2.05" fill="none" stroke="#D95319" stroke-width="1.1"/><circle cx="408.32" cy="798.76" r="2.05" fill="none" stroke="#D95319" stroke-width="1.1"/><circle cx="416.21" cy="800.94" r="2.05" fill="none" stroke="#D95319" stroke-width="1.1"/><circle cx="421.11" cy="802.53" r="2.05" fill="none" stroke="#D95319" stroke-width="1.1"/><circle cx="426.00" cy="804.71" r="2.05" fill="none" stroke="#D95319" stroke-width="1.1"/><circle cx="430.98" cy="806.95" r="2.05" fill="none" stroke="#D95319" stroke-width="1.1"/><circle cx="436.29" cy="809.85" r="2.05" fill="none" stroke="#D95319" stroke-width="1.1"/><circle cx="441.86" cy="813.73" r="2.05" fill="none" stroke="#D95319" stroke-width="1.1"/><circle cx="447.25" cy="817.44" r="2.05" fill="none" stroke="#D95319" stroke-width="1.1"/><circle cx="453.23" cy="818.86" r="2.05" fill="none" stroke="#D95319" stroke-width="1.1"/><circle cx="458.70" cy="820.77" r="2.05" fill="none" stroke="#D95319" stroke-width="1.1"/><circle cx="464.68" cy="822.80" r="2.05" fill="none" stroke="#D95319" stroke-width="1.1"/><circle cx="469.58" cy="824.11" r="2.05" fill="none" stroke="#D95319" stroke-width="1.1"/><circle cx="474.06" cy="825.64" r="2.05" fill="none" stroke="#D95319" stroke-width="1.1"/><circle cx="478.62" cy="827.00" r="2.05" fill="none" stroke="#D95319" stroke-width="1.1"/><circle cx="483.11" cy="827.99" r="2.05" fill="none" stroke="#D95319" stroke-width="1.1"/><circle cx="487.67" cy="829.24" r="2.05" fill="none" stroke="#D95319" stroke-width="1.1"/><circle cx="492.24" cy="830.12" r="2.05" fill="none" stroke="#D95319" stroke-width="1.1"/><circle cx="496.80" cy="830.99" r="2.05" fill="none" stroke="#D95319" stroke-width="1.1"/>
<path d="M332.88 720.25 L335.20 724.55 L337.51 726.20 L339.83 727.22 L342.15 727.99 L344.47 728.63 L346.79 729.17 L349.11 729.63 L351.43 730.06 L353.74 730.46 L356.06 730.86 L358.38 731.27 L360.70 731.67 L363.02 732.06 L365.34 732.43 L367.66 732.79 L369.98 733.12 L372.29 733.42 L374.61 733.69 L376.93 733.92 L379.25 734.14 L381.57 734.36 L383.89 734.58 L386.21 734.82 L388.52 735.10 L390.84 735.43 L393.16 735.80 L395.48 736.21 L397.80 736.66 L400.12 737.15 L402.44 737.70 L404.75 738.28" fill="none" stroke="#EDB120" stroke-width="1.50" stroke-linejoin="round"/>
<path d="M332.88,717.25 L333.62,719.23 L335.73,719.32 L334.08,720.64 L334.64,722.68 L332.88,721.51 L331.11,722.68 L331.68,720.64 L330.02,719.32 L332.14,719.23Z" fill="#EDB120" stroke="#EDB120" stroke-width="0.5"/><path d="M335.20,721.55 L335.94,723.53 L338.05,723.62 L336.39,724.94 L336.96,726.97 L335.20,725.81 L333.43,726.97 L334.00,724.94 L332.34,723.62 L334.46,723.53Z" fill="#EDB120" stroke="#EDB120" stroke-width="0.5"/><path d="M337.51,723.20 L338.25,725.18 L340.37,725.27 L338.71,726.59 L339.28,728.63 L337.51,727.46 L335.75,728.63 L336.32,726.59 L334.66,725.27 L336.77,725.18Z" fill="#EDB120" stroke="#EDB120" stroke-width="0.5"/><path d="M339.83,724.22 L340.57,726.20 L342.69,726.29 L341.03,727.61 L341.60,729.65 L339.83,728.48 L338.07,729.65 L338.63,727.61 L336.98,726.29 L339.09,726.20Z" fill="#EDB120" stroke="#EDB120" stroke-width="0.5"/><path d="M342.15,724.99 L342.89,726.97 L345.00,727.06 L343.35,728.38 L343.91,730.41 L342.15,729.25 L340.39,730.41 L340.95,728.38 L339.30,727.06 L341.41,726.97Z" fill="#EDB120" stroke="#EDB120" stroke-width="0.5"/><path d="M344.47,725.63 L345.21,727.61 L347.32,727.70 L345.67,729.02 L346.23,731.06 L344.47,729.89 L342.71,731.06 L343.27,729.02 L341.62,727.70 L343.73,727.61Z" fill="#EDB120" stroke="#EDB120" stroke-width="0.5"/><path d="M346.79,726.17 L347.53,728.15 L349.64,728.24 L347.99,729.55 L348.55,731.59 L346.79,730.43 L345.03,731.59 L345.59,729.55 L343.94,728.24 L346.05,728.15Z" fill="#EDB120" stroke="#EDB120" stroke-width="0.5"/><path d="M349.11,726.63 L349.85,728.61 L351.96,728.70 L350.31,730.02 L350.87,732.06 L349.11,730.89 L347.34,732.06 L347.91,730.02 L346.25,728.70 L348.37,728.61Z" fill="#EDB120" stroke="#EDB120" stroke-width="0.5"/><path d="M351.43,727.06 L352.17,729.04 L354.28,729.13 L352.62,730.45 L353.19,732.49 L351.43,731.32 L349.66,732.49 L350.23,730.45 L348.57,729.13 L350.69,729.04Z" fill="#EDB120" stroke="#EDB120" stroke-width="0.5"/><path d="M353.74,727.46 L354.49,729.45 L356.60,729.54 L354.94,730.85 L355.51,732.89 L353.74,731.72 L351.98,732.89 L352.55,730.85 L350.89,729.54 L353.00,729.45Z" fill="#EDB120" stroke="#EDB120" stroke-width="0.5"/><path d="M356.06,727.86 L356.80,729.84 L358.92,729.94 L357.26,731.25 L357.83,733.29 L356.06,732.12 L354.30,733.29 L354.87,731.25 L353.21,729.94 L355.32,729.84Z" fill="#EDB120" stroke="#EDB120" stroke-width="0.5"/><path d="M358.38,728.27 L359.12,730.25 L361.24,730.34 L359.58,731.66 L360.15,733.69 L358.38,732.53 L356.62,733.69 L357.18,731.66 L355.53,730.34 L357.64,730.25Z" fill="#EDB120" stroke="#EDB120" stroke-width="0.5"/><path d="M360.70,728.67 L361.44,730.65 L363.55,730.74 L361.90,732.06 L362.46,734.10 L360.70,732.93 L358.94,734.10 L359.50,732.06 L357.85,730.74 L359.96,730.65Z" fill="#EDB120" stroke="#EDB120" stroke-width="0.5"/><path d="M363.02,729.06 L363.76,731.04 L365.87,731.13 L364.22,732.45 L364.78,734.49 L363.02,733.32 L361.26,734.49 L361.82,732.45 L360.17,731.13 L362.28,731.04Z" fill="#EDB120" stroke="#EDB120" stroke-width="0.5"/><path d="M365.34,729.43 L366.08,731.41 L368.19,731.51 L366.54,732.82 L367.10,734.86 L365.34,733.69 L363.57,734.86 L364.14,732.82 L362.48,731.51 L364.60,731.41Z" fill="#EDB120" stroke="#EDB120" stroke-width="0.5"/><path d="M367.66,729.79 L368.40,731.77 L370.51,731.86 L368.86,733.18 L369.42,735.22 L367.66,734.05 L365.89,735.22 L366.46,733.18 L364.80,731.86 L366.92,731.77Z" fill="#EDB120" stroke="#EDB120" stroke-width="0.5"/><path d="M369.98,730.12 L370.72,732.10 L372.83,732.19 L371.17,733.51 L371.74,735.54 L369.98,734.38 L368.21,735.54 L368.78,733.51 L367.12,732.19 L369.23,732.10Z" fill="#EDB120" stroke="#EDB120" stroke-width="0.5"/><path d="M372.29,730.42 L373.03,732.40 L375.15,732.49 L373.49,733.81 L374.06,735.85 L372.29,734.68 L370.53,735.85 L371.10,733.81 L369.44,732.49 L371.55,732.40Z" fill="#EDB120" stroke="#EDB120" stroke-width="0.5"/><path d="M374.61,730.69 L375.35,732.67 L377.47,732.76 L375.81,734.08 L376.38,736.11 L374.61,734.95 L372.85,736.11 L373.41,734.08 L371.76,732.76 L373.87,732.67Z" fill="#EDB120" stroke="#EDB120" stroke-width="0.5"/><path d="M376.93,730.92 L377.67,732.90 L379.78,732.99 L378.13,734.31 L378.69,736.35 L376.93,735.18 L375.17,736.35 L375.73,734.31 L374.08,732.99 L376.19,732.90Z" fill="#EDB120" stroke="#EDB120" stroke-width="0.5"/><path d="M379.25,731.14 L379.99,733.12 L382.10,733.22 L380.45,734.53 L381.01,736.57 L379.25,735.40 L377.49,736.57 L378.05,734.53 L376.40,733.22 L378.51,733.12Z" fill="#EDB120" stroke="#EDB120" stroke-width="0.5"/><path d="M381.57,731.36 L382.31,733.34 L384.42,733.43 L382.77,734.75 L383.33,736.78 L381.57,735.62 L379.81,736.78 L380.37,734.75 L378.72,733.43 L380.83,733.34Z" fill="#EDB120" stroke="#EDB120" stroke-width="0.5"/><path d="M383.89,731.58 L384.63,733.56 L386.74,733.65 L385.09,734.97 L385.65,737.01 L383.89,735.84 L382.12,737.01 L382.69,734.97 L381.03,733.65 L383.15,733.56Z" fill="#EDB120" stroke="#EDB120" stroke-width="0.5"/><path d="M386.21,731.82 L386.95,733.80 L389.06,733.89 L387.40,735.21 L387.97,737.25 L386.21,736.08 L384.44,737.25 L385.01,735.21 L383.35,733.89 L385.47,733.80Z" fill="#EDB120" stroke="#EDB120" stroke-width="0.5"/><path d="M388.52,732.10 L389.27,734.08 L391.38,734.17 L389.72,735.49 L390.29,737.53 L388.52,736.36 L386.76,737.53 L387.33,735.49 L385.67,734.17 L387.78,734.08Z" fill="#EDB120" stroke="#EDB120" stroke-width="0.5"/><path d="M390.84,732.43 L391.58,734.41 L393.70,734.50 L392.04,735.82 L392.61,737.86 L390.84,736.69 L389.08,737.86 L389.64,735.82 L387.99,734.50 L390.10,734.41Z" fill="#EDB120" stroke="#EDB120" stroke-width="0.5"/><path d="M393.16,732.80 L393.90,734.78 L396.01,734.87 L394.36,736.19 L394.93,738.23 L393.16,737.06 L391.40,738.23 L391.96,736.19 L390.31,734.87 L392.42,734.78Z" fill="#EDB120" stroke="#EDB120" stroke-width="0.5"/><path d="M395.48,733.21 L396.22,735.20 L398.33,735.29 L396.68,736.60 L397.24,738.64 L395.48,737.47 L393.72,738.64 L394.28,736.60 L392.63,735.29 L394.74,735.20Z" fill="#EDB120" stroke="#EDB120" stroke-width="0.5"/><path d="M397.80,733.66 L398.54,735.64 L400.65,735.73 L399.00,737.05 L399.56,739.08 L397.80,737.92 L396.04,739.08 L396.60,737.05 L394.95,735.73 L397.06,735.64Z" fill="#EDB120" stroke="#EDB120" stroke-width="0.5"/><path d="M400.12,734.15 L400.86,736.13 L402.97,736.22 L401.32,737.54 L401.88,739.58 L400.12,738.41 L398.35,739.58 L398.92,737.54 L397.26,736.22 L399.38,736.13Z" fill="#EDB120" stroke="#EDB120" stroke-width="0.5"/><path d="M402.44,734.70 L403.18,736.68 L405.29,736.78 L403.63,738.09 L404.20,740.13 L402.44,738.96 L400.67,740.13 L401.24,738.09 L399.58,736.78 L401.70,736.68Z" fill="#EDB120" stroke="#EDB120" stroke-width="0.5"/><path d="M404.75,735.28 L405.50,737.26 L407.61,737.35 L405.95,738.67 L406.52,740.70 L404.75,739.54 L402.99,740.70 L403.56,738.67 L401.90,737.35 L404.01,737.26Z" fill="#EDB120" stroke="#EDB120" stroke-width="0.5"/>
<path d="M337.48 709.87 L342.35 733.16 L347.22 745.48 L352.08 753.29 L356.95 758.28 L361.82 761.91 L366.69 764.94 L371.55 767.69 L376.42 769.89 L381.29 772.61 L386.15 774.24 L391.02 775.48 L395.89 777.10 L400.75 778.87 L405.62 779.93 L410.49 780.61 L415.35 781.59 L420.22 782.76 L425.09 783.69 L429.96 784.56 L434.82 785.86 L439.69 787.33 L444.56 788.64 L449.42 789.98 L454.29 791.57 L459.16 793.23 L464.02 794.70 L468.89 796.09 L473.76 797.50 L478.62 798.92" fill="none" stroke="#7E2F8E" stroke-width="1.50" stroke-linejoin="round"/>
<circle cx="337.48" cy="709.87" r="2.00" fill="#7E2F8E"/><circle cx="342.35" cy="733.16" r="2.00" fill="#7E2F8E"/><circle cx="347.22" cy="745.48" r="2.00" fill="#7E2F8E"/><circle cx="352.08" cy="753.29" r="2.00" fill="#7E2F8E"/><circle cx="356.95" cy="758.28" r="2.00" fill="#7E2F8E"/><circle cx="361.82" cy="761.91" r="2.00" fill="#7E2F8E"/><circle cx="366.69" cy="764.94" r="2.00" fill="#7E2F8E"/><circle cx="371.55" cy="767.69" r="2.00" fill="#7E2F8E"/><circle cx="376.42" cy="769.89" r="2.00" fill="#7E2F8E"/><circle cx="381.29" cy="772.61" r="2.00" fill="#7E2F8E"/><circle cx="386.15" cy="774.24" r="2.00" fill="#7E2F8E"/><circle cx="391.02" cy="775.48" r="2.00" fill="#7E2F8E"/><circle cx="395.89" cy="777.10" r="2.00" fill="#7E2F8E"/><circle cx="400.75" cy="778.87" r="2.00" fill="#7E2F8E"/><circle cx="405.62" cy="779.93" r="2.00" fill="#7E2F8E"/><circle cx="410.49" cy="780.61" r="2.00" fill="#7E2F8E"/><circle cx="415.35" cy="781.59" r="2.00" fill="#7E2F8E"/><circle cx="420.22" cy="782.76" r="2.00" fill="#7E2F8E"/><circle cx="425.09" cy="783.69" r="2.00" fill="#7E2F8E"/><circle cx="429.96" cy="784.56" r="2.00" fill="#7E2F8E"/><circle cx="434.82" cy="785.86" r="2.00" fill="#7E2F8E"/><circle cx="439.69" cy="787.33" r="2.00" fill="#7E2F8E"/><circle cx="444.56" cy="788.64" r="2.00" fill="#7E2F8E"/><circle cx="449.42" cy="789.98" r="2.00" fill="#7E2F8E"/><circle cx="454.29" cy="791.57" r="2.00" fill="#7E2F8E"/><circle cx="459.16" cy="793.23" r="2.00" fill="#7E2F8E"/><circle cx="464.02" cy="794.70" r="2.00" fill="#7E2F8E"/><circle cx="468.89" cy="796.09" r="2.00" fill="#7E2F8E"/><circle cx="473.76" cy="797.50" r="2.00" fill="#7E2F8E"/><circle cx="478.62" cy="798.92" r="2.00" fill="#7E2F8E"/>
</g>
<rect x="331.30" y="690.20" width="207.50" height="163.90" fill="none" stroke="#808080" stroke-width="1.00"/>
<text x="331.30" y="863.50" font-size="6.40" text-anchor="middle" fill="#444">0</text>
<text x="372.80" y="863.50" font-size="6.40" text-anchor="middle" fill="#444">50</text>
<text x="414.30" y="863.50" font-size="6.40" text-anchor="middle" fill="#444">100</text>
<text x="455.80" y="863.50" font-size="6.40" text-anchor="middle" fill="#444">150</text>
<text x="497.30" y="863.50" font-size="6.40" text-anchor="middle" fill="#444">200</text>
<text x="538.80" y="863.50" font-size="6.40" text-anchor="middle" fill="#444">250</text>
<text x="328.30" y="857.30" font-size="6.40" text-anchor="end" fill="#444">0</text>
<text x="328.30" y="829.98" font-size="6.40" text-anchor="end" fill="#444">0.05</text>
<text x="328.30" y="802.67" font-size="6.40" text-anchor="end" fill="#444">0.1</text>
<text x="328.30" y="775.35" font-size="6.40" text-anchor="end" fill="#444">0.15</text>
<text x="328.30" y="748.03" font-size="6.40" text-anchor="end" fill="#444">0.2</text>
<text x="328.30" y="720.72" font-size="6.40" text-anchor="end" fill="#444">0.25</text>
<text x="328.30" y="693.40" font-size="6.40" text-anchor="end" fill="#444">0.3</text>
<path d="M331.30 854.10V852.10M331.30 690.20V692.20M372.80 854.10V852.10M372.80 690.20V692.20M414.30 854.10V852.10M414.30 690.20V692.20M455.80 854.10V852.10M455.80 690.20V692.20M497.30 854.10V852.10M497.30 690.20V692.20M538.80 854.10V852.10M538.80 690.20V692.20M331.30 854.10H333.30M538.80 854.10H536.80M331.30 826.78H333.30M538.80 826.78H536.80M331.30 799.47H333.30M538.80 799.47H536.80M331.30 772.15H333.30M538.80 772.15H536.80M331.30 744.83H333.30M538.80 744.83H536.80M331.30 717.52H333.30M538.80 717.52H536.80M331.30 690.20H333.30M538.80 690.20H536.80" stroke="#808080" stroke-width="1.00"/>
<text x="435.05" y="687.00" font-size="7.25" text-anchor="middle" fill="#111">Relative residual</text>
<text x="434.05" y="872.50" font-size="7.00" text-anchor="middle" fill="#333">time(second)</text>
<text transform="translate(310.34 772.15) rotate(-90)" font-size="7.50" text-anchor="middle" fill="#222" stroke="#444" stroke-width="0.15">||WH - V||<tspan font-size="5" dy="2.3">F</tspan><tspan dy="-2.3">/||V||</tspan><tspan font-size="5" dy="2.3">F</tspan></text>
<rect x="492.00" y="696.20" width="40.40" height="33.00" fill="#fff" stroke="#888" stroke-width="0.8"/>
<path d="M494.40 700.80H508.00" stroke="#0072BD" stroke-width="1.50"/>
<path d="M501.20 698.10L503.00 700.80L501.20 703.50L499.40 700.80Z" fill="#0072BD" fill-opacity="0.45" stroke="#0072BD" stroke-width="1.15"/>
<text transform="translate(510.40 703.70) scale(1 1.15)" font-size="5.55" fill="#1a1a1a">NMPBB</text>
<path d="M494.40 708.75H508.00" stroke="#D95319" stroke-width="1.50"/>
<circle cx="501.20" cy="708.75" r="2.05" fill="none" stroke="#D95319" stroke-width="1.1"/>
<text transform="translate(510.40 711.65) scale(1 1.15)" font-size="5.55" fill="#1a1a1a">QRPBB</text>
<path d="M494.40 716.70H508.00" stroke="#EDB120" stroke-width="1.50"/>
<path d="M501.20,713.70 L501.94,715.68 L504.05,715.77 L502.40,717.09 L502.96,719.13 L501.20,717.96 L499.44,719.13 L500.00,717.09 L498.35,715.77 L500.46,715.68Z" fill="#EDB120" stroke="#EDB120" stroke-width="0.5"/>
<text transform="translate(510.40 719.60) scale(1 1.15)" font-size="5.55" fill="#1a1a1a">BCD</text>
<path d="M494.40 724.65H508.00" stroke="#7E2F8E" stroke-width="1.50"/>
<circle cx="501.20" cy="724.65" r="2.00" fill="#7E2F8E"/>
<text transform="translate(510.40 727.55) scale(1 1.15)" font-size="5.55" fill="#1a1a1a">HALS</text>
<text x="429.05" y="884.70" font-family="Liberation Serif, serif" font-size="11.00" text-anchor="middle" letter-spacing="0.2" fill="#111"><tspan font-weight="bold">(h)</tspan> (m n r) = (30,000 10,000 80)</text>
</svg>
</body></html>
